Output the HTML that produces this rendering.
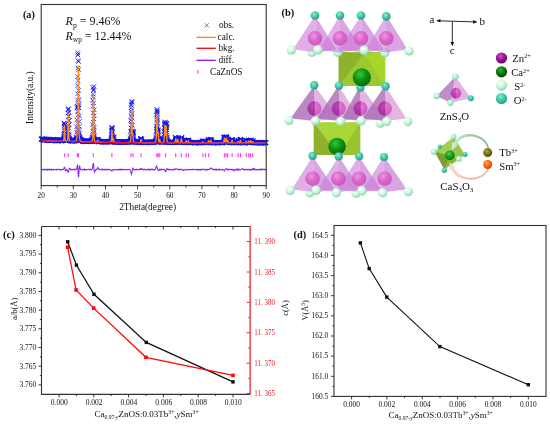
<!DOCTYPE html>
<html><head><meta charset="utf-8"><title>Figure</title>
<style>
html,body{margin:0;padding:0;background:#fff;}
body{width:550px;height:425px;overflow:hidden;}
svg{display:block;}
text{font-family:"Liberation Serif",serif;fill:#111;}
.t7{font-size:7px;}
.red{fill:#f0141e;}
.simsun{font-family:"Liberation Serif","Noto Serif CJK SC",serif;}
</style></head><body>
<svg width="550" height="425" viewBox="0 0 550 425">
<defs>
<radialGradient id="gZn" cx="40%" cy="33%" r="68%"><stop offset="0" stop-color="#f092e2"/><stop offset="0.5" stop-color="#dc5cc8"/><stop offset="1" stop-color="#c650b6"/></radialGradient>
<radialGradient id="gZnL" cx="40%" cy="33%" r="68%"><stop offset="0" stop-color="#d848d4"/><stop offset="0.5" stop-color="#a212a2"/><stop offset="1" stop-color="#660066"/></radialGradient>
<radialGradient id="gCa" cx="40%" cy="33%" r="70%"><stop offset="0" stop-color="#3cc638"/><stop offset="0.5" stop-color="#0e9212"/><stop offset="1" stop-color="#066208"/></radialGradient>
<radialGradient id="gCa2" cx="40%" cy="33%" r="70%"><stop offset="0" stop-color="#48d048"/><stop offset="0.5" stop-color="#14a020"/><stop offset="1" stop-color="#087010"/></radialGradient>
<radialGradient id="gCaL" cx="40%" cy="33%" r="70%"><stop offset="0" stop-color="#34b434"/><stop offset="0.5" stop-color="#087a0a"/><stop offset="1" stop-color="#004400"/></radialGradient>
<radialGradient id="gS" cx="40%" cy="33%" r="70%"><stop offset="0" stop-color="#ffffff"/><stop offset="0.5" stop-color="#cef8e0"/><stop offset="1" stop-color="#86cea8"/></radialGradient>
<radialGradient id="gS2" cx="40%" cy="33%" r="70%"><stop offset="0" stop-color="#eafff2"/><stop offset="0.5" stop-color="#b2f2d0"/><stop offset="1" stop-color="#7cd0a6"/></radialGradient>
<radialGradient id="gO" cx="40%" cy="33%" r="70%"><stop offset="0" stop-color="#8cecd6"/><stop offset="0.5" stop-color="#44c6a8"/><stop offset="1" stop-color="#249a82"/></radialGradient>
<radialGradient id="gTb" cx="40%" cy="33%" r="70%"><stop offset="0" stop-color="#a8a844"/><stop offset="0.5" stop-color="#74741a"/><stop offset="1" stop-color="#484800"/></radialGradient>
<radialGradient id="gSm" cx="40%" cy="33%" r="70%"><stop offset="0" stop-color="#ffaa58"/><stop offset="0.5" stop-color="#ff640a"/><stop offset="1" stop-color="#d04400"/></radialGradient>
<linearGradient id="gArcG" gradientUnits="userSpaceOnUse" x1="489" y1="0" x2="450" y2="0"><stop offset="0" stop-color="#86b088"/><stop offset="0.6" stop-color="#aed4ae"/><stop offset="1" stop-color="#dcf2dc"/></linearGradient>
<linearGradient id="gArcP" gradientUnits="userSpaceOnUse" x1="489" y1="0" x2="447" y2="0"><stop offset="0" stop-color="#efb49a"/><stop offset="0.6" stop-color="#f4c8b2"/><stop offset="1" stop-color="#f9dccc"/></linearGradient>
<filter id="soft" x="-5%" y="-5%" width="110%" height="110%"><feGaussianBlur stdDeviation="0.45"/></filter>
<path id="xm" d="M-2.2,-2.2L2.2,2.2M-2.2,2.2L2.2,-2.2" stroke="#3a3ae4" stroke-width="0.7" fill="none"/>
</defs>
<rect width="550" height="425" fill="#fff"/>

<g id="xrd">
<polyline fill="none" stroke="#1212ee" stroke-width="4.6" stroke-linejoin="round" points="41.2,139.6 41.5,139.6 41.8,139.6 42.2,139.6 42.5,139.6 42.8,139.6 43.1,139.7 43.5,139.7 43.8,139.7 44.1,139.7 44.4,139.7 44.7,139.8 45.1,139.8 45.4,139.8 45.7,139.8 46.0,139.8 46.3,139.8 46.7,139.9 47.0,139.9 47.3,139.9 47.6,139.9 48.0,139.9 48.3,139.9 48.6,140.0 48.9,140.0 49.2,140.0 49.6,140.0 49.9,140.0 50.2,140.0 50.5,140.1 50.8,140.1 51.2,140.1 51.5,140.1 51.8,140.1 52.1,140.1 52.5,140.1 52.8,140.2 53.1,140.2 53.4,140.2 53.7,140.2 54.1,140.2 54.4,140.2 54.7,140.2 55.0,140.3 55.3,140.3 55.7,140.3 56.0,140.3 56.3,140.3 56.6,140.3 57.0,140.3 57.3,140.4 57.6,140.4 57.9,140.4 58.2,140.4 58.6,140.4 58.9,140.4 59.2,140.4 59.5,140.4 59.8,140.4 60.2,140.4 60.5,140.5 60.8,140.5 61.1,140.5 61.5,140.5 61.8,140.5 62.1,140.4 62.4,140.4 62.7,140.4 63.1,140.3 63.4,140.1 63.7,139.6 64.0,138.0 64.3,138.0 64.7,138.0 65.0,138.0 65.3,139.6 65.6,140.1 66.0,140.2 66.3,140.3 66.6,140.2 66.9,140.1 67.2,139.8 67.6,138.9 67.9,138.1 68.2,138.1 68.5,138.1 68.8,138.2 69.2,138.9 69.5,140.0 69.8,140.3 70.1,140.4 70.5,140.5 70.8,140.6 71.1,140.7 71.4,140.7 71.7,140.7 72.1,140.7 72.4,140.7 72.7,140.7 73.0,140.7 73.3,140.7 73.7,140.7 74.0,140.7 74.3,140.7 74.6,140.6 75.0,140.5 75.3,140.4 75.6,140.3 75.9,140.1 76.2,139.7 76.6,139.0 76.9,138.4 77.2,138.4 77.5,138.4 77.8,138.5 78.2,138.5 78.5,138.5 78.8,138.5 79.1,138.5 79.5,138.5 79.8,139.0 80.1,139.7 80.4,140.1 80.7,140.4 81.1,140.6 81.4,140.7 81.7,140.8 82.0,140.9 82.3,141.0 82.7,141.0 83.0,141.0 83.3,141.1 83.6,141.1 84.0,141.1 84.3,141.2 84.6,141.2 84.9,141.2 85.2,141.2 85.6,141.2 85.9,141.2 86.2,141.2 86.5,141.3 86.8,141.3 87.2,141.3 87.5,141.3 87.8,141.3 88.1,141.3 88.5,141.3 88.8,141.3 89.1,141.3 89.4,141.3 89.7,141.3 90.1,141.2 90.4,141.2 90.7,141.2 91.0,141.1 91.3,141.0 91.7,140.8 92.0,140.5 92.3,139.9 92.6,138.9 93.0,138.9 93.3,138.9 93.6,138.9 93.9,138.9 94.2,138.9 94.6,140.0 94.9,140.6 95.2,140.9 95.5,141.1 95.8,141.2 96.2,141.3 96.5,141.3 96.8,141.4 97.1,141.3 97.5,140.5 97.8,139.4 98.1,140.5 98.4,141.4 98.7,141.5 99.1,141.6 99.4,141.6 99.7,141.6 100.0,141.6 100.3,141.6 100.7,141.6 101.0,141.7 101.3,141.7 101.6,141.7 102.0,141.7 102.3,141.7 102.6,141.7 102.9,141.7 103.2,141.7 103.6,141.7 103.9,141.7 104.2,141.7 104.5,141.7 104.8,141.8 105.2,141.8 105.5,141.8 105.8,141.8 106.1,141.8 106.5,141.8 106.8,141.8 107.1,141.8 107.4,141.8 107.7,141.8 108.1,141.8 108.4,141.8 108.7,141.8 109.0,141.8 109.3,141.8 109.7,141.7 110.0,141.7 110.3,141.6 110.6,141.5 111.0,141.2 111.3,139.6 111.6,139.2 111.9,139.2 112.2,139.2 112.6,139.5 112.9,140.3 113.2,139.3 113.5,139.3 113.8,140.8 114.2,141.6 114.5,141.8 114.8,141.8 115.1,141.9 115.5,141.9 115.8,141.9 116.1,141.9 116.4,141.9 116.7,141.9 117.1,142.0 117.4,142.0 117.7,142.0 118.0,142.0 118.3,142.0 118.7,142.0 119.0,142.0 119.3,142.0 119.6,142.0 120.0,142.0 120.3,142.0 120.6,142.0 120.9,142.0 121.2,142.0 121.6,142.0 121.9,142.0 122.2,142.0 122.5,142.0 122.8,142.0 123.2,142.0 123.5,142.0 123.8,142.0 124.1,142.0 124.5,142.0 124.8,142.1 125.1,142.1 125.4,142.1 125.7,142.1 126.1,142.0 126.4,142.0 126.7,142.0 127.0,142.0 127.3,142.0 127.7,142.0 128.0,142.0 128.3,142.0 128.6,141.9 129.0,141.9 129.3,141.8 129.6,141.7 129.9,141.5 130.2,141.2 130.6,140.6 130.9,139.5 131.2,139.5 131.5,139.5 131.8,139.5 132.2,139.5 132.5,139.5 132.8,139.5 133.1,139.5 133.5,140.4 133.8,141.4 134.1,141.7 134.4,141.8 134.7,141.9 135.1,142.0 135.4,142.0 135.7,142.1 136.0,142.1 136.3,142.1 136.7,142.1 137.0,142.1 137.3,142.2 137.6,142.2 138.0,142.2 138.3,142.2 138.6,142.2 138.9,142.2 139.2,142.2 139.6,142.2 139.9,142.1 140.2,141.9 140.5,141.0 140.8,139.6 141.2,139.6 141.5,141.0 141.8,141.9 142.1,142.1 142.5,142.2 142.8,142.2 143.1,142.2 143.4,142.3 143.7,142.3 144.1,142.3 144.4,142.3 144.7,142.3 145.0,142.3 145.3,142.3 145.7,142.3 146.0,142.3 146.3,142.3 146.6,142.3 147.0,142.3 147.3,142.3 147.6,142.3 147.9,142.3 148.2,142.3 148.6,142.3 148.9,142.3 149.2,142.3 149.5,142.3 149.8,142.3 150.2,142.3 150.5,142.3 150.8,142.3 151.1,142.3 151.5,142.3 151.8,142.3 152.1,142.3 152.4,142.3 152.7,142.3 153.1,142.2 153.4,142.2 153.7,142.2 154.0,142.1 154.3,142.1 154.7,142.0 155.0,141.9 155.3,141.7 155.6,141.3 156.0,140.2 156.3,139.7 156.6,139.7 156.9,139.8 157.2,139.8 157.6,139.8 157.9,139.8 158.2,139.8 158.5,139.8 158.8,140.9 159.2,141.1 159.5,140.0 159.8,139.8 160.1,140.2 160.5,141.6 160.8,142.0 161.1,142.1 161.4,142.1 161.7,142.2 162.1,142.2 162.4,142.1 162.7,142.1 163.0,142.0 163.3,141.9 163.7,141.6 164.0,140.9 164.3,139.8 164.6,139.8 165.0,139.8 165.3,139.8 165.6,139.8 165.9,139.8 166.2,139.8 166.6,139.8 166.9,139.8 167.2,141.1 167.5,141.7 167.8,142.0 168.2,142.1 168.5,142.2 168.8,142.3 169.1,142.3 169.5,142.3 169.8,142.4 170.1,142.4 170.4,142.4 170.7,142.4 171.1,142.4 171.4,142.4 171.7,142.4 172.0,142.4 172.3,142.4 172.7,142.4 173.0,142.4 173.3,142.4 173.6,142.4 174.0,142.4 174.3,142.4 174.6,142.3 174.9,141.9 175.2,140.6 175.6,139.9 175.9,139.9 176.2,140.5 176.5,141.8 176.8,142.0 177.2,141.6 177.5,140.1 177.8,139.9 178.1,140.1 178.5,141.6 178.8,142.2 179.1,142.4 179.4,142.4 179.7,142.4 180.1,142.3 180.4,142.2 180.7,141.5 181.0,139.9 181.3,139.9 181.7,139.9 182.0,141.5 182.3,142.2 182.6,142.4 183.0,142.4 183.3,142.5 183.6,142.5 183.9,142.5 184.2,142.5 184.6,142.5 184.9,142.5 185.2,142.4 185.5,142.0 185.8,141.1 186.2,140.2 186.5,141.1 186.8,142.0 187.1,142.4 187.5,142.4 187.8,142.0 188.1,141.1 188.4,140.2 188.7,141.1 189.1,142.1 189.4,142.4 189.7,142.5 190.0,142.5 190.3,142.6 190.7,142.6 191.0,142.6 191.3,142.6 191.6,142.6 192.0,142.6 192.3,142.6 192.6,142.6 192.9,142.6 193.2,142.6 193.6,142.6 193.9,142.6 194.2,142.6 194.5,142.6 194.8,142.6 195.2,142.6 195.5,142.6 195.8,142.6 196.1,142.6 196.5,142.6 196.8,142.6 197.1,142.6 197.4,142.6 197.7,142.6 198.1,142.6 198.4,142.6 198.7,142.6 199.0,142.6 199.3,142.6 199.7,142.6 200.0,142.6 200.3,142.6 200.6,142.6 201.0,142.6 201.3,142.6 201.6,142.6 201.9,142.5 202.2,142.3 202.6,141.6 202.9,141.0 203.2,141.6 203.5,142.3 203.8,142.5 204.2,142.6 204.5,142.6 204.8,142.6 205.1,142.6 205.5,142.6 205.8,142.6 206.1,142.6 206.4,142.6 206.7,142.6 207.1,142.6 207.4,142.6 207.7,142.5 208.0,142.1 208.3,140.9 208.7,140.0 209.0,140.9 209.3,142.0 209.6,142.4 210.0,142.4 210.3,141.9 210.6,140.6 210.9,140.0 211.2,140.6 211.6,142.0 211.9,142.5 212.2,142.6 212.5,142.6 212.8,142.6 213.2,142.6 213.5,142.7 213.8,142.7 214.1,142.7 214.5,142.7 214.8,142.7 215.1,142.7 215.4,142.7 215.7,142.7 216.1,142.7 216.4,142.7 216.7,142.7 217.0,142.7 217.3,142.7 217.7,142.7 218.0,142.7 218.3,142.7 218.6,142.7 218.9,142.7 219.3,142.7 219.6,142.7 219.9,142.7 220.2,142.7 220.6,142.7 220.9,142.7 221.2,142.7 221.5,142.6 221.8,142.6 222.2,142.6 222.5,142.6 222.8,142.5 223.1,142.5 223.4,142.2 223.8,141.2 224.1,140.0 224.4,140.0 224.7,140.0 225.1,141.0 225.4,141.7 225.7,141.0 226.0,140.0 226.3,140.1 226.7,140.1 227.0,140.9 227.3,141.5 227.6,140.6 227.9,140.1 228.3,140.8 228.6,141.9 228.9,142.4 229.2,142.5 229.6,142.6 229.9,142.6 230.2,142.6 230.5,142.6 230.8,142.6 231.2,142.5 231.5,142.0 231.8,140.7 232.1,140.1 232.4,140.7 232.8,142.0 233.1,142.5 233.4,142.6 233.7,142.6 234.1,142.7 234.4,142.7 234.7,142.7 235.0,142.7 235.3,142.7 235.7,142.7 236.0,142.7 236.3,142.7 236.6,142.7 236.9,142.6 237.3,142.6 237.6,142.3 237.9,141.5 238.2,140.8 238.6,141.5 238.9,142.2 239.2,142.5 239.5,142.5 239.8,142.0 240.2,140.7 240.5,140.1 240.8,140.7 241.1,142.0 241.4,142.5 241.8,142.6 242.1,142.7 242.4,142.7 242.7,142.7 243.1,142.7 243.4,142.7 243.7,142.7 244.0,142.7 244.3,142.7 244.7,142.7 245.0,142.7 245.3,142.6 245.6,142.3 245.9,141.4 246.3,140.6 246.6,141.4 246.9,142.2 247.2,142.5 247.6,142.6 247.9,142.5 248.2,142.2 248.5,141.2 248.8,140.3 249.2,141.2 249.5,142.1 249.8,142.4 250.1,142.1 250.4,141.0 250.8,140.1 251.1,141.0 251.4,142.1 251.7,142.5 252.1,142.3 252.4,141.7 252.7,141.1 253.0,141.7 253.3,142.4 253.7,142.6 254.0,142.7 254.3,142.7 254.6,142.7 254.9,142.7 255.3,142.7 255.6,142.8 255.9,142.8 256.2,142.8 256.6,142.8 256.9,142.8 257.2,142.8 257.5,142.8 257.8,142.8 258.2,142.8 258.5,142.8 258.8,142.8 259.1,142.8 259.4,142.8 259.8,142.8 260.1,142.8 260.4,142.8 260.7,142.8 261.1,142.8 261.4,142.8 261.7,142.8 262.0,142.8 262.3,142.8 262.7,142.8 263.0,142.8 263.3,142.8 263.6,142.8 263.9,142.8 264.3,142.8 264.6,142.8 264.9,142.8 265.2,142.8 265.6,142.8 265.9,142.8 266.2,142.8"/>
<path d="M39.0,137.0l4.4,4.4m-4.4,0l4.4,-4.4M39.1,136.7l4.4,4.4m-4.4,0l4.4,-4.4M39.3,137.7l4.4,4.4m-4.4,0l4.4,-4.4M39.4,136.6l4.4,4.4m-4.4,0l4.4,-4.4M39.6,137.5l4.4,4.4m-4.4,0l4.4,-4.4M39.7,137.1l4.4,4.4m-4.4,0l4.4,-4.4M39.9,136.6l4.4,4.4m-4.4,0l4.4,-4.4M40.0,137.4l4.4,4.4m-4.4,0l4.4,-4.4M40.2,136.6l4.4,4.4m-4.4,0l4.4,-4.4M40.3,137.3l4.4,4.4m-4.4,0l4.4,-4.4M40.4,136.6l4.4,4.4m-4.4,0l4.4,-4.4M40.6,136.7l4.4,4.4m-4.4,0l4.4,-4.4M40.7,137.3l4.4,4.4m-4.4,0l4.4,-4.4M40.9,138.1l4.4,4.4m-4.4,0l4.4,-4.4M41.0,136.8l4.4,4.4m-4.4,0l4.4,-4.4M41.2,137.0l4.4,4.4m-4.4,0l4.4,-4.4M41.3,137.7l4.4,4.4m-4.4,0l4.4,-4.4M41.5,138.3l4.4,4.4m-4.4,0l4.4,-4.4M41.6,137.6l4.4,4.4m-4.4,0l4.4,-4.4M41.7,137.3l4.4,4.4m-4.4,0l4.4,-4.4M41.9,138.4l4.4,4.4m-4.4,0l4.4,-4.4M42.0,136.7l4.4,4.4m-4.4,0l4.4,-4.4M42.2,138.2l4.4,4.4m-4.4,0l4.4,-4.4M42.3,137.2l4.4,4.4m-4.4,0l4.4,-4.4M42.5,136.9l4.4,4.4m-4.4,0l4.4,-4.4M42.6,136.9l4.4,4.4m-4.4,0l4.4,-4.4M42.8,137.2l4.4,4.4m-4.4,0l4.4,-4.4M42.9,138.1l4.4,4.4m-4.4,0l4.4,-4.4M43.1,137.0l4.4,4.4m-4.4,0l4.4,-4.4M43.2,137.7l4.4,4.4m-4.4,0l4.4,-4.4M43.3,137.8l4.4,4.4m-4.4,0l4.4,-4.4M43.5,137.4l4.4,4.4m-4.4,0l4.4,-4.4M43.6,137.7l4.4,4.4m-4.4,0l4.4,-4.4M43.8,136.8l4.4,4.4m-4.4,0l4.4,-4.4M43.9,136.8l4.4,4.4m-4.4,0l4.4,-4.4M44.1,137.1l4.4,4.4m-4.4,0l4.4,-4.4M44.2,138.0l4.4,4.4m-4.4,0l4.4,-4.4M44.4,137.5l4.4,4.4m-4.4,0l4.4,-4.4M44.5,137.3l4.4,4.4m-4.4,0l4.4,-4.4M44.6,137.8l4.4,4.4m-4.4,0l4.4,-4.4M44.8,137.6l4.4,4.4m-4.4,0l4.4,-4.4M44.9,137.3l4.4,4.4m-4.4,0l4.4,-4.4M45.1,138.2l4.4,4.4m-4.4,0l4.4,-4.4M45.2,138.0l4.4,4.4m-4.4,0l4.4,-4.4M45.4,137.3l4.4,4.4m-4.4,0l4.4,-4.4M45.5,137.8l4.4,4.4m-4.4,0l4.4,-4.4M45.7,137.8l4.4,4.4m-4.4,0l4.4,-4.4M45.8,138.4l4.4,4.4m-4.4,0l4.4,-4.4M45.9,138.1l4.4,4.4m-4.4,0l4.4,-4.4M46.1,137.4l4.4,4.4m-4.4,0l4.4,-4.4M46.2,138.6l4.4,4.4m-4.4,0l4.4,-4.4M46.4,137.1l4.4,4.4m-4.4,0l4.4,-4.4M46.5,137.6l4.4,4.4m-4.4,0l4.4,-4.4M46.7,138.2l4.4,4.4m-4.4,0l4.4,-4.4M46.8,137.2l4.4,4.4m-4.4,0l4.4,-4.4M47.0,137.8l4.4,4.4m-4.4,0l4.4,-4.4M47.1,137.0l4.4,4.4m-4.4,0l4.4,-4.4M47.2,138.1l4.4,4.4m-4.4,0l4.4,-4.4M47.4,138.3l4.4,4.4m-4.4,0l4.4,-4.4M47.5,137.9l4.4,4.4m-4.4,0l4.4,-4.4M47.7,138.5l4.4,4.4m-4.4,0l4.4,-4.4M47.8,137.5l4.4,4.4m-4.4,0l4.4,-4.4M48.0,138.2l4.4,4.4m-4.4,0l4.4,-4.4M48.1,138.0l4.4,4.4m-4.4,0l4.4,-4.4M48.3,138.0l4.4,4.4m-4.4,0l4.4,-4.4M48.4,137.8l4.4,4.4m-4.4,0l4.4,-4.4M48.5,138.4l4.4,4.4m-4.4,0l4.4,-4.4M48.7,138.6l4.4,4.4m-4.4,0l4.4,-4.4M48.8,137.8l4.4,4.4m-4.4,0l4.4,-4.4M49.0,138.2l4.4,4.4m-4.4,0l4.4,-4.4M49.1,137.2l4.4,4.4m-4.4,0l4.4,-4.4M49.3,138.2l4.4,4.4m-4.4,0l4.4,-4.4M49.4,138.2l4.4,4.4m-4.4,0l4.4,-4.4M49.6,138.7l4.4,4.4m-4.4,0l4.4,-4.4M49.7,138.5l4.4,4.4m-4.4,0l4.4,-4.4M49.8,137.6l4.4,4.4m-4.4,0l4.4,-4.4M50.0,137.7l4.4,4.4m-4.4,0l4.4,-4.4M50.1,138.2l4.4,4.4m-4.4,0l4.4,-4.4M50.3,137.2l4.4,4.4m-4.4,0l4.4,-4.4M50.4,137.9l4.4,4.4m-4.4,0l4.4,-4.4M50.6,137.4l4.4,4.4m-4.4,0l4.4,-4.4M50.7,137.3l4.4,4.4m-4.4,0l4.4,-4.4M50.9,137.3l4.4,4.4m-4.4,0l4.4,-4.4M51.0,138.4l4.4,4.4m-4.4,0l4.4,-4.4M51.2,137.4l4.4,4.4m-4.4,0l4.4,-4.4M51.3,137.6l4.4,4.4m-4.4,0l4.4,-4.4M51.4,137.8l4.4,4.4m-4.4,0l4.4,-4.4M51.6,138.6l4.4,4.4m-4.4,0l4.4,-4.4M51.7,137.3l4.4,4.4m-4.4,0l4.4,-4.4M51.9,137.9l4.4,4.4m-4.4,0l4.4,-4.4M52.0,138.1l4.4,4.4m-4.4,0l4.4,-4.4M52.2,138.7l4.4,4.4m-4.4,0l4.4,-4.4M52.3,138.6l4.4,4.4m-4.4,0l4.4,-4.4M52.5,138.6l4.4,4.4m-4.4,0l4.4,-4.4M52.6,137.7l4.4,4.4m-4.4,0l4.4,-4.4M52.7,137.9l4.4,4.4m-4.4,0l4.4,-4.4M52.9,137.8l4.4,4.4m-4.4,0l4.4,-4.4M53.0,138.7l4.4,4.4m-4.4,0l4.4,-4.4M53.2,138.8l4.4,4.4m-4.4,0l4.4,-4.4M53.3,137.5l4.4,4.4m-4.4,0l4.4,-4.4M53.5,137.6l4.4,4.4m-4.4,0l4.4,-4.4M53.6,137.7l4.4,4.4m-4.4,0l4.4,-4.4M53.8,137.7l4.4,4.4m-4.4,0l4.4,-4.4M53.9,138.1l4.4,4.4m-4.4,0l4.4,-4.4M54.0,138.3l4.4,4.4m-4.4,0l4.4,-4.4M54.2,137.7l4.4,4.4m-4.4,0l4.4,-4.4M54.3,137.3l4.4,4.4m-4.4,0l4.4,-4.4M54.5,138.0l4.4,4.4m-4.4,0l4.4,-4.4M54.6,137.9l4.4,4.4m-4.4,0l4.4,-4.4M54.8,138.2l4.4,4.4m-4.4,0l4.4,-4.4M54.9,138.9l4.4,4.4m-4.4,0l4.4,-4.4M55.1,138.4l4.4,4.4m-4.4,0l4.4,-4.4M55.2,138.2l4.4,4.4m-4.4,0l4.4,-4.4M55.3,138.3l4.4,4.4m-4.4,0l4.4,-4.4M55.5,138.4l4.4,4.4m-4.4,0l4.4,-4.4M55.6,137.5l4.4,4.4m-4.4,0l4.4,-4.4M55.8,138.8l4.4,4.4m-4.4,0l4.4,-4.4M55.9,138.6l4.4,4.4m-4.4,0l4.4,-4.4M56.1,138.8l4.4,4.4m-4.4,0l4.4,-4.4M56.2,138.7l4.4,4.4m-4.4,0l4.4,-4.4M56.4,138.0l4.4,4.4m-4.4,0l4.4,-4.4M56.5,138.0l4.4,4.4m-4.4,0l4.4,-4.4M56.6,137.6l4.4,4.4m-4.4,0l4.4,-4.4M56.8,138.4l4.4,4.4m-4.4,0l4.4,-4.4M56.9,137.5l4.4,4.4m-4.4,0l4.4,-4.4M57.1,137.6l4.4,4.4m-4.4,0l4.4,-4.4M57.2,137.8l4.4,4.4m-4.4,0l4.4,-4.4M57.4,137.7l4.4,4.4m-4.4,0l4.4,-4.4M57.5,138.0l4.4,4.4m-4.4,0l4.4,-4.4M57.7,137.6l4.4,4.4m-4.4,0l4.4,-4.4M57.8,137.5l4.4,4.4m-4.4,0l4.4,-4.4M57.9,137.7l4.4,4.4m-4.4,0l4.4,-4.4M58.1,137.6l4.4,4.4m-4.4,0l4.4,-4.4M58.2,138.0l4.4,4.4m-4.4,0l4.4,-4.4M58.4,137.5l4.4,4.4m-4.4,0l4.4,-4.4M58.5,138.8l4.4,4.4m-4.4,0l4.4,-4.4M58.7,138.4l4.4,4.4m-4.4,0l4.4,-4.4M58.8,137.7l4.4,4.4m-4.4,0l4.4,-4.4M59.0,137.9l4.4,4.4m-4.4,0l4.4,-4.4M59.1,138.0l4.4,4.4m-4.4,0l4.4,-4.4M59.3,138.1l4.4,4.4m-4.4,0l4.4,-4.4M59.4,137.7l4.4,4.4m-4.4,0l4.4,-4.4M59.5,138.8l4.4,4.4m-4.4,0l4.4,-4.4M59.7,139.0l4.4,4.4m-4.4,0l4.4,-4.4M59.8,138.2l4.4,4.4m-4.4,0l4.4,-4.4M60.0,138.2l4.4,4.4m-4.4,0l4.4,-4.4M60.1,137.6l4.4,4.4m-4.4,0l4.4,-4.4M60.3,137.6l4.4,4.4m-4.4,0l4.4,-4.4M60.4,138.0l4.4,4.4m-4.4,0l4.4,-4.4M60.6,137.8l4.4,4.4m-4.4,0l4.4,-4.4M60.7,138.6l4.4,4.4m-4.4,0l4.4,-4.4M60.8,137.6l4.4,4.4m-4.4,0l4.4,-4.4M61.0,137.3l4.4,4.4m-4.4,0l4.4,-4.4M61.1,138.6l4.4,4.4m-4.4,0l4.4,-4.4M61.3,137.8l4.4,4.4m-4.4,0l4.4,-4.4M61.4,137.0l4.4,4.4m-4.4,0l4.4,-4.4M61.6,137.1l4.4,4.4m-4.4,0l4.4,-4.4M61.6,135.9l4.4,4.4m-4.4,0l4.4,-4.4M61.7,136.0l4.4,4.4m-4.4,0l4.4,-4.4M62.3,135.8l4.4,4.4m-4.4,0l4.4,-4.4M61.5,134.1l4.4,4.4m-4.4,0l4.4,-4.4M61.4,132.1l4.4,4.4m-4.4,0l4.4,-4.4M62.0,130.9l4.4,4.4m-4.4,0l4.4,-4.4M61.8,128.7l4.4,4.4m-4.4,0l4.4,-4.4M62.5,125.6l4.4,4.4m-4.4,0l4.4,-4.4M62.6,124.5l4.4,4.4m-4.4,0l4.4,-4.4M62.7,122.4l4.4,4.4m-4.4,0l4.4,-4.4M61.9,121.3l4.4,4.4m-4.4,0l4.4,-4.4M62.1,120.9l4.4,4.4m-4.4,0l4.4,-4.4M61.7,121.3l4.4,4.4m-4.4,0l4.4,-4.4M62.1,123.5l4.4,4.4m-4.4,0l4.4,-4.4M63.2,126.3l4.4,4.4m-4.4,0l4.4,-4.4M63.2,128.2l4.4,4.4m-4.4,0l4.4,-4.4M63.3,131.2l4.4,4.4m-4.4,0l4.4,-4.4M62.3,132.1l4.4,4.4m-4.4,0l4.4,-4.4M62.4,133.5l4.4,4.4m-4.4,0l4.4,-4.4M63.0,134.6l4.4,4.4m-4.4,0l4.4,-4.4M62.9,136.5l4.4,4.4m-4.4,0l4.4,-4.4M63.0,137.1l4.4,4.4m-4.4,0l4.4,-4.4M63.0,137.0l4.4,4.4m-4.4,0l4.4,-4.4M63.1,137.5l4.4,4.4m-4.4,0l4.4,-4.4M63.2,137.9l4.4,4.4m-4.4,0l4.4,-4.4M63.3,137.2l4.4,4.4m-4.4,0l4.4,-4.4M63.5,138.1l4.4,4.4m-4.4,0l4.4,-4.4M63.6,138.5l4.4,4.4m-4.4,0l4.4,-4.4M63.8,138.4l4.4,4.4m-4.4,0l4.4,-4.4M63.9,138.4l4.4,4.4m-4.4,0l4.4,-4.4M64.0,138.0l4.4,4.4m-4.4,0l4.4,-4.4M64.2,137.6l4.4,4.4m-4.4,0l4.4,-4.4M64.3,138.4l4.4,4.4m-4.4,0l4.4,-4.4M64.5,137.7l4.4,4.4m-4.4,0l4.4,-4.4M64.6,138.4l4.4,4.4m-4.4,0l4.4,-4.4M64.8,138.5l4.4,4.4m-4.4,0l4.4,-4.4M64.9,137.6l4.4,4.4m-4.4,0l4.4,-4.4M65.1,137.4l4.4,4.4m-4.4,0l4.4,-4.4M65.2,137.9l4.4,4.4m-4.4,0l4.4,-4.4M65.3,137.4l4.4,4.4m-4.4,0l4.4,-4.4M65.3,136.3l4.4,4.4m-4.4,0l4.4,-4.4M65.4,135.8l4.4,4.4m-4.4,0l4.4,-4.4M65.5,135.2l4.4,4.4m-4.4,0l4.4,-4.4M65.9,135.3l4.4,4.4m-4.4,0l4.4,-4.4M66.0,132.9l4.4,4.4m-4.4,0l4.4,-4.4M65.9,132.2l4.4,4.4m-4.4,0l4.4,-4.4M65.8,128.9l4.4,4.4m-4.4,0l4.4,-4.4M65.1,125.5l4.4,4.4m-4.4,0l4.4,-4.4M66.0,123.1l4.4,4.4m-4.4,0l4.4,-4.4M66.5,118.4l4.4,4.4m-4.4,0l4.4,-4.4M66.5,114.2l4.4,4.4m-4.4,0l4.4,-4.4M65.6,111.0l4.4,4.4m-4.4,0l4.4,-4.4M65.8,107.5l4.4,4.4m-4.4,0l4.4,-4.4M66.3,106.5l4.4,4.4m-4.4,0l4.4,-4.4M66.1,107.5l4.4,4.4m-4.4,0l4.4,-4.4M66.9,110.1l4.4,4.4m-4.4,0l4.4,-4.4M66.3,114.1l4.4,4.4m-4.4,0l4.4,-4.4M67.0,118.5l4.4,4.4m-4.4,0l4.4,-4.4M67.1,122.3l4.4,4.4m-4.4,0l4.4,-4.4M66.6,126.1l4.4,4.4m-4.4,0l4.4,-4.4M65.9,129.1l4.4,4.4m-4.4,0l4.4,-4.4M66.2,131.5l4.4,4.4m-4.4,0l4.4,-4.4M67.2,132.7l4.4,4.4m-4.4,0l4.4,-4.4M66.8,134.3l4.4,4.4m-4.4,0l4.4,-4.4M66.9,136.0l4.4,4.4m-4.4,0l4.4,-4.4M66.9,136.5l4.4,4.4m-4.4,0l4.4,-4.4M67.0,136.6l4.4,4.4m-4.4,0l4.4,-4.4M67.1,137.2l4.4,4.4m-4.4,0l4.4,-4.4M67.1,137.4l4.4,4.4m-4.4,0l4.4,-4.4M67.2,137.9l4.4,4.4m-4.4,0l4.4,-4.4M67.3,137.2l4.4,4.4m-4.4,0l4.4,-4.4M67.5,138.0l4.4,4.4m-4.4,0l4.4,-4.4M67.6,137.7l4.4,4.4m-4.4,0l4.4,-4.4M67.8,137.8l4.4,4.4m-4.4,0l4.4,-4.4M67.9,138.6l4.4,4.4m-4.4,0l4.4,-4.4M68.1,138.3l4.4,4.4m-4.4,0l4.4,-4.4M68.2,138.4l4.4,4.4m-4.4,0l4.4,-4.4M68.3,138.7l4.4,4.4m-4.4,0l4.4,-4.4M68.5,138.9l4.4,4.4m-4.4,0l4.4,-4.4M68.6,138.3l4.4,4.4m-4.4,0l4.4,-4.4M68.8,138.6l4.4,4.4m-4.4,0l4.4,-4.4M68.9,138.5l4.4,4.4m-4.4,0l4.4,-4.4M69.1,138.5l4.4,4.4m-4.4,0l4.4,-4.4M69.2,138.7l4.4,4.4m-4.4,0l4.4,-4.4M69.4,138.4l4.4,4.4m-4.4,0l4.4,-4.4M69.5,138.5l4.4,4.4m-4.4,0l4.4,-4.4M69.6,138.5l4.4,4.4m-4.4,0l4.4,-4.4M69.8,139.1l4.4,4.4m-4.4,0l4.4,-4.4M69.9,138.8l4.4,4.4m-4.4,0l4.4,-4.4M70.1,139.0l4.4,4.4m-4.4,0l4.4,-4.4M70.2,139.1l4.4,4.4m-4.4,0l4.4,-4.4M70.4,138.2l4.4,4.4m-4.4,0l4.4,-4.4M70.5,138.6l4.4,4.4m-4.4,0l4.4,-4.4M70.7,139.1l4.4,4.4m-4.4,0l4.4,-4.4M70.8,139.0l4.4,4.4m-4.4,0l4.4,-4.4M71.0,138.0l4.4,4.4m-4.4,0l4.4,-4.4M71.1,138.0l4.4,4.4m-4.4,0l4.4,-4.4M71.2,138.4l4.4,4.4m-4.4,0l4.4,-4.4M71.4,137.9l4.4,4.4m-4.4,0l4.4,-4.4M71.5,138.2l4.4,4.4m-4.4,0l4.4,-4.4M71.7,137.9l4.4,4.4m-4.4,0l4.4,-4.4M71.8,138.7l4.4,4.4m-4.4,0l4.4,-4.4M72.0,138.8l4.4,4.4m-4.4,0l4.4,-4.4M72.1,139.0l4.4,4.4m-4.4,0l4.4,-4.4M72.3,138.0l4.4,4.4m-4.4,0l4.4,-4.4M72.4,138.7l4.4,4.4m-4.4,0l4.4,-4.4M72.5,138.6l4.4,4.4m-4.4,0l4.4,-4.4M72.7,137.9l4.4,4.4m-4.4,0l4.4,-4.4M72.8,138.8l4.4,4.4m-4.4,0l4.4,-4.4M73.0,138.8l4.4,4.4m-4.4,0l4.4,-4.4M73.1,137.8l4.4,4.4m-4.4,0l4.4,-4.4M73.3,138.7l4.4,4.4m-4.4,0l4.4,-4.4M73.4,137.9l4.4,4.4m-4.4,0l4.4,-4.4M73.6,137.9l4.4,4.4m-4.4,0l4.4,-4.4M73.7,138.5l4.4,4.4m-4.4,0l4.4,-4.4M73.8,138.1l4.4,4.4m-4.4,0l4.4,-4.4M73.9,137.2l4.4,4.4m-4.4,0l4.4,-4.4M74.0,137.4l4.4,4.4m-4.4,0l4.4,-4.4M74.0,137.4l4.4,4.4m-4.4,0l4.4,-4.4M74.1,137.1l4.4,4.4m-4.4,0l4.4,-4.4M74.2,136.8l4.4,4.4m-4.4,0l4.4,-4.4M74.2,136.8l4.4,4.4m-4.4,0l4.4,-4.4M74.3,137.1l4.4,4.4m-4.4,0l4.4,-4.4M74.4,136.0l4.4,4.4m-4.4,0l4.4,-4.4M74.4,136.4l4.4,4.4m-4.4,0l4.4,-4.4M74.5,135.9l4.4,4.4m-4.4,0l4.4,-4.4M74.3,134.9l4.4,4.4m-4.4,0l4.4,-4.4M74.6,134.9l4.4,4.4m-4.4,0l4.4,-4.4M75.4,133.2l4.4,4.4m-4.4,0l4.4,-4.4M75.4,132.7l4.4,4.4m-4.4,0l4.4,-4.4M74.5,130.0l4.4,4.4m-4.4,0l4.4,-4.4M75.3,127.5l4.4,4.4m-4.4,0l4.4,-4.4M74.4,124.7l4.4,4.4m-4.4,0l4.4,-4.4M75.6,121.3l4.4,4.4m-4.4,0l4.4,-4.4M74.7,117.8l4.4,4.4m-4.4,0l4.4,-4.4M75.7,112.7l4.4,4.4m-4.4,0l4.4,-4.4M75.5,109.3l4.4,4.4m-4.4,0l4.4,-4.4M74.6,105.5l4.4,4.4m-4.4,0l4.4,-4.4M75.2,104.4l4.4,4.4m-4.4,0l4.4,-4.4M76.0,103.3l4.4,4.4m-4.4,0l4.4,-4.4M75.9,104.6l4.4,4.4m-4.4,0l4.4,-4.4M76.0,104.8l4.4,4.4m-4.4,0l4.4,-4.4M76.1,105.1l4.4,4.4m-4.4,0l4.4,-4.4M75.4,104.7l4.4,4.4m-4.4,0l4.4,-4.4M76.3,102.3l4.4,4.4m-4.4,0l4.4,-4.4M75.3,97.6l4.4,4.4m-4.4,0l4.4,-4.4M75.5,91.7l4.4,4.4m-4.4,0l4.4,-4.4M75.4,83.4l4.4,4.4m-4.4,0l4.4,-4.4M75.5,74.5l4.4,4.4m-4.4,0l4.4,-4.4M75.8,65.8l4.4,4.4m-4.4,0l4.4,-4.4M75.8,58.4l4.4,4.4m-4.4,0l4.4,-4.4M75.7,52.5l4.4,4.4m-4.4,0l4.4,-4.4M75.5,50.4l4.4,4.4m-4.4,0l4.4,-4.4M75.6,52.7l4.4,4.4m-4.4,0l4.4,-4.4M76.4,59.4l4.4,4.4m-4.4,0l4.4,-4.4M76.4,67.4l4.4,4.4m-4.4,0l4.4,-4.4M75.9,78.3l4.4,4.4m-4.4,0l4.4,-4.4M76.4,88.3l4.4,4.4m-4.4,0l4.4,-4.4M77.1,97.5l4.4,4.4m-4.4,0l4.4,-4.4M76.7,105.9l4.4,4.4m-4.4,0l4.4,-4.4M77.4,113.6l4.4,4.4m-4.4,0l4.4,-4.4M77.3,119.1l4.4,4.4m-4.4,0l4.4,-4.4M77.1,124.2l4.4,4.4m-4.4,0l4.4,-4.4M76.7,127.4l4.4,4.4m-4.4,0l4.4,-4.4M76.5,129.5l4.4,4.4m-4.4,0l4.4,-4.4M77.4,131.4l4.4,4.4m-4.4,0l4.4,-4.4M76.6,133.0l4.4,4.4m-4.4,0l4.4,-4.4M77.7,133.8l4.4,4.4m-4.4,0l4.4,-4.4M77.5,135.4l4.4,4.4m-4.4,0l4.4,-4.4M77.0,135.2l4.4,4.4m-4.4,0l4.4,-4.4M77.4,135.6l4.4,4.4m-4.4,0l4.4,-4.4M77.4,136.1l4.4,4.4m-4.4,0l4.4,-4.4M77.5,136.0l4.4,4.4m-4.4,0l4.4,-4.4M77.6,136.6l4.4,4.4m-4.4,0l4.4,-4.4M77.6,136.6l4.4,4.4m-4.4,0l4.4,-4.4M77.7,137.6l4.4,4.4m-4.4,0l4.4,-4.4M77.8,137.8l4.4,4.4m-4.4,0l4.4,-4.4M77.8,137.4l4.4,4.4m-4.4,0l4.4,-4.4M77.9,137.1l4.4,4.4m-4.4,0l4.4,-4.4M78.0,138.1l4.4,4.4m-4.4,0l4.4,-4.4M78.0,137.4l4.4,4.4m-4.4,0l4.4,-4.4M78.1,137.6l4.4,4.4m-4.4,0l4.4,-4.4M78.2,137.2l4.4,4.4m-4.4,0l4.4,-4.4M78.2,137.7l4.4,4.4m-4.4,0l4.4,-4.4M78.4,138.0l4.4,4.4m-4.4,0l4.4,-4.4M78.5,138.2l4.4,4.4m-4.4,0l4.4,-4.4M78.6,137.9l4.4,4.4m-4.4,0l4.4,-4.4M78.8,138.3l4.4,4.4m-4.4,0l4.4,-4.4M78.9,137.8l4.4,4.4m-4.4,0l4.4,-4.4M79.1,138.2l4.4,4.4m-4.4,0l4.4,-4.4M79.2,138.0l4.4,4.4m-4.4,0l4.4,-4.4M79.4,138.4l4.4,4.4m-4.4,0l4.4,-4.4M79.5,138.0l4.4,4.4m-4.4,0l4.4,-4.4M79.7,138.1l4.4,4.4m-4.4,0l4.4,-4.4M79.8,138.4l4.4,4.4m-4.4,0l4.4,-4.4M80.0,138.4l4.4,4.4m-4.4,0l4.4,-4.4M80.1,138.8l4.4,4.4m-4.4,0l4.4,-4.4M80.2,138.8l4.4,4.4m-4.4,0l4.4,-4.4M80.4,139.1l4.4,4.4m-4.4,0l4.4,-4.4M80.5,139.0l4.4,4.4m-4.4,0l4.4,-4.4M80.7,139.1l4.4,4.4m-4.4,0l4.4,-4.4M80.8,139.3l4.4,4.4m-4.4,0l4.4,-4.4M81.0,138.7l4.4,4.4m-4.4,0l4.4,-4.4M81.1,138.7l4.4,4.4m-4.4,0l4.4,-4.4M81.3,139.5l4.4,4.4m-4.4,0l4.4,-4.4M81.4,138.5l4.4,4.4m-4.4,0l4.4,-4.4M81.5,139.2l4.4,4.4m-4.4,0l4.4,-4.4M81.7,139.1l4.4,4.4m-4.4,0l4.4,-4.4M81.8,138.4l4.4,4.4m-4.4,0l4.4,-4.4M82.0,139.3l4.4,4.4m-4.4,0l4.4,-4.4M82.1,139.4l4.4,4.4m-4.4,0l4.4,-4.4M82.3,139.1l4.4,4.4m-4.4,0l4.4,-4.4M82.4,139.2l4.4,4.4m-4.4,0l4.4,-4.4M82.6,139.3l4.4,4.4m-4.4,0l4.4,-4.4M82.7,138.6l4.4,4.4m-4.4,0l4.4,-4.4M82.8,139.0l4.4,4.4m-4.4,0l4.4,-4.4M83.0,139.0l4.4,4.4m-4.4,0l4.4,-4.4M83.1,139.4l4.4,4.4m-4.4,0l4.4,-4.4M83.3,139.4l4.4,4.4m-4.4,0l4.4,-4.4M83.4,139.4l4.4,4.4m-4.4,0l4.4,-4.4M83.6,139.1l4.4,4.4m-4.4,0l4.4,-4.4M83.7,139.5l4.4,4.4m-4.4,0l4.4,-4.4M83.9,139.3l4.4,4.4m-4.4,0l4.4,-4.4M84.0,139.3l4.4,4.4m-4.4,0l4.4,-4.4M84.1,138.7l4.4,4.4m-4.4,0l4.4,-4.4M84.3,138.5l4.4,4.4m-4.4,0l4.4,-4.4M84.4,138.6l4.4,4.4m-4.4,0l4.4,-4.4M84.6,138.9l4.4,4.4m-4.4,0l4.4,-4.4M84.7,138.6l4.4,4.4m-4.4,0l4.4,-4.4M84.9,139.5l4.4,4.4m-4.4,0l4.4,-4.4M85.0,139.1l4.4,4.4m-4.4,0l4.4,-4.4M85.2,139.2l4.4,4.4m-4.4,0l4.4,-4.4M85.3,139.2l4.4,4.4m-4.4,0l4.4,-4.4M85.4,139.3l4.4,4.4m-4.4,0l4.4,-4.4M85.6,139.1l4.4,4.4m-4.4,0l4.4,-4.4M85.7,138.5l4.4,4.4m-4.4,0l4.4,-4.4M85.9,139.4l4.4,4.4m-4.4,0l4.4,-4.4M86.0,139.4l4.4,4.4m-4.4,0l4.4,-4.4M86.2,139.1l4.4,4.4m-4.4,0l4.4,-4.4M86.3,139.1l4.4,4.4m-4.4,0l4.4,-4.4M86.5,139.3l4.4,4.4m-4.4,0l4.4,-4.4M86.6,138.6l4.4,4.4m-4.4,0l4.4,-4.4M86.7,139.4l4.4,4.4m-4.4,0l4.4,-4.4M86.9,138.8l4.4,4.4m-4.4,0l4.4,-4.4M87.0,138.6l4.4,4.4m-4.4,0l4.4,-4.4M87.2,138.8l4.4,4.4m-4.4,0l4.4,-4.4M87.3,139.3l4.4,4.4m-4.4,0l4.4,-4.4M87.5,138.7l4.4,4.4m-4.4,0l4.4,-4.4M87.6,139.3l4.4,4.4m-4.4,0l4.4,-4.4M87.8,139.6l4.4,4.4m-4.4,0l4.4,-4.4M87.9,139.0l4.4,4.4m-4.4,0l4.4,-4.4M88.1,138.9l4.4,4.4m-4.4,0l4.4,-4.4M88.2,139.0l4.4,4.4m-4.4,0l4.4,-4.4M88.3,139.2l4.4,4.4m-4.4,0l4.4,-4.4M88.5,139.3l4.4,4.4m-4.4,0l4.4,-4.4M88.6,139.1l4.4,4.4m-4.4,0l4.4,-4.4M88.8,139.1l4.4,4.4m-4.4,0l4.4,-4.4M88.9,138.4l4.4,4.4m-4.4,0l4.4,-4.4M89.1,138.4l4.4,4.4m-4.4,0l4.4,-4.4M89.2,138.5l4.4,4.4m-4.4,0l4.4,-4.4M89.4,138.9l4.4,4.4m-4.4,0l4.4,-4.4M89.5,138.4l4.4,4.4m-4.4,0l4.4,-4.4M89.6,138.5l4.4,4.4m-4.4,0l4.4,-4.4M89.8,137.7l4.4,4.4m-4.4,0l4.4,-4.4M89.9,137.6l4.4,4.4m-4.4,0l4.4,-4.4M90.0,137.7l4.4,4.4m-4.4,0l4.4,-4.4M90.1,138.0l4.4,4.4m-4.4,0l4.4,-4.4M90.1,137.8l4.4,4.4m-4.4,0l4.4,-4.4M90.2,137.5l4.4,4.4m-4.4,0l4.4,-4.4M90.3,136.8l4.4,4.4m-4.4,0l4.4,-4.4M90.3,136.6l4.4,4.4m-4.4,0l4.4,-4.4M90.4,135.9l4.4,4.4m-4.4,0l4.4,-4.4M89.9,135.1l4.4,4.4m-4.4,0l4.4,-4.4M90.1,134.3l4.4,4.4m-4.4,0l4.4,-4.4M91.2,132.6l4.4,4.4m-4.4,0l4.4,-4.4M90.6,129.1l4.4,4.4m-4.4,0l4.4,-4.4M91.4,126.7l4.4,4.4m-4.4,0l4.4,-4.4M90.4,122.1l4.4,4.4m-4.4,0l4.4,-4.4M91.5,116.7l4.4,4.4m-4.4,0l4.4,-4.4M91.0,110.7l4.4,4.4m-4.4,0l4.4,-4.4M91.0,104.1l4.4,4.4m-4.4,0l4.4,-4.4M90.5,98.3l4.4,4.4m-4.4,0l4.4,-4.4M91.1,92.0l4.4,4.4m-4.4,0l4.4,-4.4M91.4,87.3l4.4,4.4m-4.4,0l4.4,-4.4M91.8,84.3l4.4,4.4m-4.4,0l4.4,-4.4M90.6,85.4l4.4,4.4m-4.4,0l4.4,-4.4M91.3,88.5l4.4,4.4m-4.4,0l4.4,-4.4M91.1,94.5l4.4,4.4m-4.4,0l4.4,-4.4M91.3,100.7l4.4,4.4m-4.4,0l4.4,-4.4M92.0,107.6l4.4,4.4m-4.4,0l4.4,-4.4M92.0,113.6l4.4,4.4m-4.4,0l4.4,-4.4M91.1,120.1l4.4,4.4m-4.4,0l4.4,-4.4M92.0,124.9l4.4,4.4m-4.4,0l4.4,-4.4M91.5,128.6l4.4,4.4m-4.4,0l4.4,-4.4M91.7,130.8l4.4,4.4m-4.4,0l4.4,-4.4M92.0,133.6l4.4,4.4m-4.4,0l4.4,-4.4M91.9,134.4l4.4,4.4m-4.4,0l4.4,-4.4M91.4,135.4l4.4,4.4m-4.4,0l4.4,-4.4M92.1,135.9l4.4,4.4m-4.4,0l4.4,-4.4M92.2,137.2l4.4,4.4m-4.4,0l4.4,-4.4M92.2,137.0l4.4,4.4m-4.4,0l4.4,-4.4M92.3,138.0l4.4,4.4m-4.4,0l4.4,-4.4M92.4,137.5l4.4,4.4m-4.4,0l4.4,-4.4M92.4,137.6l4.4,4.4m-4.4,0l4.4,-4.4M92.5,138.1l4.4,4.4m-4.4,0l4.4,-4.4M92.6,137.8l4.4,4.4m-4.4,0l4.4,-4.4M92.6,138.1l4.4,4.4m-4.4,0l4.4,-4.4M92.8,139.0l4.4,4.4m-4.4,0l4.4,-4.4M92.9,139.0l4.4,4.4m-4.4,0l4.4,-4.4M93.1,139.1l4.4,4.4m-4.4,0l4.4,-4.4M93.2,139.0l4.4,4.4m-4.4,0l4.4,-4.4M93.4,139.3l4.4,4.4m-4.4,0l4.4,-4.4M93.5,139.4l4.4,4.4m-4.4,0l4.4,-4.4M93.6,139.0l4.4,4.4m-4.4,0l4.4,-4.4M93.8,139.3l4.4,4.4m-4.4,0l4.4,-4.4M93.9,138.6l4.4,4.4m-4.4,0l4.4,-4.4M94.1,139.4l4.4,4.4m-4.4,0l4.4,-4.4M94.2,139.1l4.4,4.4m-4.4,0l4.4,-4.4M94.4,139.4l4.4,4.4m-4.4,0l4.4,-4.4M94.5,139.3l4.4,4.4m-4.4,0l4.4,-4.4M94.7,138.9l4.4,4.4m-4.4,0l4.4,-4.4M94.8,138.6l4.4,4.4m-4.4,0l4.4,-4.4M94.9,139.5l4.4,4.4m-4.4,0l4.4,-4.4M95.1,138.4l4.4,4.4m-4.4,0l4.4,-4.4M95.2,138.3l4.4,4.4m-4.4,0l4.4,-4.4M95.3,137.9l4.4,4.4m-4.4,0l4.4,-4.4M95.4,137.5l4.4,4.4m-4.4,0l4.4,-4.4M95.4,137.7l4.4,4.4m-4.4,0l4.4,-4.4M95.5,137.7l4.4,4.4m-4.4,0l4.4,-4.4M95.6,136.8l4.4,4.4m-4.4,0l4.4,-4.4M95.6,137.3l4.4,4.4m-4.4,0l4.4,-4.4M95.7,137.1l4.4,4.4m-4.4,0l4.4,-4.4M95.7,137.6l4.4,4.4m-4.4,0l4.4,-4.4M95.8,137.8l4.4,4.4m-4.4,0l4.4,-4.4M95.9,137.9l4.4,4.4m-4.4,0l4.4,-4.4M95.9,138.1l4.4,4.4m-4.4,0l4.4,-4.4M96.1,138.6l4.4,4.4m-4.4,0l4.4,-4.4M96.2,139.6l4.4,4.4m-4.4,0l4.4,-4.4M96.4,139.3l4.4,4.4m-4.4,0l4.4,-4.4M96.5,139.0l4.4,4.4m-4.4,0l4.4,-4.4M96.7,139.8l4.4,4.4m-4.4,0l4.4,-4.4M96.8,139.9l4.4,4.4m-4.4,0l4.4,-4.4M97.0,139.3l4.4,4.4m-4.4,0l4.4,-4.4M97.1,139.0l4.4,4.4m-4.4,0l4.4,-4.4M97.2,139.1l4.4,4.4m-4.4,0l4.4,-4.4M97.4,139.0l4.4,4.4m-4.4,0l4.4,-4.4M97.5,139.2l4.4,4.4m-4.4,0l4.4,-4.4M97.7,139.0l4.4,4.4m-4.4,0l4.4,-4.4M97.8,139.1l4.4,4.4m-4.4,0l4.4,-4.4M98.0,139.2l4.4,4.4m-4.4,0l4.4,-4.4M98.1,139.5l4.4,4.4m-4.4,0l4.4,-4.4M98.3,139.8l4.4,4.4m-4.4,0l4.4,-4.4M98.4,139.7l4.4,4.4m-4.4,0l4.4,-4.4M98.5,139.4l4.4,4.4m-4.4,0l4.4,-4.4M98.7,139.4l4.4,4.4m-4.4,0l4.4,-4.4M98.8,139.5l4.4,4.4m-4.4,0l4.4,-4.4M99.0,139.3l4.4,4.4m-4.4,0l4.4,-4.4M99.1,139.3l4.4,4.4m-4.4,0l4.4,-4.4M99.3,139.0l4.4,4.4m-4.4,0l4.4,-4.4M99.4,139.2l4.4,4.4m-4.4,0l4.4,-4.4M99.6,140.0l4.4,4.4m-4.4,0l4.4,-4.4M99.7,139.1l4.4,4.4m-4.4,0l4.4,-4.4M99.8,139.5l4.4,4.4m-4.4,0l4.4,-4.4M100.0,139.6l4.4,4.4m-4.4,0l4.4,-4.4M100.1,139.9l4.4,4.4m-4.4,0l4.4,-4.4M100.3,139.2l4.4,4.4m-4.4,0l4.4,-4.4M100.4,139.3l4.4,4.4m-4.4,0l4.4,-4.4M100.6,139.2l4.4,4.4m-4.4,0l4.4,-4.4M100.7,139.4l4.4,4.4m-4.4,0l4.4,-4.4M100.9,139.5l4.4,4.4m-4.4,0l4.4,-4.4M101.0,140.0l4.4,4.4m-4.4,0l4.4,-4.4M101.1,139.9l4.4,4.4m-4.4,0l4.4,-4.4M101.3,139.9l4.4,4.4m-4.4,0l4.4,-4.4M101.4,139.0l4.4,4.4m-4.4,0l4.4,-4.4M101.6,139.0l4.4,4.4m-4.4,0l4.4,-4.4M101.7,139.7l4.4,4.4m-4.4,0l4.4,-4.4M101.9,139.9l4.4,4.4m-4.4,0l4.4,-4.4M102.0,139.5l4.4,4.4m-4.4,0l4.4,-4.4M102.2,139.6l4.4,4.4m-4.4,0l4.4,-4.4M102.3,139.0l4.4,4.4m-4.4,0l4.4,-4.4M102.5,139.4l4.4,4.4m-4.4,0l4.4,-4.4M102.6,140.0l4.4,4.4m-4.4,0l4.4,-4.4M102.7,139.9l4.4,4.4m-4.4,0l4.4,-4.4M102.9,139.9l4.4,4.4m-4.4,0l4.4,-4.4M103.0,140.0l4.4,4.4m-4.4,0l4.4,-4.4M103.2,139.3l4.4,4.4m-4.4,0l4.4,-4.4M103.3,139.2l4.4,4.4m-4.4,0l4.4,-4.4M103.5,139.2l4.4,4.4m-4.4,0l4.4,-4.4M103.6,139.6l4.4,4.4m-4.4,0l4.4,-4.4M103.8,139.8l4.4,4.4m-4.4,0l4.4,-4.4M103.9,140.0l4.4,4.4m-4.4,0l4.4,-4.4M104.0,139.8l4.4,4.4m-4.4,0l4.4,-4.4M104.2,139.7l4.4,4.4m-4.4,0l4.4,-4.4M104.3,139.9l4.4,4.4m-4.4,0l4.4,-4.4M104.5,139.5l4.4,4.4m-4.4,0l4.4,-4.4M104.6,139.6l4.4,4.4m-4.4,0l4.4,-4.4M104.8,139.1l4.4,4.4m-4.4,0l4.4,-4.4M104.9,139.9l4.4,4.4m-4.4,0l4.4,-4.4M105.1,139.3l4.4,4.4m-4.4,0l4.4,-4.4M105.2,140.0l4.4,4.4m-4.4,0l4.4,-4.4M105.3,139.7l4.4,4.4m-4.4,0l4.4,-4.4M105.5,139.4l4.4,4.4m-4.4,0l4.4,-4.4M105.6,139.2l4.4,4.4m-4.4,0l4.4,-4.4M105.8,139.3l4.4,4.4m-4.4,0l4.4,-4.4M105.9,139.7l4.4,4.4m-4.4,0l4.4,-4.4M106.1,139.8l4.4,4.4m-4.4,0l4.4,-4.4M106.2,139.2l4.4,4.4m-4.4,0l4.4,-4.4M106.4,139.2l4.4,4.4m-4.4,0l4.4,-4.4M106.5,139.6l4.4,4.4m-4.4,0l4.4,-4.4M106.6,139.7l4.4,4.4m-4.4,0l4.4,-4.4M106.8,139.5l4.4,4.4m-4.4,0l4.4,-4.4M106.9,139.3l4.4,4.4m-4.4,0l4.4,-4.4M107.1,139.7l4.4,4.4m-4.4,0l4.4,-4.4M107.2,139.1l4.4,4.4m-4.4,0l4.4,-4.4M107.4,139.3l4.4,4.4m-4.4,0l4.4,-4.4M107.5,139.5l4.4,4.4m-4.4,0l4.4,-4.4M107.7,140.0l4.4,4.4m-4.4,0l4.4,-4.4M107.8,139.6l4.4,4.4m-4.4,0l4.4,-4.4M107.9,139.8l4.4,4.4m-4.4,0l4.4,-4.4M108.1,139.4l4.4,4.4m-4.4,0l4.4,-4.4M108.2,139.1l4.4,4.4m-4.4,0l4.4,-4.4M108.4,139.1l4.4,4.4m-4.4,0l4.4,-4.4M108.5,139.7l4.4,4.4m-4.4,0l4.4,-4.4M108.7,139.3l4.4,4.4m-4.4,0l4.4,-4.4M108.8,138.6l4.4,4.4m-4.4,0l4.4,-4.4M109.0,137.7l4.4,4.4m-4.4,0l4.4,-4.4M109.0,137.7l4.4,4.4m-4.4,0l4.4,-4.4M109.1,137.3l4.4,4.4m-4.4,0l4.4,-4.4M109.2,136.3l4.4,4.4m-4.4,0l4.4,-4.4M109.5,135.1l4.4,4.4m-4.4,0l4.4,-4.4M108.9,134.5l4.4,4.4m-4.4,0l4.4,-4.4M109.1,132.2l4.4,4.4m-4.4,0l4.4,-4.4M109.7,131.0l4.4,4.4m-4.4,0l4.4,-4.4M109.9,129.1l4.4,4.4m-4.4,0l4.4,-4.4M109.5,128.1l4.4,4.4m-4.4,0l4.4,-4.4M110.3,126.3l4.4,4.4m-4.4,0l4.4,-4.4M110.1,125.5l4.4,4.4m-4.4,0l4.4,-4.4M109.3,125.3l4.4,4.4m-4.4,0l4.4,-4.4M109.5,126.3l4.4,4.4m-4.4,0l4.4,-4.4M109.9,127.6l4.4,4.4m-4.4,0l4.4,-4.4M109.5,128.3l4.4,4.4m-4.4,0l4.4,-4.4M110.2,130.1l4.4,4.4m-4.4,0l4.4,-4.4M109.6,132.3l4.4,4.4m-4.4,0l4.4,-4.4M109.7,133.2l4.4,4.4m-4.4,0l4.4,-4.4M109.7,135.1l4.4,4.4m-4.4,0l4.4,-4.4M109.6,135.3l4.4,4.4m-4.4,0l4.4,-4.4M110.3,136.5l4.4,4.4m-4.4,0l4.4,-4.4M110.4,137.7l4.4,4.4m-4.4,0l4.4,-4.4M110.4,138.1l4.4,4.4m-4.4,0l4.4,-4.4M110.5,138.2l4.4,4.4m-4.4,0l4.4,-4.4M110.6,138.6l4.4,4.4m-4.4,0l4.4,-4.4M110.6,138.5l4.4,4.4m-4.4,0l4.4,-4.4M110.7,137.8l4.4,4.4m-4.4,0l4.4,-4.4M110.8,137.4l4.4,4.4m-4.4,0l4.4,-4.4M110.8,137.7l4.4,4.4m-4.4,0l4.4,-4.4M110.9,137.0l4.4,4.4m-4.4,0l4.4,-4.4M111.2,135.7l4.4,4.4m-4.4,0l4.4,-4.4M110.8,135.5l4.4,4.4m-4.4,0l4.4,-4.4M110.6,135.0l4.4,4.4m-4.4,0l4.4,-4.4M110.8,134.4l4.4,4.4m-4.4,0l4.4,-4.4M111.8,134.9l4.4,4.4m-4.4,0l4.4,-4.4M111.9,135.1l4.4,4.4m-4.4,0l4.4,-4.4M111.1,135.7l4.4,4.4m-4.4,0l4.4,-4.4M111.4,137.0l4.4,4.4m-4.4,0l4.4,-4.4M111.5,137.6l4.4,4.4m-4.4,0l4.4,-4.4M111.5,137.8l4.4,4.4m-4.4,0l4.4,-4.4M111.6,137.9l4.4,4.4m-4.4,0l4.4,-4.4M111.7,138.6l4.4,4.4m-4.4,0l4.4,-4.4M111.8,139.0l4.4,4.4m-4.4,0l4.4,-4.4M111.9,139.8l4.4,4.4m-4.4,0l4.4,-4.4M112.1,139.2l4.4,4.4m-4.4,0l4.4,-4.4M112.2,139.4l4.4,4.4m-4.4,0l4.4,-4.4M112.4,140.0l4.4,4.4m-4.4,0l4.4,-4.4M112.5,139.1l4.4,4.4m-4.4,0l4.4,-4.4M112.7,139.5l4.4,4.4m-4.4,0l4.4,-4.4M112.8,139.9l4.4,4.4m-4.4,0l4.4,-4.4M113.0,139.9l4.4,4.4m-4.4,0l4.4,-4.4M113.1,139.2l4.4,4.4m-4.4,0l4.4,-4.4M113.3,139.2l4.4,4.4m-4.4,0l4.4,-4.4M113.4,139.3l4.4,4.4m-4.4,0l4.4,-4.4M113.5,140.1l4.4,4.4m-4.4,0l4.4,-4.4M113.7,139.5l4.4,4.4m-4.4,0l4.4,-4.4M113.8,140.0l4.4,4.4m-4.4,0l4.4,-4.4M114.0,140.1l4.4,4.4m-4.4,0l4.4,-4.4M114.1,139.6l4.4,4.4m-4.4,0l4.4,-4.4M114.3,139.5l4.4,4.4m-4.4,0l4.4,-4.4M114.4,140.2l4.4,4.4m-4.4,0l4.4,-4.4M114.6,139.9l4.4,4.4m-4.4,0l4.4,-4.4M114.7,139.5l4.4,4.4m-4.4,0l4.4,-4.4M114.8,140.0l4.4,4.4m-4.4,0l4.4,-4.4M115.0,139.6l4.4,4.4m-4.4,0l4.4,-4.4M115.1,139.6l4.4,4.4m-4.4,0l4.4,-4.4M115.3,139.3l4.4,4.4m-4.4,0l4.4,-4.4M115.4,140.0l4.4,4.4m-4.4,0l4.4,-4.4M115.6,140.2l4.4,4.4m-4.4,0l4.4,-4.4M115.7,139.9l4.4,4.4m-4.4,0l4.4,-4.4M115.9,140.2l4.4,4.4m-4.4,0l4.4,-4.4M116.0,139.3l4.4,4.4m-4.4,0l4.4,-4.4M116.1,139.5l4.4,4.4m-4.4,0l4.4,-4.4M116.3,139.8l4.4,4.4m-4.4,0l4.4,-4.4M116.4,140.2l4.4,4.4m-4.4,0l4.4,-4.4M116.6,140.2l4.4,4.4m-4.4,0l4.4,-4.4M116.7,139.7l4.4,4.4m-4.4,0l4.4,-4.4M116.9,139.6l4.4,4.4m-4.4,0l4.4,-4.4M117.0,139.7l4.4,4.4m-4.4,0l4.4,-4.4M117.2,139.8l4.4,4.4m-4.4,0l4.4,-4.4M117.3,140.2l4.4,4.4m-4.4,0l4.4,-4.4M117.4,139.5l4.4,4.4m-4.4,0l4.4,-4.4M117.6,140.1l4.4,4.4m-4.4,0l4.4,-4.4M117.7,140.0l4.4,4.4m-4.4,0l4.4,-4.4M117.9,140.1l4.4,4.4m-4.4,0l4.4,-4.4M118.0,140.1l4.4,4.4m-4.4,0l4.4,-4.4M118.2,139.9l4.4,4.4m-4.4,0l4.4,-4.4M118.3,139.7l4.4,4.4m-4.4,0l4.4,-4.4M118.5,139.6l4.4,4.4m-4.4,0l4.4,-4.4M118.6,139.7l4.4,4.4m-4.4,0l4.4,-4.4M118.7,140.1l4.4,4.4m-4.4,0l4.4,-4.4M118.9,139.4l4.4,4.4m-4.4,0l4.4,-4.4M119.0,139.5l4.4,4.4m-4.4,0l4.4,-4.4M119.2,140.1l4.4,4.4m-4.4,0l4.4,-4.4M119.3,139.6l4.4,4.4m-4.4,0l4.4,-4.4M119.5,139.4l4.4,4.4m-4.4,0l4.4,-4.4M119.6,139.4l4.4,4.4m-4.4,0l4.4,-4.4M119.8,139.9l4.4,4.4m-4.4,0l4.4,-4.4M119.9,139.7l4.4,4.4m-4.4,0l4.4,-4.4M120.0,140.3l4.4,4.4m-4.4,0l4.4,-4.4M120.2,140.2l4.4,4.4m-4.4,0l4.4,-4.4M120.3,140.3l4.4,4.4m-4.4,0l4.4,-4.4M120.5,139.6l4.4,4.4m-4.4,0l4.4,-4.4M120.6,139.5l4.4,4.4m-4.4,0l4.4,-4.4M120.8,139.5l4.4,4.4m-4.4,0l4.4,-4.4M120.9,139.8l4.4,4.4m-4.4,0l4.4,-4.4M121.1,140.0l4.4,4.4m-4.4,0l4.4,-4.4M121.2,139.8l4.4,4.4m-4.4,0l4.4,-4.4M121.4,139.6l4.4,4.4m-4.4,0l4.4,-4.4M121.5,139.8l4.4,4.4m-4.4,0l4.4,-4.4M121.6,140.0l4.4,4.4m-4.4,0l4.4,-4.4M121.8,140.0l4.4,4.4m-4.4,0l4.4,-4.4M121.9,140.1l4.4,4.4m-4.4,0l4.4,-4.4M122.1,140.2l4.4,4.4m-4.4,0l4.4,-4.4M122.2,140.0l4.4,4.4m-4.4,0l4.4,-4.4M122.4,139.5l4.4,4.4m-4.4,0l4.4,-4.4M122.5,140.2l4.4,4.4m-4.4,0l4.4,-4.4M122.7,139.7l4.4,4.4m-4.4,0l4.4,-4.4M122.8,139.9l4.4,4.4m-4.4,0l4.4,-4.4M122.9,139.7l4.4,4.4m-4.4,0l4.4,-4.4M123.1,140.1l4.4,4.4m-4.4,0l4.4,-4.4M123.2,139.6l4.4,4.4m-4.4,0l4.4,-4.4M123.4,139.6l4.4,4.4m-4.4,0l4.4,-4.4M123.5,139.6l4.4,4.4m-4.4,0l4.4,-4.4M123.7,139.5l4.4,4.4m-4.4,0l4.4,-4.4M123.8,140.2l4.4,4.4m-4.4,0l4.4,-4.4M124.0,139.9l4.4,4.4m-4.4,0l4.4,-4.4M124.1,139.7l4.4,4.4m-4.4,0l4.4,-4.4M124.2,139.7l4.4,4.4m-4.4,0l4.4,-4.4M124.4,140.3l4.4,4.4m-4.4,0l4.4,-4.4M124.5,139.8l4.4,4.4m-4.4,0l4.4,-4.4M124.7,139.6l4.4,4.4m-4.4,0l4.4,-4.4M124.8,140.1l4.4,4.4m-4.4,0l4.4,-4.4M125.0,140.0l4.4,4.4m-4.4,0l4.4,-4.4M125.1,140.3l4.4,4.4m-4.4,0l4.4,-4.4M125.3,139.4l4.4,4.4m-4.4,0l4.4,-4.4M125.4,139.8l4.4,4.4m-4.4,0l4.4,-4.4M125.5,140.1l4.4,4.4m-4.4,0l4.4,-4.4M125.7,140.1l4.4,4.4m-4.4,0l4.4,-4.4M125.8,140.1l4.4,4.4m-4.4,0l4.4,-4.4M126.0,139.3l4.4,4.4m-4.4,0l4.4,-4.4M126.1,139.6l4.4,4.4m-4.4,0l4.4,-4.4M126.3,139.4l4.4,4.4m-4.4,0l4.4,-4.4M126.4,139.4l4.4,4.4m-4.4,0l4.4,-4.4M126.6,140.1l4.4,4.4m-4.4,0l4.4,-4.4M126.7,139.7l4.4,4.4m-4.4,0l4.4,-4.4M126.8,140.0l4.4,4.4m-4.4,0l4.4,-4.4M127.0,139.5l4.4,4.4m-4.4,0l4.4,-4.4M127.1,139.9l4.4,4.4m-4.4,0l4.4,-4.4M127.3,139.5l4.4,4.4m-4.4,0l4.4,-4.4M127.4,139.2l4.4,4.4m-4.4,0l4.4,-4.4M127.6,139.6l4.4,4.4m-4.4,0l4.4,-4.4M127.7,139.7l4.4,4.4m-4.4,0l4.4,-4.4M127.9,138.8l4.4,4.4m-4.4,0l4.4,-4.4M128.0,139.1l4.4,4.4m-4.4,0l4.4,-4.4M128.1,138.9l4.4,4.4m-4.4,0l4.4,-4.4M128.2,138.4l4.4,4.4m-4.4,0l4.4,-4.4M128.3,138.4l4.4,4.4m-4.4,0l4.4,-4.4M128.3,138.0l4.4,4.4m-4.4,0l4.4,-4.4M128.4,137.9l4.4,4.4m-4.4,0l4.4,-4.4M128.5,137.6l4.4,4.4m-4.4,0l4.4,-4.4M128.5,137.5l4.4,4.4m-4.4,0l4.4,-4.4M128.6,136.9l4.4,4.4m-4.4,0l4.4,-4.4M128.0,135.7l4.4,4.4m-4.4,0l4.4,-4.4M129.0,134.7l4.4,4.4m-4.4,0l4.4,-4.4M128.5,133.1l4.4,4.4m-4.4,0l4.4,-4.4M129.3,131.2l4.4,4.4m-4.4,0l4.4,-4.4M128.3,129.0l4.4,4.4m-4.4,0l4.4,-4.4M128.8,125.6l4.4,4.4m-4.4,0l4.4,-4.4M129.2,122.4l4.4,4.4m-4.4,0l4.4,-4.4M128.6,118.0l4.4,4.4m-4.4,0l4.4,-4.4M129.1,114.1l4.4,4.4m-4.4,0l4.4,-4.4M129.0,109.3l4.4,4.4m-4.4,0l4.4,-4.4M129.0,105.6l4.4,4.4m-4.4,0l4.4,-4.4M129.2,101.8l4.4,4.4m-4.4,0l4.4,-4.4M129.9,99.5l4.4,4.4m-4.4,0l4.4,-4.4M129.3,99.5l4.4,4.4m-4.4,0l4.4,-4.4M129.9,100.1l4.4,4.4m-4.4,0l4.4,-4.4M128.9,103.0l4.4,4.4m-4.4,0l4.4,-4.4M129.6,107.4l4.4,4.4m-4.4,0l4.4,-4.4M129.6,111.6l4.4,4.4m-4.4,0l4.4,-4.4M129.8,116.0l4.4,4.4m-4.4,0l4.4,-4.4M129.2,119.4l4.4,4.4m-4.4,0l4.4,-4.4M130.1,123.2l4.4,4.4m-4.4,0l4.4,-4.4M129.4,126.4l4.4,4.4m-4.4,0l4.4,-4.4M129.9,128.4l4.4,4.4m-4.4,0l4.4,-4.4M129.6,129.8l4.4,4.4m-4.4,0l4.4,-4.4M130.2,130.4l4.4,4.4m-4.4,0l4.4,-4.4M129.7,131.3l4.4,4.4m-4.4,0l4.4,-4.4M130.8,130.8l4.4,4.4m-4.4,0l4.4,-4.4M130.0,130.8l4.4,4.4m-4.4,0l4.4,-4.4M131.1,129.5l4.4,4.4m-4.4,0l4.4,-4.4M130.5,129.8l4.4,4.4m-4.4,0l4.4,-4.4M131.2,128.9l4.4,4.4m-4.4,0l4.4,-4.4M131.2,129.6l4.4,4.4m-4.4,0l4.4,-4.4M131.2,130.5l4.4,4.4m-4.4,0l4.4,-4.4M131.2,131.1l4.4,4.4m-4.4,0l4.4,-4.4M130.7,132.4l4.4,4.4m-4.4,0l4.4,-4.4M131.4,134.1l4.4,4.4m-4.4,0l4.4,-4.4M130.6,134.7l4.4,4.4m-4.4,0l4.4,-4.4M131.1,135.9l4.4,4.4m-4.4,0l4.4,-4.4M131.1,136.7l4.4,4.4m-4.4,0l4.4,-4.4M131.2,137.1l4.4,4.4m-4.4,0l4.4,-4.4M131.2,137.7l4.4,4.4m-4.4,0l4.4,-4.4M131.3,138.5l4.4,4.4m-4.4,0l4.4,-4.4M131.4,139.0l4.4,4.4m-4.4,0l4.4,-4.4M131.4,138.4l4.4,4.4m-4.4,0l4.4,-4.4M131.5,139.1l4.4,4.4m-4.4,0l4.4,-4.4M131.6,139.5l4.4,4.4m-4.4,0l4.4,-4.4M131.8,139.0l4.4,4.4m-4.4,0l4.4,-4.4M131.9,139.8l4.4,4.4m-4.4,0l4.4,-4.4M132.1,139.2l4.4,4.4m-4.4,0l4.4,-4.4M132.2,139.7l4.4,4.4m-4.4,0l4.4,-4.4M132.4,139.7l4.4,4.4m-4.4,0l4.4,-4.4M132.5,139.8l4.4,4.4m-4.4,0l4.4,-4.4M132.6,139.6l4.4,4.4m-4.4,0l4.4,-4.4M132.8,139.7l4.4,4.4m-4.4,0l4.4,-4.4M132.9,139.9l4.4,4.4m-4.4,0l4.4,-4.4M133.1,139.7l4.4,4.4m-4.4,0l4.4,-4.4M133.2,140.0l4.4,4.4m-4.4,0l4.4,-4.4M133.4,139.8l4.4,4.4m-4.4,0l4.4,-4.4M133.5,139.8l4.4,4.4m-4.4,0l4.4,-4.4M133.7,139.5l4.4,4.4m-4.4,0l4.4,-4.4M133.8,140.0l4.4,4.4m-4.4,0l4.4,-4.4M134.0,139.9l4.4,4.4m-4.4,0l4.4,-4.4M134.1,139.7l4.4,4.4m-4.4,0l4.4,-4.4M134.2,140.1l4.4,4.4m-4.4,0l4.4,-4.4M134.4,140.2l4.4,4.4m-4.4,0l4.4,-4.4M134.5,139.9l4.4,4.4m-4.4,0l4.4,-4.4M134.7,139.7l4.4,4.4m-4.4,0l4.4,-4.4M134.8,139.9l4.4,4.4m-4.4,0l4.4,-4.4M135.0,139.6l4.4,4.4m-4.4,0l4.4,-4.4M135.1,139.6l4.4,4.4m-4.4,0l4.4,-4.4M135.3,139.9l4.4,4.4m-4.4,0l4.4,-4.4M135.4,139.6l4.4,4.4m-4.4,0l4.4,-4.4M135.5,139.9l4.4,4.4m-4.4,0l4.4,-4.4M135.7,140.0l4.4,4.4m-4.4,0l4.4,-4.4M135.8,139.6l4.4,4.4m-4.4,0l4.4,-4.4M136.0,140.1l4.4,4.4m-4.4,0l4.4,-4.4M136.1,139.6l4.4,4.4m-4.4,0l4.4,-4.4M136.3,140.2l4.4,4.4m-4.4,0l4.4,-4.4M136.4,140.2l4.4,4.4m-4.4,0l4.4,-4.4M136.6,140.0l4.4,4.4m-4.4,0l4.4,-4.4M136.7,139.6l4.4,4.4m-4.4,0l4.4,-4.4M136.8,140.0l4.4,4.4m-4.4,0l4.4,-4.4M137.0,139.9l4.4,4.4m-4.4,0l4.4,-4.4M137.1,140.3l4.4,4.4m-4.4,0l4.4,-4.4M137.3,139.6l4.4,4.4m-4.4,0l4.4,-4.4M137.4,140.2l4.4,4.4m-4.4,0l4.4,-4.4M137.6,140.3l4.4,4.4m-4.4,0l4.4,-4.4M137.7,140.1l4.4,4.4m-4.4,0l4.4,-4.4M137.9,140.1l4.4,4.4m-4.4,0l4.4,-4.4M138.0,139.4l4.4,4.4m-4.4,0l4.4,-4.4M138.1,139.8l4.4,4.4m-4.4,0l4.4,-4.4M138.3,138.9l4.4,4.4m-4.4,0l4.4,-4.4M138.4,139.0l4.4,4.4m-4.4,0l4.4,-4.4M138.4,138.6l4.4,4.4m-4.4,0l4.4,-4.4M138.5,137.5l4.4,4.4m-4.4,0l4.4,-4.4M138.5,137.6l4.4,4.4m-4.4,0l4.4,-4.4M138.6,137.2l4.4,4.4m-4.4,0l4.4,-4.4M138.5,136.1l4.4,4.4m-4.4,0l4.4,-4.4M138.3,136.4l4.4,4.4m-4.4,0l4.4,-4.4M138.5,136.4l4.4,4.4m-4.4,0l4.4,-4.4M138.4,136.5l4.4,4.4m-4.4,0l4.4,-4.4M139.5,136.5l4.4,4.4m-4.4,0l4.4,-4.4M139.0,136.6l4.4,4.4m-4.4,0l4.4,-4.4M139.1,137.1l4.4,4.4m-4.4,0l4.4,-4.4M139.1,137.8l4.4,4.4m-4.4,0l4.4,-4.4M139.2,138.1l4.4,4.4m-4.4,0l4.4,-4.4M139.3,138.2l4.4,4.4m-4.4,0l4.4,-4.4M139.3,138.7l4.4,4.4m-4.4,0l4.4,-4.4M139.4,138.9l4.4,4.4m-4.4,0l4.4,-4.4M139.5,140.0l4.4,4.4m-4.4,0l4.4,-4.4M139.7,140.0l4.4,4.4m-4.4,0l4.4,-4.4M139.8,140.2l4.4,4.4m-4.4,0l4.4,-4.4M140.0,139.7l4.4,4.4m-4.4,0l4.4,-4.4M140.1,140.2l4.4,4.4m-4.4,0l4.4,-4.4M140.3,139.7l4.4,4.4m-4.4,0l4.4,-4.4M140.4,140.0l4.4,4.4m-4.4,0l4.4,-4.4M140.5,140.1l4.4,4.4m-4.4,0l4.4,-4.4M140.7,139.9l4.4,4.4m-4.4,0l4.4,-4.4M140.8,140.3l4.4,4.4m-4.4,0l4.4,-4.4M141.0,140.1l4.4,4.4m-4.4,0l4.4,-4.4M141.1,140.1l4.4,4.4m-4.4,0l4.4,-4.4M141.3,140.4l4.4,4.4m-4.4,0l4.4,-4.4M141.4,139.7l4.4,4.4m-4.4,0l4.4,-4.4M141.6,140.5l4.4,4.4m-4.4,0l4.4,-4.4M141.7,140.2l4.4,4.4m-4.4,0l4.4,-4.4M141.8,140.0l4.4,4.4m-4.4,0l4.4,-4.4M142.0,140.3l4.4,4.4m-4.4,0l4.4,-4.4M142.1,139.9l4.4,4.4m-4.4,0l4.4,-4.4M142.3,140.5l4.4,4.4m-4.4,0l4.4,-4.4M142.4,140.1l4.4,4.4m-4.4,0l4.4,-4.4M142.6,140.0l4.4,4.4m-4.4,0l4.4,-4.4M142.7,140.3l4.4,4.4m-4.4,0l4.4,-4.4M142.9,140.0l4.4,4.4m-4.4,0l4.4,-4.4M143.0,139.8l4.4,4.4m-4.4,0l4.4,-4.4M143.1,140.3l4.4,4.4m-4.4,0l4.4,-4.4M143.3,139.7l4.4,4.4m-4.4,0l4.4,-4.4M143.4,140.4l4.4,4.4m-4.4,0l4.4,-4.4M143.6,139.9l4.4,4.4m-4.4,0l4.4,-4.4M143.7,140.2l4.4,4.4m-4.4,0l4.4,-4.4M143.9,140.5l4.4,4.4m-4.4,0l4.4,-4.4M144.0,140.2l4.4,4.4m-4.4,0l4.4,-4.4M144.2,140.2l4.4,4.4m-4.4,0l4.4,-4.4M144.3,140.0l4.4,4.4m-4.4,0l4.4,-4.4M144.4,139.7l4.4,4.4m-4.4,0l4.4,-4.4M144.6,139.7l4.4,4.4m-4.4,0l4.4,-4.4M144.7,139.8l4.4,4.4m-4.4,0l4.4,-4.4M144.9,140.2l4.4,4.4m-4.4,0l4.4,-4.4M145.0,140.1l4.4,4.4m-4.4,0l4.4,-4.4M145.2,140.1l4.4,4.4m-4.4,0l4.4,-4.4M145.3,140.4l4.4,4.4m-4.4,0l4.4,-4.4M145.5,139.8l4.4,4.4m-4.4,0l4.4,-4.4M145.6,139.9l4.4,4.4m-4.4,0l4.4,-4.4M145.7,140.2l4.4,4.4m-4.4,0l4.4,-4.4M145.9,139.7l4.4,4.4m-4.4,0l4.4,-4.4M146.0,139.7l4.4,4.4m-4.4,0l4.4,-4.4M146.2,140.0l4.4,4.4m-4.4,0l4.4,-4.4M146.3,139.8l4.4,4.4m-4.4,0l4.4,-4.4M146.5,140.0l4.4,4.4m-4.4,0l4.4,-4.4M146.6,139.9l4.4,4.4m-4.4,0l4.4,-4.4M146.8,140.2l4.4,4.4m-4.4,0l4.4,-4.4M146.9,140.2l4.4,4.4m-4.4,0l4.4,-4.4M147.0,139.9l4.4,4.4m-4.4,0l4.4,-4.4M147.2,140.2l4.4,4.4m-4.4,0l4.4,-4.4M147.3,140.1l4.4,4.4m-4.4,0l4.4,-4.4M147.5,139.8l4.4,4.4m-4.4,0l4.4,-4.4M147.6,140.5l4.4,4.4m-4.4,0l4.4,-4.4M147.8,139.9l4.4,4.4m-4.4,0l4.4,-4.4M147.9,139.8l4.4,4.4m-4.4,0l4.4,-4.4M148.1,139.8l4.4,4.4m-4.4,0l4.4,-4.4M148.2,140.2l4.4,4.4m-4.4,0l4.4,-4.4M148.4,140.4l4.4,4.4m-4.4,0l4.4,-4.4M148.5,140.3l4.4,4.4m-4.4,0l4.4,-4.4M148.6,140.0l4.4,4.4m-4.4,0l4.4,-4.4M148.8,139.9l4.4,4.4m-4.4,0l4.4,-4.4M148.9,139.7l4.4,4.4m-4.4,0l4.4,-4.4M149.1,140.2l4.4,4.4m-4.4,0l4.4,-4.4M149.2,140.2l4.4,4.4m-4.4,0l4.4,-4.4M149.4,140.0l4.4,4.4m-4.4,0l4.4,-4.4M149.5,140.2l4.4,4.4m-4.4,0l4.4,-4.4M149.7,140.0l4.4,4.4m-4.4,0l4.4,-4.4M149.8,140.4l4.4,4.4m-4.4,0l4.4,-4.4M149.9,140.3l4.4,4.4m-4.4,0l4.4,-4.4M150.1,139.9l4.4,4.4m-4.4,0l4.4,-4.4M150.2,140.4l4.4,4.4m-4.4,0l4.4,-4.4M150.4,139.7l4.4,4.4m-4.4,0l4.4,-4.4M150.5,140.1l4.4,4.4m-4.4,0l4.4,-4.4M150.7,140.0l4.4,4.4m-4.4,0l4.4,-4.4M150.8,139.8l4.4,4.4m-4.4,0l4.4,-4.4M151.0,139.7l4.4,4.4m-4.4,0l4.4,-4.4M151.1,140.2l4.4,4.4m-4.4,0l4.4,-4.4M151.2,139.6l4.4,4.4m-4.4,0l4.4,-4.4M151.4,140.0l4.4,4.4m-4.4,0l4.4,-4.4M151.5,140.3l4.4,4.4m-4.4,0l4.4,-4.4M151.7,139.7l4.4,4.4m-4.4,0l4.4,-4.4M151.8,139.7l4.4,4.4m-4.4,0l4.4,-4.4M152.0,140.0l4.4,4.4m-4.4,0l4.4,-4.4M152.1,139.9l4.4,4.4m-4.4,0l4.4,-4.4M152.3,140.0l4.4,4.4m-4.4,0l4.4,-4.4M152.4,140.1l4.4,4.4m-4.4,0l4.4,-4.4M152.5,139.5l4.4,4.4m-4.4,0l4.4,-4.4M152.7,139.5l4.4,4.4m-4.4,0l4.4,-4.4M152.8,139.5l4.4,4.4m-4.4,0l4.4,-4.4M153.0,139.2l4.4,4.4m-4.4,0l4.4,-4.4M153.1,139.7l4.4,4.4m-4.4,0l4.4,-4.4M153.3,139.5l4.4,4.4m-4.4,0l4.4,-4.4M153.4,139.2l4.4,4.4m-4.4,0l4.4,-4.4M153.5,138.5l4.4,4.4m-4.4,0l4.4,-4.4M153.5,139.1l4.4,4.4m-4.4,0l4.4,-4.4M153.6,138.8l4.4,4.4m-4.4,0l4.4,-4.4M153.7,138.3l4.4,4.4m-4.4,0l4.4,-4.4M153.7,138.2l4.4,4.4m-4.4,0l4.4,-4.4M153.8,137.5l4.4,4.4m-4.4,0l4.4,-4.4M153.9,136.6l4.4,4.4m-4.4,0l4.4,-4.4M153.6,135.7l4.4,4.4m-4.4,0l4.4,-4.4M153.8,134.5l4.4,4.4m-4.4,0l4.4,-4.4M154.3,133.5l4.4,4.4m-4.4,0l4.4,-4.4M154.4,131.8l4.4,4.4m-4.4,0l4.4,-4.4M154.3,129.0l4.4,4.4m-4.4,0l4.4,-4.4M154.7,126.5l4.4,4.4m-4.4,0l4.4,-4.4M154.0,123.6l4.4,4.4m-4.4,0l4.4,-4.4M155.0,120.4l4.4,4.4m-4.4,0l4.4,-4.4M155.0,116.7l4.4,4.4m-4.4,0l4.4,-4.4M154.2,113.2l4.4,4.4m-4.4,0l4.4,-4.4M154.9,110.5l4.4,4.4m-4.4,0l4.4,-4.4M155.0,109.0l4.4,4.4m-4.4,0l4.4,-4.4M155.2,107.5l4.4,4.4m-4.4,0l4.4,-4.4M154.4,107.8l4.4,4.4m-4.4,0l4.4,-4.4M155.0,109.7l4.4,4.4m-4.4,0l4.4,-4.4M155.1,112.0l4.4,4.4m-4.4,0l4.4,-4.4M154.9,115.2l4.4,4.4m-4.4,0l4.4,-4.4M155.3,118.2l4.4,4.4m-4.4,0l4.4,-4.4M155.0,121.3l4.4,4.4m-4.4,0l4.4,-4.4M155.2,124.0l4.4,4.4m-4.4,0l4.4,-4.4M154.8,126.0l4.4,4.4m-4.4,0l4.4,-4.4M154.7,128.0l4.4,4.4m-4.4,0l4.4,-4.4M154.8,129.5l4.4,4.4m-4.4,0l4.4,-4.4M154.9,129.4l4.4,4.4m-4.4,0l4.4,-4.4M155.3,130.3l4.4,4.4m-4.4,0l4.4,-4.4M154.9,129.4l4.4,4.4m-4.4,0l4.4,-4.4M155.9,128.8l4.4,4.4m-4.4,0l4.4,-4.4M155.9,128.5l4.4,4.4m-4.4,0l4.4,-4.4M155.1,128.0l4.4,4.4m-4.4,0l4.4,-4.4M155.6,127.5l4.4,4.4m-4.4,0l4.4,-4.4M156.3,127.7l4.4,4.4m-4.4,0l4.4,-4.4M155.3,128.4l4.4,4.4m-4.4,0l4.4,-4.4M156.6,129.4l4.4,4.4m-4.4,0l4.4,-4.4M155.5,130.7l4.4,4.4m-4.4,0l4.4,-4.4M155.6,131.5l4.4,4.4m-4.4,0l4.4,-4.4M156.7,132.7l4.4,4.4m-4.4,0l4.4,-4.4M156.4,134.6l4.4,4.4m-4.4,0l4.4,-4.4M156.5,135.7l4.4,4.4m-4.4,0l4.4,-4.4M155.8,136.2l4.4,4.4m-4.4,0l4.4,-4.4M156.4,136.8l4.4,4.4m-4.4,0l4.4,-4.4M156.5,138.0l4.4,4.4m-4.4,0l4.4,-4.4M156.6,138.0l4.4,4.4m-4.4,0l4.4,-4.4M156.6,138.4l4.4,4.4m-4.4,0l4.4,-4.4M156.7,138.7l4.4,4.4m-4.4,0l4.4,-4.4M156.8,138.5l4.4,4.4m-4.4,0l4.4,-4.4M156.8,138.7l4.4,4.4m-4.4,0l4.4,-4.4M156.9,138.8l4.4,4.4m-4.4,0l4.4,-4.4M156.9,139.1l4.4,4.4m-4.4,0l4.4,-4.4M157.0,138.7l4.4,4.4m-4.4,0l4.4,-4.4M157.1,138.5l4.4,4.4m-4.4,0l4.4,-4.4M157.1,138.8l4.4,4.4m-4.4,0l4.4,-4.4M157.2,138.1l4.4,4.4m-4.4,0l4.4,-4.4M157.3,138.1l4.4,4.4m-4.4,0l4.4,-4.4M157.3,137.5l4.4,4.4m-4.4,0l4.4,-4.4M157.4,136.7l4.4,4.4m-4.4,0l4.4,-4.4M157.4,136.7l4.4,4.4m-4.4,0l4.4,-4.4M157.3,136.7l4.4,4.4m-4.4,0l4.4,-4.4M157.6,136.6l4.4,4.4m-4.4,0l4.4,-4.4M158.2,136.2l4.4,4.4m-4.4,0l4.4,-4.4M158.2,136.4l4.4,4.4m-4.4,0l4.4,-4.4M157.8,136.8l4.4,4.4m-4.4,0l4.4,-4.4M157.8,137.0l4.4,4.4m-4.4,0l4.4,-4.4M157.9,137.6l4.4,4.4m-4.4,0l4.4,-4.4M158.0,138.4l4.4,4.4m-4.4,0l4.4,-4.4M158.0,138.9l4.4,4.4m-4.4,0l4.4,-4.4M158.1,138.5l4.4,4.4m-4.4,0l4.4,-4.4M158.2,139.1l4.4,4.4m-4.4,0l4.4,-4.4M158.2,139.3l4.4,4.4m-4.4,0l4.4,-4.4M158.4,139.8l4.4,4.4m-4.4,0l4.4,-4.4M158.5,139.5l4.4,4.4m-4.4,0l4.4,-4.4M158.7,139.8l4.4,4.4m-4.4,0l4.4,-4.4M158.8,139.8l4.4,4.4m-4.4,0l4.4,-4.4M159.0,140.2l4.4,4.4m-4.4,0l4.4,-4.4M159.1,139.7l4.4,4.4m-4.4,0l4.4,-4.4M159.2,140.3l4.4,4.4m-4.4,0l4.4,-4.4M159.4,139.8l4.4,4.4m-4.4,0l4.4,-4.4M159.5,139.7l4.4,4.4m-4.4,0l4.4,-4.4M159.7,140.1l4.4,4.4m-4.4,0l4.4,-4.4M159.8,139.9l4.4,4.4m-4.4,0l4.4,-4.4M160.0,139.6l4.4,4.4m-4.4,0l4.4,-4.4M160.1,140.0l4.4,4.4m-4.4,0l4.4,-4.4M160.3,139.6l4.4,4.4m-4.4,0l4.4,-4.4M160.4,140.1l4.4,4.4m-4.4,0l4.4,-4.4M160.5,140.0l4.4,4.4m-4.4,0l4.4,-4.4M160.7,140.1l4.4,4.4m-4.4,0l4.4,-4.4M160.8,139.9l4.4,4.4m-4.4,0l4.4,-4.4M161.0,139.6l4.4,4.4m-4.4,0l4.4,-4.4M161.1,139.6l4.4,4.4m-4.4,0l4.4,-4.4M161.3,139.5l4.4,4.4m-4.4,0l4.4,-4.4M161.4,139.8l4.4,4.4m-4.4,0l4.4,-4.4M161.6,138.9l4.4,4.4m-4.4,0l4.4,-4.4M161.7,139.3l4.4,4.4m-4.4,0l4.4,-4.4M161.8,138.3l4.4,4.4m-4.4,0l4.4,-4.4M161.8,138.2l4.4,4.4m-4.4,0l4.4,-4.4M161.9,137.8l4.4,4.4m-4.4,0l4.4,-4.4M162.0,137.8l4.4,4.4m-4.4,0l4.4,-4.4M161.9,136.8l4.4,4.4m-4.4,0l4.4,-4.4M161.7,136.2l4.4,4.4m-4.4,0l4.4,-4.4M162.2,134.7l4.4,4.4m-4.4,0l4.4,-4.4M162.6,133.5l4.4,4.4m-4.4,0l4.4,-4.4M162.1,131.8l4.4,4.4m-4.4,0l4.4,-4.4M161.9,129.7l4.4,4.4m-4.4,0l4.4,-4.4M162.6,128.1l4.4,4.4m-4.4,0l4.4,-4.4M162.0,125.9l4.4,4.4m-4.4,0l4.4,-4.4M162.9,123.6l4.4,4.4m-4.4,0l4.4,-4.4M162.1,121.9l4.4,4.4m-4.4,0l4.4,-4.4M163.2,120.5l4.4,4.4m-4.4,0l4.4,-4.4M162.3,119.7l4.4,4.4m-4.4,0l4.4,-4.4M163.1,119.9l4.4,4.4m-4.4,0l4.4,-4.4M162.4,121.2l4.4,4.4m-4.4,0l4.4,-4.4M162.6,122.1l4.4,4.4m-4.4,0l4.4,-4.4M163.0,123.9l4.4,4.4m-4.4,0l4.4,-4.4M162.8,125.7l4.4,4.4m-4.4,0l4.4,-4.4M163.8,127.5l4.4,4.4m-4.4,0l4.4,-4.4M162.6,129.4l4.4,4.4m-4.4,0l4.4,-4.4M162.7,130.9l4.4,4.4m-4.4,0l4.4,-4.4M164.0,131.2l4.4,4.4m-4.4,0l4.4,-4.4M163.7,132.0l4.4,4.4m-4.4,0l4.4,-4.4M163.0,131.6l4.4,4.4m-4.4,0l4.4,-4.4M163.0,131.3l4.4,4.4m-4.4,0l4.4,-4.4M163.4,130.0l4.4,4.4m-4.4,0l4.4,-4.4M163.5,128.6l4.4,4.4m-4.4,0l4.4,-4.4M164.0,127.7l4.4,4.4m-4.4,0l4.4,-4.4M163.9,125.8l4.4,4.4m-4.4,0l4.4,-4.4M163.3,124.0l4.4,4.4m-4.4,0l4.4,-4.4M163.8,122.6l4.4,4.4m-4.4,0l4.4,-4.4M164.5,121.6l4.4,4.4m-4.4,0l4.4,-4.4M164.1,120.9l4.4,4.4m-4.4,0l4.4,-4.4M164.0,121.4l4.4,4.4m-4.4,0l4.4,-4.4M164.5,122.0l4.4,4.4m-4.4,0l4.4,-4.4M164.6,124.0l4.4,4.4m-4.4,0l4.4,-4.4M164.8,125.7l4.4,4.4m-4.4,0l4.4,-4.4M164.5,127.6l4.4,4.4m-4.4,0l4.4,-4.4M164.1,129.4l4.4,4.4m-4.4,0l4.4,-4.4M163.9,131.4l4.4,4.4m-4.4,0l4.4,-4.4M164.9,132.9l4.4,4.4m-4.4,0l4.4,-4.4M164.8,134.6l4.4,4.4m-4.4,0l4.4,-4.4M164.6,135.4l4.4,4.4m-4.4,0l4.4,-4.4M164.9,136.5l4.4,4.4m-4.4,0l4.4,-4.4M164.8,137.3l4.4,4.4m-4.4,0l4.4,-4.4M164.9,138.1l4.4,4.4m-4.4,0l4.4,-4.4M164.9,138.7l4.4,4.4m-4.4,0l4.4,-4.4M165.0,138.5l4.4,4.4m-4.4,0l4.4,-4.4M165.0,139.1l4.4,4.4m-4.4,0l4.4,-4.4M165.1,139.4l4.4,4.4m-4.4,0l4.4,-4.4M165.2,139.2l4.4,4.4m-4.4,0l4.4,-4.4M165.3,139.5l4.4,4.4m-4.4,0l4.4,-4.4M165.5,140.0l4.4,4.4m-4.4,0l4.4,-4.4M165.6,139.4l4.4,4.4m-4.4,0l4.4,-4.4M165.8,139.8l4.4,4.4m-4.4,0l4.4,-4.4M165.9,139.6l4.4,4.4m-4.4,0l4.4,-4.4M166.0,140.1l4.4,4.4m-4.4,0l4.4,-4.4M166.2,140.3l4.4,4.4m-4.4,0l4.4,-4.4M166.3,140.0l4.4,4.4m-4.4,0l4.4,-4.4M166.5,139.7l4.4,4.4m-4.4,0l4.4,-4.4M166.6,140.1l4.4,4.4m-4.4,0l4.4,-4.4M166.8,140.1l4.4,4.4m-4.4,0l4.4,-4.4M166.9,140.3l4.4,4.4m-4.4,0l4.4,-4.4M167.1,140.1l4.4,4.4m-4.4,0l4.4,-4.4M167.2,140.2l4.4,4.4m-4.4,0l4.4,-4.4M167.3,140.4l4.4,4.4m-4.4,0l4.4,-4.4M167.5,140.2l4.4,4.4m-4.4,0l4.4,-4.4M167.6,140.1l4.4,4.4m-4.4,0l4.4,-4.4M167.8,140.5l4.4,4.4m-4.4,0l4.4,-4.4M167.9,139.9l4.4,4.4m-4.4,0l4.4,-4.4M168.1,140.3l4.4,4.4m-4.4,0l4.4,-4.4M168.2,140.1l4.4,4.4m-4.4,0l4.4,-4.4M168.4,140.4l4.4,4.4m-4.4,0l4.4,-4.4M168.5,139.9l4.4,4.4m-4.4,0l4.4,-4.4M168.6,140.6l4.4,4.4m-4.4,0l4.4,-4.4M168.8,140.1l4.4,4.4m-4.4,0l4.4,-4.4M168.9,139.9l4.4,4.4m-4.4,0l4.4,-4.4M169.1,140.1l4.4,4.4m-4.4,0l4.4,-4.4M169.2,140.2l4.4,4.4m-4.4,0l4.4,-4.4M169.4,139.9l4.4,4.4m-4.4,0l4.4,-4.4M169.5,140.2l4.4,4.4m-4.4,0l4.4,-4.4M169.7,140.2l4.4,4.4m-4.4,0l4.4,-4.4M169.8,140.4l4.4,4.4m-4.4,0l4.4,-4.4M170.0,140.1l4.4,4.4m-4.4,0l4.4,-4.4M170.1,140.1l4.4,4.4m-4.4,0l4.4,-4.4M170.2,140.0l4.4,4.4m-4.4,0l4.4,-4.4M170.4,140.4l4.4,4.4m-4.4,0l4.4,-4.4M170.5,140.6l4.4,4.4m-4.4,0l4.4,-4.4M170.7,140.3l4.4,4.4m-4.4,0l4.4,-4.4M170.8,140.0l4.4,4.4m-4.4,0l4.4,-4.4M171.0,140.5l4.4,4.4m-4.4,0l4.4,-4.4M171.1,140.1l4.4,4.4m-4.4,0l4.4,-4.4M171.3,140.0l4.4,4.4m-4.4,0l4.4,-4.4M171.4,139.9l4.4,4.4m-4.4,0l4.4,-4.4M171.5,140.4l4.4,4.4m-4.4,0l4.4,-4.4M171.7,140.4l4.4,4.4m-4.4,0l4.4,-4.4M171.8,140.3l4.4,4.4m-4.4,0l4.4,-4.4M172.0,140.1l4.4,4.4m-4.4,0l4.4,-4.4M172.1,140.2l4.4,4.4m-4.4,0l4.4,-4.4M172.3,139.9l4.4,4.4m-4.4,0l4.4,-4.4M172.4,140.4l4.4,4.4m-4.4,0l4.4,-4.4M172.6,139.8l4.4,4.4m-4.4,0l4.4,-4.4M172.7,139.8l4.4,4.4m-4.4,0l4.4,-4.4M172.8,139.5l4.4,4.4m-4.4,0l4.4,-4.4M173.0,138.8l4.4,4.4m-4.4,0l4.4,-4.4M173.1,138.1l4.4,4.4m-4.4,0l4.4,-4.4M173.1,137.5l4.4,4.4m-4.4,0l4.4,-4.4M173.2,137.2l4.4,4.4m-4.4,0l4.4,-4.4M173.7,136.3l4.4,4.4m-4.4,0l4.4,-4.4M173.8,136.0l4.4,4.4m-4.4,0l4.4,-4.4M173.2,135.5l4.4,4.4m-4.4,0l4.4,-4.4M173.3,135.1l4.4,4.4m-4.4,0l4.4,-4.4M172.8,134.9l4.4,4.4m-4.4,0l4.4,-4.4M173.3,135.4l4.4,4.4m-4.4,0l4.4,-4.4M173.4,135.3l4.4,4.4m-4.4,0l4.4,-4.4M173.6,135.9l4.4,4.4m-4.4,0l4.4,-4.4M174.0,136.5l4.4,4.4m-4.4,0l4.4,-4.4M174.4,136.8l4.4,4.4m-4.4,0l4.4,-4.4M173.9,137.7l4.4,4.4m-4.4,0l4.4,-4.4M174.0,137.5l4.4,4.4m-4.4,0l4.4,-4.4M174.0,138.6l4.4,4.4m-4.4,0l4.4,-4.4M174.1,139.0l4.4,4.4m-4.4,0l4.4,-4.4M174.1,139.2l4.4,4.4m-4.4,0l4.4,-4.4M174.2,139.0l4.4,4.4m-4.4,0l4.4,-4.4M174.4,139.9l4.4,4.4m-4.4,0l4.4,-4.4M174.5,139.9l4.4,4.4m-4.4,0l4.4,-4.4M174.6,139.4l4.4,4.4m-4.4,0l4.4,-4.4M174.8,139.3l4.4,4.4m-4.4,0l4.4,-4.4M174.9,139.8l4.4,4.4m-4.4,0l4.4,-4.4M175.1,139.0l4.4,4.4m-4.4,0l4.4,-4.4M175.1,138.4l4.4,4.4m-4.4,0l4.4,-4.4M175.2,137.9l4.4,4.4m-4.4,0l4.4,-4.4M175.3,137.5l4.4,4.4m-4.4,0l4.4,-4.4M175.3,137.2l4.4,4.4m-4.4,0l4.4,-4.4M175.4,137.2l4.4,4.4m-4.4,0l4.4,-4.4M175.0,136.5l4.4,4.4m-4.4,0l4.4,-4.4M175.9,136.7l4.4,4.4m-4.4,0l4.4,-4.4M176.1,136.0l4.4,4.4m-4.4,0l4.4,-4.4M176.0,136.4l4.4,4.4m-4.4,0l4.4,-4.4M176.3,136.7l4.4,4.4m-4.4,0l4.4,-4.4M176.3,137.1l4.4,4.4m-4.4,0l4.4,-4.4M175.8,137.0l4.4,4.4m-4.4,0l4.4,-4.4M175.9,137.8l4.4,4.4m-4.4,0l4.4,-4.4M176.0,138.1l4.4,4.4m-4.4,0l4.4,-4.4M176.0,138.6l4.4,4.4m-4.4,0l4.4,-4.4M176.1,138.7l4.4,4.4m-4.4,0l4.4,-4.4M176.2,139.4l4.4,4.4m-4.4,0l4.4,-4.4M176.2,139.4l4.4,4.4m-4.4,0l4.4,-4.4M176.4,139.6l4.4,4.4m-4.4,0l4.4,-4.4M176.5,139.8l4.4,4.4m-4.4,0l4.4,-4.4M176.7,139.8l4.4,4.4m-4.4,0l4.4,-4.4M176.8,140.1l4.4,4.4m-4.4,0l4.4,-4.4M177.0,139.8l4.4,4.4m-4.4,0l4.4,-4.4M177.1,140.1l4.4,4.4m-4.4,0l4.4,-4.4M177.2,139.9l4.4,4.4m-4.4,0l4.4,-4.4M177.4,140.2l4.4,4.4m-4.4,0l4.4,-4.4M177.5,140.2l4.4,4.4m-4.4,0l4.4,-4.4M177.7,140.2l4.4,4.4m-4.4,0l4.4,-4.4M177.8,140.4l4.4,4.4m-4.4,0l4.4,-4.4M178.0,139.7l4.4,4.4m-4.4,0l4.4,-4.4M178.1,140.3l4.4,4.4m-4.4,0l4.4,-4.4M178.3,139.8l4.4,4.4m-4.4,0l4.4,-4.4M178.4,139.6l4.4,4.4m-4.4,0l4.4,-4.4M178.5,139.1l4.4,4.4m-4.4,0l4.4,-4.4M178.6,138.9l4.4,4.4m-4.4,0l4.4,-4.4M178.7,138.1l4.4,4.4m-4.4,0l4.4,-4.4M178.7,137.7l4.4,4.4m-4.4,0l4.4,-4.4M178.8,137.6l4.4,4.4m-4.4,0l4.4,-4.4M179.1,136.4l4.4,4.4m-4.4,0l4.4,-4.4M178.3,136.3l4.4,4.4m-4.4,0l4.4,-4.4M179.3,135.8l4.4,4.4m-4.4,0l4.4,-4.4M178.8,135.7l4.4,4.4m-4.4,0l4.4,-4.4M179.1,135.6l4.4,4.4m-4.4,0l4.4,-4.4M179.7,135.3l4.4,4.4m-4.4,0l4.4,-4.4M179.6,135.2l4.4,4.4m-4.4,0l4.4,-4.4M179.1,136.1l4.4,4.4m-4.4,0l4.4,-4.4M179.2,136.7l4.4,4.4m-4.4,0l4.4,-4.4M179.5,137.0l4.4,4.4m-4.4,0l4.4,-4.4M179.5,137.7l4.4,4.4m-4.4,0l4.4,-4.4M179.6,137.8l4.4,4.4m-4.4,0l4.4,-4.4M179.6,138.4l4.4,4.4m-4.4,0l4.4,-4.4M179.7,138.8l4.4,4.4m-4.4,0l4.4,-4.4M179.8,139.2l4.4,4.4m-4.4,0l4.4,-4.4M179.8,139.7l4.4,4.4m-4.4,0l4.4,-4.4M180.0,139.7l4.4,4.4m-4.4,0l4.4,-4.4M180.1,140.3l4.4,4.4m-4.4,0l4.4,-4.4M180.3,140.0l4.4,4.4m-4.4,0l4.4,-4.4M180.4,140.2l4.4,4.4m-4.4,0l4.4,-4.4M180.6,140.0l4.4,4.4m-4.4,0l4.4,-4.4M180.7,140.2l4.4,4.4m-4.4,0l4.4,-4.4M180.8,140.6l4.4,4.4m-4.4,0l4.4,-4.4M181.0,140.4l4.4,4.4m-4.4,0l4.4,-4.4M181.1,140.5l4.4,4.4m-4.4,0l4.4,-4.4M181.3,140.2l4.4,4.4m-4.4,0l4.4,-4.4M181.4,140.2l4.4,4.4m-4.4,0l4.4,-4.4M181.6,140.1l4.4,4.4m-4.4,0l4.4,-4.4M181.7,140.4l4.4,4.4m-4.4,0l4.4,-4.4M181.9,140.4l4.4,4.4m-4.4,0l4.4,-4.4M182.0,140.5l4.4,4.4m-4.4,0l4.4,-4.4M182.1,139.9l4.4,4.4m-4.4,0l4.4,-4.4M182.3,140.5l4.4,4.4m-4.4,0l4.4,-4.4M182.4,140.6l4.4,4.4m-4.4,0l4.4,-4.4M182.6,140.3l4.4,4.4m-4.4,0l4.4,-4.4M182.7,139.9l4.4,4.4m-4.4,0l4.4,-4.4M182.9,140.1l4.4,4.4m-4.4,0l4.4,-4.4M183.0,139.8l4.4,4.4m-4.4,0l4.4,-4.4M183.2,139.8l4.4,4.4m-4.4,0l4.4,-4.4M183.3,140.2l4.4,4.4m-4.4,0l4.4,-4.4M183.5,139.6l4.4,4.4m-4.4,0l4.4,-4.4M183.6,139.1l4.4,4.4m-4.4,0l4.4,-4.4M183.7,138.9l4.4,4.4m-4.4,0l4.4,-4.4M183.7,138.8l4.4,4.4m-4.4,0l4.4,-4.4M183.8,138.3l4.4,4.4m-4.4,0l4.4,-4.4M183.9,138.1l4.4,4.4m-4.4,0l4.4,-4.4M183.9,138.0l4.4,4.4m-4.4,0l4.4,-4.4M184.0,138.0l4.4,4.4m-4.4,0l4.4,-4.4M184.0,138.0l4.4,4.4m-4.4,0l4.4,-4.4M184.1,138.2l4.4,4.4m-4.4,0l4.4,-4.4M184.2,138.1l4.4,4.4m-4.4,0l4.4,-4.4M184.2,138.7l4.4,4.4m-4.4,0l4.4,-4.4M184.3,138.8l4.4,4.4m-4.4,0l4.4,-4.4M184.4,139.3l4.4,4.4m-4.4,0l4.4,-4.4M184.4,139.0l4.4,4.4m-4.4,0l4.4,-4.4M184.6,139.5l4.4,4.4m-4.4,0l4.4,-4.4M184.7,139.6l4.4,4.4m-4.4,0l4.4,-4.4M184.9,140.3l4.4,4.4m-4.4,0l4.4,-4.4M185.0,140.5l4.4,4.4m-4.4,0l4.4,-4.4M185.2,140.3l4.4,4.4m-4.4,0l4.4,-4.4M185.3,140.0l4.4,4.4m-4.4,0l4.4,-4.4M185.4,140.2l4.4,4.4m-4.4,0l4.4,-4.4M185.6,140.0l4.4,4.4m-4.4,0l4.4,-4.4M185.7,139.4l4.4,4.4m-4.4,0l4.4,-4.4M185.9,138.7l4.4,4.4m-4.4,0l4.4,-4.4M185.9,138.4l4.4,4.4m-4.4,0l4.4,-4.4M186.0,138.3l4.4,4.4m-4.4,0l4.4,-4.4M186.1,138.0l4.4,4.4m-4.4,0l4.4,-4.4M186.1,137.9l4.4,4.4m-4.4,0l4.4,-4.4M186.2,138.0l4.4,4.4m-4.4,0l4.4,-4.4M186.3,138.2l4.4,4.4m-4.4,0l4.4,-4.4M186.3,137.7l4.4,4.4m-4.4,0l4.4,-4.4M186.4,138.3l4.4,4.4m-4.4,0l4.4,-4.4M186.5,138.1l4.4,4.4m-4.4,0l4.4,-4.4M186.5,138.4l4.4,4.4m-4.4,0l4.4,-4.4M186.6,139.2l4.4,4.4m-4.4,0l4.4,-4.4M186.6,139.3l4.4,4.4m-4.4,0l4.4,-4.4M186.7,139.8l4.4,4.4m-4.4,0l4.4,-4.4M186.9,139.8l4.4,4.4m-4.4,0l4.4,-4.4M187.0,139.7l4.4,4.4m-4.4,0l4.4,-4.4M187.1,140.1l4.4,4.4m-4.4,0l4.4,-4.4M187.3,140.3l4.4,4.4m-4.4,0l4.4,-4.4M187.4,140.6l4.4,4.4m-4.4,0l4.4,-4.4M187.6,140.7l4.4,4.4m-4.4,0l4.4,-4.4M187.7,140.3l4.4,4.4m-4.4,0l4.4,-4.4M187.9,140.3l4.4,4.4m-4.4,0l4.4,-4.4M188.0,140.1l4.4,4.4m-4.4,0l4.4,-4.4M188.2,140.5l4.4,4.4m-4.4,0l4.4,-4.4M188.3,140.2l4.4,4.4m-4.4,0l4.4,-4.4M188.4,140.1l4.4,4.4m-4.4,0l4.4,-4.4M188.6,140.0l4.4,4.4m-4.4,0l4.4,-4.4M188.7,140.0l4.4,4.4m-4.4,0l4.4,-4.4M188.9,140.5l4.4,4.4m-4.4,0l4.4,-4.4M189.0,140.1l4.4,4.4m-4.4,0l4.4,-4.4M189.2,140.7l4.4,4.4m-4.4,0l4.4,-4.4M189.3,140.1l4.4,4.4m-4.4,0l4.4,-4.4M189.5,140.7l4.4,4.4m-4.4,0l4.4,-4.4M189.6,140.1l4.4,4.4m-4.4,0l4.4,-4.4M189.8,140.0l4.4,4.4m-4.4,0l4.4,-4.4M189.9,140.6l4.4,4.4m-4.4,0l4.4,-4.4M190.0,140.2l4.4,4.4m-4.4,0l4.4,-4.4M190.2,140.6l4.4,4.4m-4.4,0l4.4,-4.4M190.3,140.2l4.4,4.4m-4.4,0l4.4,-4.4M190.5,140.1l4.4,4.4m-4.4,0l4.4,-4.4M190.6,140.6l4.4,4.4m-4.4,0l4.4,-4.4M190.8,140.6l4.4,4.4m-4.4,0l4.4,-4.4M190.9,140.7l4.4,4.4m-4.4,0l4.4,-4.4M191.1,140.6l4.4,4.4m-4.4,0l4.4,-4.4M191.2,140.1l4.4,4.4m-4.4,0l4.4,-4.4M191.3,140.5l4.4,4.4m-4.4,0l4.4,-4.4M191.5,140.6l4.4,4.4m-4.4,0l4.4,-4.4M191.6,140.4l4.4,4.4m-4.4,0l4.4,-4.4M191.8,140.7l4.4,4.4m-4.4,0l4.4,-4.4M191.9,140.2l4.4,4.4m-4.4,0l4.4,-4.4M192.1,140.8l4.4,4.4m-4.4,0l4.4,-4.4M192.2,140.6l4.4,4.4m-4.4,0l4.4,-4.4M192.4,140.1l4.4,4.4m-4.4,0l4.4,-4.4M192.5,140.1l4.4,4.4m-4.4,0l4.4,-4.4M192.6,140.5l4.4,4.4m-4.4,0l4.4,-4.4M192.8,140.7l4.4,4.4m-4.4,0l4.4,-4.4M192.9,140.1l4.4,4.4m-4.4,0l4.4,-4.4M193.1,140.3l4.4,4.4m-4.4,0l4.4,-4.4M193.2,140.6l4.4,4.4m-4.4,0l4.4,-4.4M193.4,140.2l4.4,4.4m-4.4,0l4.4,-4.4M193.5,140.7l4.4,4.4m-4.4,0l4.4,-4.4M193.7,140.4l4.4,4.4m-4.4,0l4.4,-4.4M193.8,140.1l4.4,4.4m-4.4,0l4.4,-4.4M193.9,140.3l4.4,4.4m-4.4,0l4.4,-4.4M194.1,140.5l4.4,4.4m-4.4,0l4.4,-4.4M194.2,140.4l4.4,4.4m-4.4,0l4.4,-4.4M194.4,140.6l4.4,4.4m-4.4,0l4.4,-4.4M194.5,140.2l4.4,4.4m-4.4,0l4.4,-4.4M194.7,140.7l4.4,4.4m-4.4,0l4.4,-4.4M194.8,140.3l4.4,4.4m-4.4,0l4.4,-4.4M195.0,140.5l4.4,4.4m-4.4,0l4.4,-4.4M195.1,140.5l4.4,4.4m-4.4,0l4.4,-4.4M195.2,140.4l4.4,4.4m-4.4,0l4.4,-4.4M195.4,140.3l4.4,4.4m-4.4,0l4.4,-4.4M195.5,140.6l4.4,4.4m-4.4,0l4.4,-4.4M195.7,140.8l4.4,4.4m-4.4,0l4.4,-4.4M195.8,140.6l4.4,4.4m-4.4,0l4.4,-4.4M196.0,140.5l4.4,4.4m-4.4,0l4.4,-4.4M196.1,140.3l4.4,4.4m-4.4,0l4.4,-4.4M196.3,140.1l4.4,4.4m-4.4,0l4.4,-4.4M196.4,140.8l4.4,4.4m-4.4,0l4.4,-4.4M196.5,140.6l4.4,4.4m-4.4,0l4.4,-4.4M196.7,140.7l4.4,4.4m-4.4,0l4.4,-4.4M196.8,140.3l4.4,4.4m-4.4,0l4.4,-4.4M197.0,140.5l4.4,4.4m-4.4,0l4.4,-4.4M197.1,140.8l4.4,4.4m-4.4,0l4.4,-4.4M197.3,140.7l4.4,4.4m-4.4,0l4.4,-4.4M197.4,140.5l4.4,4.4m-4.4,0l4.4,-4.4M197.6,140.3l4.4,4.4m-4.4,0l4.4,-4.4M197.7,140.4l4.4,4.4m-4.4,0l4.4,-4.4M197.9,140.7l4.4,4.4m-4.4,0l4.4,-4.4M198.0,140.3l4.4,4.4m-4.4,0l4.4,-4.4M198.1,140.6l4.4,4.4m-4.4,0l4.4,-4.4M198.3,140.5l4.4,4.4m-4.4,0l4.4,-4.4M198.4,140.7l4.4,4.4m-4.4,0l4.4,-4.4M198.6,140.7l4.4,4.4m-4.4,0l4.4,-4.4M198.7,140.3l4.4,4.4m-4.4,0l4.4,-4.4M198.9,140.1l4.4,4.4m-4.4,0l4.4,-4.4M199.0,140.2l4.4,4.4m-4.4,0l4.4,-4.4M199.2,140.4l4.4,4.4m-4.4,0l4.4,-4.4M199.3,140.5l4.4,4.4m-4.4,0l4.4,-4.4M199.4,140.6l4.4,4.4m-4.4,0l4.4,-4.4M199.6,140.7l4.4,4.4m-4.4,0l4.4,-4.4M199.7,140.0l4.4,4.4m-4.4,0l4.4,-4.4M199.9,140.5l4.4,4.4m-4.4,0l4.4,-4.4M200.0,140.3l4.4,4.4m-4.4,0l4.4,-4.4M200.2,140.1l4.4,4.4m-4.4,0l4.4,-4.4M200.3,139.6l4.4,4.4m-4.4,0l4.4,-4.4M200.5,138.9l4.4,4.4m-4.4,0l4.4,-4.4M200.5,139.2l4.4,4.4m-4.4,0l4.4,-4.4M200.6,139.1l4.4,4.4m-4.4,0l4.4,-4.4M200.6,138.9l4.4,4.4m-4.4,0l4.4,-4.4M200.7,139.1l4.4,4.4m-4.4,0l4.4,-4.4M200.8,138.7l4.4,4.4m-4.4,0l4.4,-4.4M200.8,138.6l4.4,4.4m-4.4,0l4.4,-4.4M200.9,139.2l4.4,4.4m-4.4,0l4.4,-4.4M201.0,139.5l4.4,4.4m-4.4,0l4.4,-4.4M201.0,139.2l4.4,4.4m-4.4,0l4.4,-4.4M201.2,140.0l4.4,4.4m-4.4,0l4.4,-4.4M201.3,140.4l4.4,4.4m-4.4,0l4.4,-4.4M201.5,140.0l4.4,4.4m-4.4,0l4.4,-4.4M201.6,140.4l4.4,4.4m-4.4,0l4.4,-4.4M201.8,140.5l4.4,4.4m-4.4,0l4.4,-4.4M201.9,140.4l4.4,4.4m-4.4,0l4.4,-4.4M202.0,140.2l4.4,4.4m-4.4,0l4.4,-4.4M202.2,140.2l4.4,4.4m-4.4,0l4.4,-4.4M202.3,140.6l4.4,4.4m-4.4,0l4.4,-4.4M202.5,140.6l4.4,4.4m-4.4,0l4.4,-4.4M202.6,140.4l4.4,4.4m-4.4,0l4.4,-4.4M202.8,140.1l4.4,4.4m-4.4,0l4.4,-4.4M202.9,140.7l4.4,4.4m-4.4,0l4.4,-4.4M203.1,140.6l4.4,4.4m-4.4,0l4.4,-4.4M203.2,140.2l4.4,4.4m-4.4,0l4.4,-4.4M203.3,140.5l4.4,4.4m-4.4,0l4.4,-4.4M203.5,140.7l4.4,4.4m-4.4,0l4.4,-4.4M203.6,140.7l4.4,4.4m-4.4,0l4.4,-4.4M203.8,140.4l4.4,4.4m-4.4,0l4.4,-4.4M203.9,140.4l4.4,4.4m-4.4,0l4.4,-4.4M204.1,140.5l4.4,4.4m-4.4,0l4.4,-4.4M204.2,140.2l4.4,4.4m-4.4,0l4.4,-4.4M204.4,140.2l4.4,4.4m-4.4,0l4.4,-4.4M204.5,140.2l4.4,4.4m-4.4,0l4.4,-4.4M204.6,140.6l4.4,4.4m-4.4,0l4.4,-4.4M204.8,140.3l4.4,4.4m-4.4,0l4.4,-4.4M204.9,140.4l4.4,4.4m-4.4,0l4.4,-4.4M205.1,140.3l4.4,4.4m-4.4,0l4.4,-4.4M205.2,140.4l4.4,4.4m-4.4,0l4.4,-4.4M205.4,140.1l4.4,4.4m-4.4,0l4.4,-4.4M205.5,139.9l4.4,4.4m-4.4,0l4.4,-4.4M205.7,140.5l4.4,4.4m-4.4,0l4.4,-4.4M205.8,139.8l4.4,4.4m-4.4,0l4.4,-4.4M206.0,139.2l4.4,4.4m-4.4,0l4.4,-4.4M206.1,139.0l4.4,4.4m-4.4,0l4.4,-4.4M206.2,138.8l4.4,4.4m-4.4,0l4.4,-4.4M206.2,138.0l4.4,4.4m-4.4,0l4.4,-4.4M206.3,138.1l4.4,4.4m-4.4,0l4.4,-4.4M206.4,137.7l4.4,4.4m-4.4,0l4.4,-4.4M206.4,137.7l4.4,4.4m-4.4,0l4.4,-4.4M206.5,137.3l4.4,4.4m-4.4,0l4.4,-4.4M206.5,137.4l4.4,4.4m-4.4,0l4.4,-4.4M206.6,138.2l4.4,4.4m-4.4,0l4.4,-4.4M206.7,138.4l4.4,4.4m-4.4,0l4.4,-4.4M206.7,138.4l4.4,4.4m-4.4,0l4.4,-4.4M206.8,138.8l4.4,4.4m-4.4,0l4.4,-4.4M206.9,138.8l4.4,4.4m-4.4,0l4.4,-4.4M206.9,139.4l4.4,4.4m-4.4,0l4.4,-4.4M207.0,139.4l4.4,4.4m-4.4,0l4.4,-4.4M207.1,140.2l4.4,4.4m-4.4,0l4.4,-4.4M207.3,140.3l4.4,4.4m-4.4,0l4.4,-4.4M207.4,140.4l4.4,4.4m-4.4,0l4.4,-4.4M207.6,140.5l4.4,4.4m-4.4,0l4.4,-4.4M207.7,140.0l4.4,4.4m-4.4,0l4.4,-4.4M207.9,139.7l4.4,4.4m-4.4,0l4.4,-4.4M208.0,139.6l4.4,4.4m-4.4,0l4.4,-4.4M208.2,139.2l4.4,4.4m-4.4,0l4.4,-4.4M208.3,138.5l4.4,4.4m-4.4,0l4.4,-4.4M208.4,138.1l4.4,4.4m-4.4,0l4.4,-4.4M208.4,138.1l4.4,4.4m-4.4,0l4.4,-4.4M208.5,138.0l4.4,4.4m-4.4,0l4.4,-4.4M208.6,137.4l4.4,4.4m-4.4,0l4.4,-4.4M208.6,137.5l4.4,4.4m-4.4,0l4.4,-4.4M208.1,137.4l4.4,4.4m-4.4,0l4.4,-4.4M208.6,137.2l4.4,4.4m-4.4,0l4.4,-4.4M208.8,136.9l4.4,4.4m-4.4,0l4.4,-4.4M208.9,137.8l4.4,4.4m-4.4,0l4.4,-4.4M208.9,137.6l4.4,4.4m-4.4,0l4.4,-4.4M209.0,138.2l4.4,4.4m-4.4,0l4.4,-4.4M209.1,138.6l4.4,4.4m-4.4,0l4.4,-4.4M209.1,139.2l4.4,4.4m-4.4,0l4.4,-4.4M209.2,139.2l4.4,4.4m-4.4,0l4.4,-4.4M209.3,139.3l4.4,4.4m-4.4,0l4.4,-4.4M209.4,139.8l4.4,4.4m-4.4,0l4.4,-4.4M209.6,139.9l4.4,4.4m-4.4,0l4.4,-4.4M209.7,140.6l4.4,4.4m-4.4,0l4.4,-4.4M209.8,140.7l4.4,4.4m-4.4,0l4.4,-4.4M210.0,140.2l4.4,4.4m-4.4,0l4.4,-4.4M210.1,140.0l4.4,4.4m-4.4,0l4.4,-4.4M210.3,140.2l4.4,4.4m-4.4,0l4.4,-4.4M210.4,140.3l4.4,4.4m-4.4,0l4.4,-4.4M210.6,140.7l4.4,4.4m-4.4,0l4.4,-4.4M210.7,140.7l4.4,4.4m-4.4,0l4.4,-4.4M210.9,140.7l4.4,4.4m-4.4,0l4.4,-4.4M211.0,140.1l4.4,4.4m-4.4,0l4.4,-4.4M211.1,140.7l4.4,4.4m-4.4,0l4.4,-4.4M211.3,140.6l4.4,4.4m-4.4,0l4.4,-4.4M211.4,140.6l4.4,4.4m-4.4,0l4.4,-4.4M211.6,140.8l4.4,4.4m-4.4,0l4.4,-4.4M211.7,140.1l4.4,4.4m-4.4,0l4.4,-4.4M211.9,140.2l4.4,4.4m-4.4,0l4.4,-4.4M212.0,140.7l4.4,4.4m-4.4,0l4.4,-4.4M212.2,140.8l4.4,4.4m-4.4,0l4.4,-4.4M212.3,140.6l4.4,4.4m-4.4,0l4.4,-4.4M212.4,140.3l4.4,4.4m-4.4,0l4.4,-4.4M212.6,140.5l4.4,4.4m-4.4,0l4.4,-4.4M212.7,140.7l4.4,4.4m-4.4,0l4.4,-4.4M212.9,140.2l4.4,4.4m-4.4,0l4.4,-4.4M213.0,140.3l4.4,4.4m-4.4,0l4.4,-4.4M213.2,140.3l4.4,4.4m-4.4,0l4.4,-4.4M213.3,140.2l4.4,4.4m-4.4,0l4.4,-4.4M213.5,140.5l4.4,4.4m-4.4,0l4.4,-4.4M213.6,140.2l4.4,4.4m-4.4,0l4.4,-4.4M213.7,140.3l4.4,4.4m-4.4,0l4.4,-4.4M213.9,140.2l4.4,4.4m-4.4,0l4.4,-4.4M214.0,140.6l4.4,4.4m-4.4,0l4.4,-4.4M214.2,140.1l4.4,4.4m-4.4,0l4.4,-4.4M214.3,140.6l4.4,4.4m-4.4,0l4.4,-4.4M214.5,140.3l4.4,4.4m-4.4,0l4.4,-4.4M214.6,140.1l4.4,4.4m-4.4,0l4.4,-4.4M214.8,140.8l4.4,4.4m-4.4,0l4.4,-4.4M214.9,140.3l4.4,4.4m-4.4,0l4.4,-4.4M215.0,140.8l4.4,4.4m-4.4,0l4.4,-4.4M215.2,140.8l4.4,4.4m-4.4,0l4.4,-4.4M215.3,140.8l4.4,4.4m-4.4,0l4.4,-4.4M215.5,140.2l4.4,4.4m-4.4,0l4.4,-4.4M215.6,140.4l4.4,4.4m-4.4,0l4.4,-4.4M215.8,140.2l4.4,4.4m-4.4,0l4.4,-4.4M215.9,140.8l4.4,4.4m-4.4,0l4.4,-4.4M216.1,140.7l4.4,4.4m-4.4,0l4.4,-4.4M216.2,140.6l4.4,4.4m-4.4,0l4.4,-4.4M216.3,140.4l4.4,4.4m-4.4,0l4.4,-4.4M216.5,140.4l4.4,4.4m-4.4,0l4.4,-4.4M216.6,140.7l4.4,4.4m-4.4,0l4.4,-4.4M216.8,140.5l4.4,4.4m-4.4,0l4.4,-4.4M216.9,140.6l4.4,4.4m-4.4,0l4.4,-4.4M217.1,140.2l4.4,4.4m-4.4,0l4.4,-4.4M217.2,140.3l4.4,4.4m-4.4,0l4.4,-4.4M217.4,140.2l4.4,4.4m-4.4,0l4.4,-4.4M217.5,140.6l4.4,4.4m-4.4,0l4.4,-4.4M217.7,140.5l4.4,4.4m-4.4,0l4.4,-4.4M217.8,140.2l4.4,4.4m-4.4,0l4.4,-4.4M217.9,140.7l4.4,4.4m-4.4,0l4.4,-4.4M218.1,140.3l4.4,4.4m-4.4,0l4.4,-4.4M218.2,140.4l4.4,4.4m-4.4,0l4.4,-4.4M218.4,140.2l4.4,4.4m-4.4,0l4.4,-4.4M218.5,140.3l4.4,4.4m-4.4,0l4.4,-4.4M218.7,140.7l4.4,4.4m-4.4,0l4.4,-4.4M218.8,140.3l4.4,4.4m-4.4,0l4.4,-4.4M219.0,140.2l4.4,4.4m-4.4,0l4.4,-4.4M219.1,140.4l4.4,4.4m-4.4,0l4.4,-4.4M219.2,140.3l4.4,4.4m-4.4,0l4.4,-4.4M219.4,140.7l4.4,4.4m-4.4,0l4.4,-4.4M219.5,140.2l4.4,4.4m-4.4,0l4.4,-4.4M219.7,140.8l4.4,4.4m-4.4,0l4.4,-4.4M219.8,140.1l4.4,4.4m-4.4,0l4.4,-4.4M220.0,140.7l4.4,4.4m-4.4,0l4.4,-4.4M220.1,140.5l4.4,4.4m-4.4,0l4.4,-4.4M220.3,140.2l4.4,4.4m-4.4,0l4.4,-4.4M220.4,140.3l4.4,4.4m-4.4,0l4.4,-4.4M220.5,140.2l4.4,4.4m-4.4,0l4.4,-4.4M220.7,140.1l4.4,4.4m-4.4,0l4.4,-4.4M220.8,140.1l4.4,4.4m-4.4,0l4.4,-4.4M221.0,140.1l4.4,4.4m-4.4,0l4.4,-4.4M221.1,140.5l4.4,4.4m-4.4,0l4.4,-4.4M221.3,140.3l4.4,4.4m-4.4,0l4.4,-4.4M221.4,139.9l4.4,4.4m-4.4,0l4.4,-4.4M221.6,138.7l4.4,4.4m-4.4,0l4.4,-4.4M221.6,138.5l4.4,4.4m-4.4,0l4.4,-4.4M221.7,138.5l4.4,4.4m-4.4,0l4.4,-4.4M221.7,137.4l4.4,4.4m-4.4,0l4.4,-4.4M221.8,137.4l4.4,4.4m-4.4,0l4.4,-4.4M222.5,136.6l4.4,4.4m-4.4,0l4.4,-4.4M222.4,135.8l4.4,4.4m-4.4,0l4.4,-4.4M221.5,135.5l4.4,4.4m-4.4,0l4.4,-4.4M222.5,134.9l4.4,4.4m-4.4,0l4.4,-4.4M221.7,134.9l4.4,4.4m-4.4,0l4.4,-4.4M222.8,134.7l4.4,4.4m-4.4,0l4.4,-4.4M222.4,134.6l4.4,4.4m-4.4,0l4.4,-4.4M221.9,134.8l4.4,4.4m-4.4,0l4.4,-4.4M222.7,135.6l4.4,4.4m-4.4,0l4.4,-4.4M221.9,135.6l4.4,4.4m-4.4,0l4.4,-4.4M222.7,136.1l4.4,4.4m-4.4,0l4.4,-4.4M222.3,136.9l4.4,4.4m-4.4,0l4.4,-4.4M222.6,137.2l4.4,4.4m-4.4,0l4.4,-4.4M222.7,137.9l4.4,4.4m-4.4,0l4.4,-4.4M222.8,138.4l4.4,4.4m-4.4,0l4.4,-4.4M222.8,138.9l4.4,4.4m-4.4,0l4.4,-4.4M222.9,139.0l4.4,4.4m-4.4,0l4.4,-4.4M223.0,138.9l4.4,4.4m-4.4,0l4.4,-4.4M223.0,139.0l4.4,4.4m-4.4,0l4.4,-4.4M223.1,139.6l4.4,4.4m-4.4,0l4.4,-4.4M223.2,139.4l4.4,4.4m-4.4,0l4.4,-4.4M223.4,139.3l4.4,4.4m-4.4,0l4.4,-4.4M223.5,138.6l4.4,4.4m-4.4,0l4.4,-4.4M223.5,138.8l4.4,4.4m-4.4,0l4.4,-4.4M223.6,138.1l4.4,4.4m-4.4,0l4.4,-4.4M223.6,138.1l4.4,4.4m-4.4,0l4.4,-4.4M223.7,137.6l4.4,4.4m-4.4,0l4.4,-4.4M223.1,136.9l4.4,4.4m-4.4,0l4.4,-4.4M223.8,136.6l4.4,4.4m-4.4,0l4.4,-4.4M223.6,136.1l4.4,4.4m-4.4,0l4.4,-4.4M224.4,135.1l4.4,4.4m-4.4,0l4.4,-4.4M223.6,134.9l4.4,4.4m-4.4,0l4.4,-4.4M224.2,134.7l4.4,4.4m-4.4,0l4.4,-4.4M224.2,134.3l4.4,4.4m-4.4,0l4.4,-4.4M224.2,134.8l4.4,4.4m-4.4,0l4.4,-4.4M224.6,134.9l4.4,4.4m-4.4,0l4.4,-4.4M224.9,135.8l4.4,4.4m-4.4,0l4.4,-4.4M224.7,135.9l4.4,4.4m-4.4,0l4.4,-4.4M224.8,136.5l4.4,4.4m-4.4,0l4.4,-4.4M225.1,136.8l4.4,4.4m-4.4,0l4.4,-4.4M224.6,137.9l4.4,4.4m-4.4,0l4.4,-4.4M224.7,138.0l4.4,4.4m-4.4,0l4.4,-4.4M224.7,138.4l4.4,4.4m-4.4,0l4.4,-4.4M224.8,138.7l4.4,4.4m-4.4,0l4.4,-4.4M224.9,139.0l4.4,4.4m-4.4,0l4.4,-4.4M224.9,138.8l4.4,4.4m-4.4,0l4.4,-4.4M225.0,139.5l4.4,4.4m-4.4,0l4.4,-4.4M225.1,139.0l4.4,4.4m-4.4,0l4.4,-4.4M225.1,138.9l4.4,4.4m-4.4,0l4.4,-4.4M225.2,138.8l4.4,4.4m-4.4,0l4.4,-4.4M225.3,138.7l4.4,4.4m-4.4,0l4.4,-4.4M225.3,138.9l4.4,4.4m-4.4,0l4.4,-4.4M225.4,138.2l4.4,4.4m-4.4,0l4.4,-4.4M225.4,138.0l4.4,4.4m-4.4,0l4.4,-4.4M225.5,138.2l4.4,4.4m-4.4,0l4.4,-4.4M225.6,137.6l4.4,4.4m-4.4,0l4.4,-4.4M225.6,137.3l4.4,4.4m-4.4,0l4.4,-4.4M225.7,137.6l4.4,4.4m-4.4,0l4.4,-4.4M225.8,137.6l4.4,4.4m-4.4,0l4.4,-4.4M225.8,137.6l4.4,4.4m-4.4,0l4.4,-4.4M225.9,137.9l4.4,4.4m-4.4,0l4.4,-4.4M226.0,137.7l4.4,4.4m-4.4,0l4.4,-4.4M226.0,138.5l4.4,4.4m-4.4,0l4.4,-4.4M226.1,138.7l4.4,4.4m-4.4,0l4.4,-4.4M226.2,138.5l4.4,4.4m-4.4,0l4.4,-4.4M226.2,138.8l4.4,4.4m-4.4,0l4.4,-4.4M226.3,139.3l4.4,4.4m-4.4,0l4.4,-4.4M226.3,139.5l4.4,4.4m-4.4,0l4.4,-4.4M226.5,139.7l4.4,4.4m-4.4,0l4.4,-4.4M226.6,139.8l4.4,4.4m-4.4,0l4.4,-4.4M226.8,140.2l4.4,4.4m-4.4,0l4.4,-4.4M226.9,140.0l4.4,4.4m-4.4,0l4.4,-4.4M227.1,140.4l4.4,4.4m-4.4,0l4.4,-4.4M227.2,140.6l4.4,4.4m-4.4,0l4.4,-4.4M227.4,140.1l4.4,4.4m-4.4,0l4.4,-4.4M227.5,140.4l4.4,4.4m-4.4,0l4.4,-4.4M227.6,140.6l4.4,4.4m-4.4,0l4.4,-4.4M227.8,140.2l4.4,4.4m-4.4,0l4.4,-4.4M227.9,140.6l4.4,4.4m-4.4,0l4.4,-4.4M228.1,140.7l4.4,4.4m-4.4,0l4.4,-4.4M228.2,140.3l4.4,4.4m-4.4,0l4.4,-4.4M228.4,140.3l4.4,4.4m-4.4,0l4.4,-4.4M228.5,140.6l4.4,4.4m-4.4,0l4.4,-4.4M228.7,140.4l4.4,4.4m-4.4,0l4.4,-4.4M228.8,140.3l4.4,4.4m-4.4,0l4.4,-4.4M228.9,140.6l4.4,4.4m-4.4,0l4.4,-4.4M229.1,140.3l4.4,4.4m-4.4,0l4.4,-4.4M229.2,139.8l4.4,4.4m-4.4,0l4.4,-4.4M229.4,139.2l4.4,4.4m-4.4,0l4.4,-4.4M229.5,138.7l4.4,4.4m-4.4,0l4.4,-4.4M229.6,138.4l4.4,4.4m-4.4,0l4.4,-4.4M229.7,138.4l4.4,4.4m-4.4,0l4.4,-4.4M229.7,138.0l4.4,4.4m-4.4,0l4.4,-4.4M229.8,137.7l4.4,4.4m-4.4,0l4.4,-4.4M229.8,137.4l4.4,4.4m-4.4,0l4.4,-4.4M229.3,137.4l4.4,4.4m-4.4,0l4.4,-4.4M230.0,137.2l4.4,4.4m-4.4,0l4.4,-4.4M230.0,137.6l4.4,4.4m-4.4,0l4.4,-4.4M230.1,137.9l4.4,4.4m-4.4,0l4.4,-4.4M230.2,137.7l4.4,4.4m-4.4,0l4.4,-4.4M230.2,138.2l4.4,4.4m-4.4,0l4.4,-4.4M230.3,138.7l4.4,4.4m-4.4,0l4.4,-4.4M230.4,138.8l4.4,4.4m-4.4,0l4.4,-4.4M230.4,139.3l4.4,4.4m-4.4,0l4.4,-4.4M230.5,139.2l4.4,4.4m-4.4,0l4.4,-4.4M230.6,139.9l4.4,4.4m-4.4,0l4.4,-4.4M230.8,140.2l4.4,4.4m-4.4,0l4.4,-4.4M230.9,140.0l4.4,4.4m-4.4,0l4.4,-4.4M231.1,140.1l4.4,4.4m-4.4,0l4.4,-4.4M231.2,140.7l4.4,4.4m-4.4,0l4.4,-4.4M231.4,140.6l4.4,4.4m-4.4,0l4.4,-4.4M231.5,140.8l4.4,4.4m-4.4,0l4.4,-4.4M231.6,140.5l4.4,4.4m-4.4,0l4.4,-4.4M231.8,140.7l4.4,4.4m-4.4,0l4.4,-4.4M231.9,140.7l4.4,4.4m-4.4,0l4.4,-4.4M232.1,140.7l4.4,4.4m-4.4,0l4.4,-4.4M232.2,140.1l4.4,4.4m-4.4,0l4.4,-4.4M232.4,140.6l4.4,4.4m-4.4,0l4.4,-4.4M232.5,140.3l4.4,4.4m-4.4,0l4.4,-4.4M232.7,140.6l4.4,4.4m-4.4,0l4.4,-4.4M232.8,140.3l4.4,4.4m-4.4,0l4.4,-4.4M233.0,140.5l4.4,4.4m-4.4,0l4.4,-4.4M233.1,140.8l4.4,4.4m-4.4,0l4.4,-4.4M233.2,140.6l4.4,4.4m-4.4,0l4.4,-4.4M233.4,140.3l4.4,4.4m-4.4,0l4.4,-4.4M233.5,140.5l4.4,4.4m-4.4,0l4.4,-4.4M233.7,140.4l4.4,4.4m-4.4,0l4.4,-4.4M233.8,140.8l4.4,4.4m-4.4,0l4.4,-4.4M234.0,140.3l4.4,4.4m-4.4,0l4.4,-4.4M234.1,140.3l4.4,4.4m-4.4,0l4.4,-4.4M234.3,140.6l4.4,4.4m-4.4,0l4.4,-4.4M234.4,140.2l4.4,4.4m-4.4,0l4.4,-4.4M234.5,140.5l4.4,4.4m-4.4,0l4.4,-4.4M234.7,140.8l4.4,4.4m-4.4,0l4.4,-4.4M234.8,140.4l4.4,4.4m-4.4,0l4.4,-4.4M235.0,140.2l4.4,4.4m-4.4,0l4.4,-4.4M235.1,140.3l4.4,4.4m-4.4,0l4.4,-4.4M235.3,140.3l4.4,4.4m-4.4,0l4.4,-4.4M235.4,139.8l4.4,4.4m-4.4,0l4.4,-4.4M235.6,139.4l4.4,4.4m-4.4,0l4.4,-4.4M235.7,139.0l4.4,4.4m-4.4,0l4.4,-4.4M235.8,138.9l4.4,4.4m-4.4,0l4.4,-4.4M235.8,138.8l4.4,4.4m-4.4,0l4.4,-4.4M235.9,138.5l4.4,4.4m-4.4,0l4.4,-4.4M236.0,138.3l4.4,4.4m-4.4,0l4.4,-4.4M236.0,138.2l4.4,4.4m-4.4,0l4.4,-4.4M236.1,138.5l4.4,4.4m-4.4,0l4.4,-4.4M236.1,138.8l4.4,4.4m-4.4,0l4.4,-4.4M236.2,138.8l4.4,4.4m-4.4,0l4.4,-4.4M236.3,139.0l4.4,4.4m-4.4,0l4.4,-4.4M236.3,139.2l4.4,4.4m-4.4,0l4.4,-4.4M236.4,139.1l4.4,4.4m-4.4,0l4.4,-4.4M236.5,139.7l4.4,4.4m-4.4,0l4.4,-4.4M236.6,139.9l4.4,4.4m-4.4,0l4.4,-4.4M236.8,140.2l4.4,4.4m-4.4,0l4.4,-4.4M236.9,140.3l4.4,4.4m-4.4,0l4.4,-4.4M237.0,140.3l4.4,4.4m-4.4,0l4.4,-4.4M237.2,140.2l4.4,4.4m-4.4,0l4.4,-4.4M237.3,140.0l4.4,4.4m-4.4,0l4.4,-4.4M237.5,139.9l4.4,4.4m-4.4,0l4.4,-4.4M237.6,139.8l4.4,4.4m-4.4,0l4.4,-4.4M237.8,139.2l4.4,4.4m-4.4,0l4.4,-4.4M237.8,139.1l4.4,4.4m-4.4,0l4.4,-4.4M237.9,138.3l4.4,4.4m-4.4,0l4.4,-4.4M238.0,138.2l4.4,4.4m-4.4,0l4.4,-4.4M238.0,138.3l4.4,4.4m-4.4,0l4.4,-4.4M238.1,137.5l4.4,4.4m-4.4,0l4.4,-4.4M238.2,137.4l4.4,4.4m-4.4,0l4.4,-4.4M238.2,137.2l4.4,4.4m-4.4,0l4.4,-4.4M239.0,137.0l4.4,4.4m-4.4,0l4.4,-4.4M238.4,137.0l4.4,4.4m-4.4,0l4.4,-4.4M238.4,137.6l4.4,4.4m-4.4,0l4.4,-4.4M238.5,137.4l4.4,4.4m-4.4,0l4.4,-4.4M238.5,137.7l4.4,4.4m-4.4,0l4.4,-4.4M238.6,138.6l4.4,4.4m-4.4,0l4.4,-4.4M238.7,138.7l4.4,4.4m-4.4,0l4.4,-4.4M238.7,138.7l4.4,4.4m-4.4,0l4.4,-4.4M238.8,139.2l4.4,4.4m-4.4,0l4.4,-4.4M238.9,139.5l4.4,4.4m-4.4,0l4.4,-4.4M239.0,140.1l4.4,4.4m-4.4,0l4.4,-4.4M239.2,139.9l4.4,4.4m-4.4,0l4.4,-4.4M239.3,140.1l4.4,4.4m-4.4,0l4.4,-4.4M239.4,140.7l4.4,4.4m-4.4,0l4.4,-4.4M239.6,140.6l4.4,4.4m-4.4,0l4.4,-4.4M239.7,140.2l4.4,4.4m-4.4,0l4.4,-4.4M239.9,140.3l4.4,4.4m-4.4,0l4.4,-4.4M240.0,140.4l4.4,4.4m-4.4,0l4.4,-4.4M240.2,140.6l4.4,4.4m-4.4,0l4.4,-4.4M240.3,140.6l4.4,4.4m-4.4,0l4.4,-4.4M240.5,140.7l4.4,4.4m-4.4,0l4.4,-4.4M240.6,140.7l4.4,4.4m-4.4,0l4.4,-4.4M240.7,140.5l4.4,4.4m-4.4,0l4.4,-4.4M240.9,140.7l4.4,4.4m-4.4,0l4.4,-4.4M241.0,140.7l4.4,4.4m-4.4,0l4.4,-4.4M241.2,140.7l4.4,4.4m-4.4,0l4.4,-4.4M241.3,140.5l4.4,4.4m-4.4,0l4.4,-4.4M241.5,140.7l4.4,4.4m-4.4,0l4.4,-4.4M241.6,140.7l4.4,4.4m-4.4,0l4.4,-4.4M241.8,140.8l4.4,4.4m-4.4,0l4.4,-4.4M241.9,140.2l4.4,4.4m-4.4,0l4.4,-4.4M242.0,140.8l4.4,4.4m-4.4,0l4.4,-4.4M242.2,140.1l4.4,4.4m-4.4,0l4.4,-4.4M242.3,140.7l4.4,4.4m-4.4,0l4.4,-4.4M242.5,140.5l4.4,4.4m-4.4,0l4.4,-4.4M242.6,140.5l4.4,4.4m-4.4,0l4.4,-4.4M242.8,140.8l4.4,4.4m-4.4,0l4.4,-4.4M242.9,140.5l4.4,4.4m-4.4,0l4.4,-4.4M243.1,140.3l4.4,4.4m-4.4,0l4.4,-4.4M243.2,140.5l4.4,4.4m-4.4,0l4.4,-4.4M243.3,140.4l4.4,4.4m-4.4,0l4.4,-4.4M243.5,140.0l4.4,4.4m-4.4,0l4.4,-4.4M243.6,139.4l4.4,4.4m-4.4,0l4.4,-4.4M243.8,138.9l4.4,4.4m-4.4,0l4.4,-4.4M243.8,138.7l4.4,4.4m-4.4,0l4.4,-4.4M243.9,138.7l4.4,4.4m-4.4,0l4.4,-4.4M244.0,138.2l4.4,4.4m-4.4,0l4.4,-4.4M244.0,138.2l4.4,4.4m-4.4,0l4.4,-4.4M244.1,138.3l4.4,4.4m-4.4,0l4.4,-4.4M244.2,138.3l4.4,4.4m-4.4,0l4.4,-4.4M244.2,138.4l4.4,4.4m-4.4,0l4.4,-4.4M244.3,138.9l4.4,4.4m-4.4,0l4.4,-4.4M244.4,139.2l4.4,4.4m-4.4,0l4.4,-4.4M244.4,139.2l4.4,4.4m-4.4,0l4.4,-4.4M244.5,139.4l4.4,4.4m-4.4,0l4.4,-4.4M244.6,139.4l4.4,4.4m-4.4,0l4.4,-4.4M244.7,139.8l4.4,4.4m-4.4,0l4.4,-4.4M244.8,139.9l4.4,4.4m-4.4,0l4.4,-4.4M245.0,140.4l4.4,4.4m-4.4,0l4.4,-4.4M245.1,140.4l4.4,4.4m-4.4,0l4.4,-4.4M245.3,140.1l4.4,4.4m-4.4,0l4.4,-4.4M245.4,140.7l4.4,4.4m-4.4,0l4.4,-4.4M245.6,140.2l4.4,4.4m-4.4,0l4.4,-4.4M245.7,140.5l4.4,4.4m-4.4,0l4.4,-4.4M245.9,140.4l4.4,4.4m-4.4,0l4.4,-4.4M246.0,140.3l4.4,4.4m-4.4,0l4.4,-4.4M246.1,139.4l4.4,4.4m-4.4,0l4.4,-4.4M246.3,139.0l4.4,4.4m-4.4,0l4.4,-4.4M246.4,139.1l4.4,4.4m-4.4,0l4.4,-4.4M246.4,138.2l4.4,4.4m-4.4,0l4.4,-4.4M246.5,138.0l4.4,4.4m-4.4,0l4.4,-4.4M246.5,138.2l4.4,4.4m-4.4,0l4.4,-4.4M246.6,138.0l4.4,4.4m-4.4,0l4.4,-4.4M246.7,138.3l4.4,4.4m-4.4,0l4.4,-4.4M246.7,138.3l4.4,4.4m-4.4,0l4.4,-4.4M246.8,138.3l4.4,4.4m-4.4,0l4.4,-4.4M246.9,138.9l4.4,4.4m-4.4,0l4.4,-4.4M246.9,138.8l4.4,4.4m-4.4,0l4.4,-4.4M247.0,139.0l4.4,4.4m-4.4,0l4.4,-4.4M247.1,139.4l4.4,4.4m-4.4,0l4.4,-4.4M247.1,139.4l4.4,4.4m-4.4,0l4.4,-4.4M247.3,139.8l4.4,4.4m-4.4,0l4.4,-4.4M247.4,140.2l4.4,4.4m-4.4,0l4.4,-4.4M247.6,140.1l4.4,4.4m-4.4,0l4.4,-4.4M247.7,140.5l4.4,4.4m-4.4,0l4.4,-4.4M247.8,140.1l4.4,4.4m-4.4,0l4.4,-4.4M248.0,139.7l4.4,4.4m-4.4,0l4.4,-4.4M248.1,138.9l4.4,4.4m-4.4,0l4.4,-4.4M248.2,138.8l4.4,4.4m-4.4,0l4.4,-4.4M248.3,138.5l4.4,4.4m-4.4,0l4.4,-4.4M248.3,138.4l4.4,4.4m-4.4,0l4.4,-4.4M248.4,138.1l4.4,4.4m-4.4,0l4.4,-4.4M248.5,138.1l4.4,4.4m-4.4,0l4.4,-4.4M248.5,138.0l4.4,4.4m-4.4,0l4.4,-4.4M248.6,137.7l4.4,4.4m-4.4,0l4.4,-4.4M248.7,137.7l4.4,4.4m-4.4,0l4.4,-4.4M248.7,138.0l4.4,4.4m-4.4,0l4.4,-4.4M248.8,138.6l4.4,4.4m-4.4,0l4.4,-4.4M248.8,138.4l4.4,4.4m-4.4,0l4.4,-4.4M248.9,138.8l4.4,4.4m-4.4,0l4.4,-4.4M249.0,139.3l4.4,4.4m-4.4,0l4.4,-4.4M249.0,139.1l4.4,4.4m-4.4,0l4.4,-4.4M249.1,139.4l4.4,4.4m-4.4,0l4.4,-4.4M249.2,140.3l4.4,4.4m-4.4,0l4.4,-4.4M249.4,140.4l4.4,4.4m-4.4,0l4.4,-4.4M249.5,140.2l4.4,4.4m-4.4,0l4.4,-4.4M249.7,139.9l4.4,4.4m-4.4,0l4.4,-4.4M249.8,140.4l4.4,4.4m-4.4,0l4.4,-4.4M250.0,140.0l4.4,4.4m-4.4,0l4.4,-4.4M250.1,139.8l4.4,4.4m-4.4,0l4.4,-4.4M250.3,139.6l4.4,4.4m-4.4,0l4.4,-4.4M250.3,139.3l4.4,4.4m-4.4,0l4.4,-4.4M250.4,138.9l4.4,4.4m-4.4,0l4.4,-4.4M250.5,138.6l4.4,4.4m-4.4,0l4.4,-4.4M250.5,138.7l4.4,4.4m-4.4,0l4.4,-4.4M250.6,138.9l4.4,4.4m-4.4,0l4.4,-4.4M250.6,139.0l4.4,4.4m-4.4,0l4.4,-4.4M250.7,138.9l4.4,4.4m-4.4,0l4.4,-4.4M250.8,139.1l4.4,4.4m-4.4,0l4.4,-4.4M250.8,139.6l4.4,4.4m-4.4,0l4.4,-4.4M251.0,139.9l4.4,4.4m-4.4,0l4.4,-4.4M251.1,140.0l4.4,4.4m-4.4,0l4.4,-4.4M251.3,140.7l4.4,4.4m-4.4,0l4.4,-4.4M251.4,140.5l4.4,4.4m-4.4,0l4.4,-4.4M251.6,140.1l4.4,4.4m-4.4,0l4.4,-4.4M251.7,140.4l4.4,4.4m-4.4,0l4.4,-4.4M251.9,140.7l4.4,4.4m-4.4,0l4.4,-4.4M252.0,140.4l4.4,4.4m-4.4,0l4.4,-4.4M252.1,140.7l4.4,4.4m-4.4,0l4.4,-4.4M252.3,140.2l4.4,4.4m-4.4,0l4.4,-4.4M252.4,140.4l4.4,4.4m-4.4,0l4.4,-4.4M252.6,140.8l4.4,4.4m-4.4,0l4.4,-4.4M252.7,140.6l4.4,4.4m-4.4,0l4.4,-4.4M252.9,140.7l4.4,4.4m-4.4,0l4.4,-4.4M253.0,140.3l4.4,4.4m-4.4,0l4.4,-4.4M253.2,140.5l4.4,4.4m-4.4,0l4.4,-4.4M253.3,140.6l4.4,4.4m-4.4,0l4.4,-4.4M253.4,140.4l4.4,4.4m-4.4,0l4.4,-4.4M253.6,140.7l4.4,4.4m-4.4,0l4.4,-4.4M253.7,140.6l4.4,4.4m-4.4,0l4.4,-4.4M253.9,140.9l4.4,4.4m-4.4,0l4.4,-4.4M254.0,140.6l4.4,4.4m-4.4,0l4.4,-4.4M254.2,140.5l4.4,4.4m-4.4,0l4.4,-4.4M254.3,140.3l4.4,4.4m-4.4,0l4.4,-4.4M254.5,140.3l4.4,4.4m-4.4,0l4.4,-4.4M254.6,140.7l4.4,4.4m-4.4,0l4.4,-4.4M254.7,140.3l4.4,4.4m-4.4,0l4.4,-4.4M254.9,140.3l4.4,4.4m-4.4,0l4.4,-4.4M255.0,140.3l4.4,4.4m-4.4,0l4.4,-4.4M255.2,140.6l4.4,4.4m-4.4,0l4.4,-4.4M255.3,140.8l4.4,4.4m-4.4,0l4.4,-4.4M255.5,140.6l4.4,4.4m-4.4,0l4.4,-4.4M255.6,140.8l4.4,4.4m-4.4,0l4.4,-4.4M255.8,140.3l4.4,4.4m-4.4,0l4.4,-4.4M255.9,140.2l4.4,4.4m-4.4,0l4.4,-4.4M256.0,140.8l4.4,4.4m-4.4,0l4.4,-4.4M256.2,140.4l4.4,4.4m-4.4,0l4.4,-4.4M256.3,140.7l4.4,4.4m-4.4,0l4.4,-4.4M256.5,140.5l4.4,4.4m-4.4,0l4.4,-4.4M256.6,140.3l4.4,4.4m-4.4,0l4.4,-4.4M256.8,140.4l4.4,4.4m-4.4,0l4.4,-4.4M256.9,140.3l4.4,4.4m-4.4,0l4.4,-4.4M257.1,140.9l4.4,4.4m-4.4,0l4.4,-4.4M257.2,140.6l4.4,4.4m-4.4,0l4.4,-4.4M257.3,140.5l4.4,4.4m-4.4,0l4.4,-4.4M257.5,140.5l4.4,4.4m-4.4,0l4.4,-4.4M257.6,140.5l4.4,4.4m-4.4,0l4.4,-4.4M257.8,140.3l4.4,4.4m-4.4,0l4.4,-4.4M257.9,140.9l4.4,4.4m-4.4,0l4.4,-4.4M258.1,140.6l4.4,4.4m-4.4,0l4.4,-4.4M258.2,140.9l4.4,4.4m-4.4,0l4.4,-4.4M258.4,140.5l4.4,4.4m-4.4,0l4.4,-4.4M258.5,140.7l4.4,4.4m-4.4,0l4.4,-4.4M258.6,140.4l4.4,4.4m-4.4,0l4.4,-4.4M258.8,140.3l4.4,4.4m-4.4,0l4.4,-4.4M258.9,140.9l4.4,4.4m-4.4,0l4.4,-4.4M259.1,140.8l4.4,4.4m-4.4,0l4.4,-4.4M259.2,140.4l4.4,4.4m-4.4,0l4.4,-4.4M259.4,140.9l4.4,4.4m-4.4,0l4.4,-4.4M259.5,140.8l4.4,4.4m-4.4,0l4.4,-4.4M259.7,140.4l4.4,4.4m-4.4,0l4.4,-4.4M259.8,140.7l4.4,4.4m-4.4,0l4.4,-4.4M260.0,140.9l4.4,4.4m-4.4,0l4.4,-4.4M260.1,140.6l4.4,4.4m-4.4,0l4.4,-4.4M260.2,140.9l4.4,4.4m-4.4,0l4.4,-4.4M260.4,140.4l4.4,4.4m-4.4,0l4.4,-4.4M260.5,140.5l4.4,4.4m-4.4,0l4.4,-4.4M260.7,140.7l4.4,4.4m-4.4,0l4.4,-4.4M260.8,140.4l4.4,4.4m-4.4,0l4.4,-4.4M261.0,140.4l4.4,4.4m-4.4,0l4.4,-4.4M261.1,140.9l4.4,4.4m-4.4,0l4.4,-4.4M261.3,140.6l4.4,4.4m-4.4,0l4.4,-4.4M261.4,140.8l4.4,4.4m-4.4,0l4.4,-4.4M261.5,140.4l4.4,4.4m-4.4,0l4.4,-4.4M261.7,140.4l4.4,4.4m-4.4,0l4.4,-4.4M261.8,140.5l4.4,4.4m-4.4,0l4.4,-4.4M262.0,140.4l4.4,4.4m-4.4,0l4.4,-4.4M262.1,140.9l4.4,4.4m-4.4,0l4.4,-4.4M262.3,140.4l4.4,4.4m-4.4,0l4.4,-4.4M262.4,140.6l4.4,4.4m-4.4,0l4.4,-4.4M262.6,140.3l4.4,4.4m-4.4,0l4.4,-4.4M262.7,140.6l4.4,4.4m-4.4,0l4.4,-4.4M262.8,140.5l4.4,4.4m-4.4,0l4.4,-4.4M263.0,140.5l4.4,4.4m-4.4,0l4.4,-4.4M263.1,140.3l4.4,4.4m-4.4,0l4.4,-4.4M263.3,140.3l4.4,4.4m-4.4,0l4.4,-4.4M263.4,140.8l4.4,4.4m-4.4,0l4.4,-4.4M263.6,140.5l4.4,4.4m-4.4,0l4.4,-4.4M263.7,140.4l4.4,4.4m-4.4,0l4.4,-4.4M263.9,140.4l4.4,4.4m-4.4,0l4.4,-4.4" stroke="#1212ee" stroke-width="0.8" fill="none"/>
<polyline fill="none" stroke="#ff8a1e" stroke-width="1.3" stroke-linejoin="round" points="41.2,140.5 41.4,140.5 41.5,140.5 41.7,140.5 41.8,140.5 42.0,140.5 42.2,140.5 42.3,140.6 42.5,140.6 42.6,140.6 42.8,140.6 43.0,140.6 43.1,140.6 43.3,140.6 43.5,140.6 43.6,140.6 43.8,140.6 43.9,140.6 44.1,140.6 44.3,140.6 44.4,140.7 44.6,140.7 44.7,140.7 44.9,140.7 45.1,140.7 45.2,140.7 45.4,140.7 45.5,140.7 45.7,140.7 45.9,140.7 46.0,140.7 46.2,140.7 46.3,140.7 46.5,140.7 46.7,140.8 46.8,140.8 47.0,140.8 47.1,140.8 47.3,140.8 47.5,140.8 47.6,140.8 47.8,140.8 48.0,140.8 48.1,140.8 48.3,140.8 48.4,140.8 48.6,140.8 48.8,140.8 48.9,140.8 49.1,140.9 49.2,140.9 49.4,140.9 49.6,140.9 49.7,140.9 49.9,140.9 50.0,140.9 50.2,140.9 50.4,140.9 50.5,140.9 50.7,140.9 50.8,140.9 51.0,140.9 51.2,140.9 51.3,140.9 51.5,141.0 51.6,141.0 51.8,141.0 52.0,141.0 52.1,141.0 52.3,141.0 52.5,141.0 52.6,141.0 52.8,141.0 52.9,141.0 53.1,141.0 53.3,141.0 53.4,141.0 53.6,141.0 53.7,141.0 53.9,141.0 54.1,141.1 54.2,141.1 54.4,141.1 54.5,141.1 54.7,141.1 54.9,141.1 55.0,141.1 55.2,141.1 55.3,141.1 55.5,141.1 55.7,141.1 55.8,141.1 56.0,141.1 56.1,141.1 56.3,141.1 56.5,141.1 56.6,141.1 56.8,141.2 57.0,141.2 57.1,141.2 57.3,141.2 57.4,141.2 57.6,141.2 57.8,141.2 57.9,141.2 58.1,141.2 58.2,141.2 58.4,141.2 58.6,141.2 58.7,141.2 58.9,141.2 59.0,141.2 59.2,141.2 59.4,141.2 59.5,141.2 59.7,141.2 59.8,141.2 60.0,141.2 60.2,141.2 60.3,141.2 60.5,141.2 60.6,141.2 60.8,141.2 61.0,141.2 61.1,141.2 61.3,141.2 61.5,141.2 61.6,141.2 61.8,141.2 61.9,141.2 62.1,141.2 62.3,141.2 62.4,141.2 62.6,141.2 62.7,141.2 62.9,141.1 63.1,141.1 63.2,141.0 63.4,140.9 63.5,140.8 63.7,140.4 63.9,139.5 64.0,137.4 64.2,133.4 64.3,128.4 64.5,125.8 64.7,128.4 64.8,133.4 65.0,137.3 65.1,139.5 65.3,140.4 65.5,140.7 65.6,140.9 65.8,141.0 66.0,141.0 66.1,141.0 66.3,141.0 66.4,141.0 66.6,141.0 66.8,141.0 66.9,140.9 67.1,140.8 67.2,140.6 67.4,140.4 67.6,139.7 67.7,138.1 67.9,134.3 68.0,127.2 68.2,118.3 68.4,113.5 68.5,118.3 68.7,127.2 68.8,134.3 69.0,138.2 69.2,139.8 69.3,140.4 69.5,140.7 69.6,140.9 69.8,141.0 70.0,141.1 70.1,141.2 70.3,141.2 70.5,141.3 70.6,141.3 70.8,141.3 70.9,141.4 71.1,141.4 71.3,141.4 71.4,141.4 71.6,141.4 71.7,141.4 71.9,141.4 72.1,141.5 72.2,141.5 72.4,141.5 72.5,141.5 72.7,141.5 72.9,141.5 73.0,141.5 73.2,141.5 73.3,141.5 73.5,141.4 73.7,141.4 73.8,141.4 74.0,141.4 74.1,141.4 74.3,141.4 74.5,141.4 74.6,141.3 74.8,141.3 75.0,141.3 75.1,141.2 75.3,141.2 75.4,141.1 75.6,141.0 75.8,140.9 75.9,140.8 76.1,140.7 76.2,140.5 76.4,140.2 76.6,139.8 76.7,139.0 76.9,137.2 77.0,133.3 77.2,126.3 77.4,117.2 77.5,111.1 77.7,111.7 77.8,111.6 78.0,102.9 78.2,85.3 78.3,67.4 78.5,65.8 78.6,83.2 78.8,105.2 79.0,122.0 79.1,131.7 79.3,136.3 79.5,138.3 79.6,139.3 79.8,139.8 79.9,140.2 80.1,140.5 80.3,140.7 80.4,140.9 80.6,141.0 80.7,141.1 80.9,141.2 81.1,141.3 81.2,141.4 81.4,141.4 81.5,141.5 81.7,141.5 81.9,141.5 82.0,141.6 82.2,141.6 82.3,141.6 82.5,141.7 82.7,141.7 82.8,141.7 83.0,141.7 83.1,141.7 83.3,141.8 83.5,141.8 83.6,141.8 83.8,141.8 84.0,141.8 84.1,141.8 84.3,141.8 84.4,141.8 84.6,141.8 84.8,141.8 84.9,141.9 85.1,141.9 85.2,141.9 85.4,141.9 85.6,141.9 85.7,141.9 85.9,141.9 86.0,141.9 86.2,141.9 86.4,141.9 86.5,141.9 86.7,141.9 86.8,141.9 87.0,141.9 87.2,141.9 87.3,141.9 87.5,141.9 87.6,141.9 87.8,141.9 88.0,141.9 88.1,141.9 88.3,141.9 88.5,141.9 88.6,141.9 88.8,141.9 88.9,141.9 89.1,141.9 89.3,141.9 89.4,141.9 89.6,141.9 89.7,141.9 89.9,141.9 90.1,141.9 90.2,141.9 90.4,141.9 90.5,141.8 90.7,141.8 90.9,141.8 91.0,141.8 91.2,141.7 91.3,141.7 91.5,141.6 91.7,141.5 91.8,141.4 92.0,141.2 92.1,141.0 92.3,140.6 92.5,140.0 92.6,138.6 92.8,135.2 92.9,128.0 93.1,115.7 93.3,101.2 93.4,93.7 93.6,101.2 93.8,115.7 93.9,128.0 94.1,135.3 94.2,138.7 94.4,140.1 94.6,140.7 94.7,141.0 94.9,141.3 95.0,141.4 95.2,141.6 95.4,141.7 95.5,141.7 95.7,141.8 95.8,141.9 96.0,141.9 96.2,141.9 96.3,142.0 96.5,142.0 96.6,142.0 96.8,142.0 97.0,142.0 97.1,141.9 97.3,141.7 97.4,141.2 97.6,140.5 97.8,140.1 97.9,140.5 98.1,141.2 98.3,141.7 98.4,142.0 98.6,142.1 98.7,142.1 98.9,142.2 99.1,142.2 99.2,142.2 99.4,142.2 99.5,142.2 99.7,142.2 99.9,142.2 100.0,142.2 100.2,142.2 100.3,142.2 100.5,142.2 100.7,142.2 100.8,142.3 101.0,142.3 101.1,142.3 101.3,142.3 101.5,142.3 101.6,142.3 101.8,142.3 101.9,142.3 102.1,142.3 102.3,142.3 102.4,142.3 102.6,142.3 102.8,142.3 102.9,142.3 103.1,142.3 103.2,142.3 103.4,142.3 103.6,142.3 103.7,142.3 103.9,142.3 104.0,142.3 104.2,142.3 104.4,142.3 104.5,142.3 104.7,142.3 104.8,142.3 105.0,142.3 105.2,142.3 105.3,142.3 105.5,142.4 105.6,142.4 105.8,142.4 106.0,142.4 106.1,142.4 106.3,142.4 106.4,142.4 106.6,142.4 106.8,142.4 106.9,142.4 107.1,142.4 107.3,142.4 107.4,142.4 107.6,142.4 107.7,142.4 107.9,142.4 108.1,142.4 108.2,142.4 108.4,142.4 108.5,142.4 108.7,142.4 108.9,142.4 109.0,142.4 109.2,142.4 109.3,142.3 109.5,142.3 109.7,142.3 109.8,142.3 110.0,142.3 110.1,142.3 110.3,142.2 110.5,142.2 110.6,142.1 110.8,142.0 110.9,141.8 111.1,141.4 111.3,140.3 111.4,138.3 111.6,135.2 111.8,131.7 111.9,129.9 112.1,131.7 112.2,135.2 112.4,138.3 112.6,140.2 112.7,141.0 112.9,141.0 113.0,140.2 113.2,138.9 113.4,138.2 113.5,139.1 113.7,140.4 113.8,141.5 114.0,142.0 114.2,142.2 114.3,142.3 114.5,142.3 114.6,142.4 114.8,142.4 115.0,142.4 115.1,142.4 115.3,142.4 115.4,142.4 115.6,142.5 115.8,142.5 115.9,142.5 116.1,142.5 116.3,142.5 116.4,142.5 116.6,142.5 116.7,142.5 116.9,142.5 117.1,142.5 117.2,142.5 117.4,142.5 117.5,142.5 117.7,142.5 117.9,142.5 118.0,142.5 118.2,142.5 118.3,142.5 118.5,142.5 118.7,142.5 118.8,142.5 119.0,142.5 119.1,142.5 119.3,142.5 119.5,142.5 119.6,142.6 119.8,142.6 119.9,142.6 120.1,142.6 120.3,142.6 120.4,142.6 120.6,142.6 120.8,142.6 120.9,142.6 121.1,142.6 121.2,142.6 121.4,142.6 121.6,142.6 121.7,142.6 121.9,142.6 122.0,142.6 122.2,142.6 122.4,142.6 122.5,142.6 122.7,142.6 122.8,142.6 123.0,142.6 123.2,142.6 123.3,142.6 123.5,142.6 123.6,142.6 123.8,142.6 124.0,142.6 124.1,142.6 124.3,142.6 124.4,142.6 124.6,142.6 124.8,142.6 124.9,142.6 125.1,142.6 125.3,142.6 125.4,142.6 125.6,142.6 125.7,142.6 125.9,142.6 126.1,142.6 126.2,142.6 126.4,142.6 126.5,142.6 126.7,142.6 126.9,142.6 127.0,142.6 127.2,142.6 127.3,142.6 127.5,142.6 127.7,142.5 127.8,142.5 128.0,142.5 128.1,142.5 128.3,142.5 128.5,142.5 128.6,142.5 128.8,142.4 128.9,142.4 129.1,142.4 129.3,142.3 129.4,142.3 129.6,142.2 129.8,142.2 129.9,142.1 130.1,142.0 130.2,141.8 130.4,141.6 130.6,141.2 130.7,140.5 130.9,139.0 131.0,135.6 131.2,129.6 131.4,120.7 131.5,111.1 131.7,106.5 131.8,111.0 132.0,120.2 132.2,128.5 132.3,133.4 132.5,134.7 132.6,133.8 132.8,133.3 133.0,134.9 133.1,137.5 133.3,139.7 133.4,141.0 133.6,141.7 133.8,142.0 133.9,142.1 134.1,142.2 134.3,142.3 134.4,142.4 134.6,142.4 134.7,142.5 134.9,142.5 135.1,142.5 135.2,142.5 135.4,142.6 135.5,142.6 135.7,142.6 135.9,142.6 136.0,142.6 136.2,142.6 136.3,142.6 136.5,142.6 136.7,142.7 136.8,142.7 137.0,142.7 137.1,142.7 137.3,142.7 137.5,142.7 137.6,142.7 137.8,142.7 137.9,142.7 138.1,142.7 138.3,142.7 138.4,142.7 138.6,142.7 138.8,142.7 138.9,142.7 139.1,142.7 139.2,142.7 139.4,142.7 139.6,142.7 139.7,142.7 139.9,142.6 140.0,142.6 140.2,142.5 140.4,142.2 140.5,141.6 140.7,140.7 140.8,139.8 141.0,139.3 141.2,139.8 141.3,140.8 141.5,141.6 141.6,142.2 141.8,142.5 142.0,142.6 142.1,142.7 142.3,142.7 142.4,142.7 142.6,142.7 142.8,142.7 142.9,142.7 143.1,142.8 143.3,142.8 143.4,142.8 143.6,142.8 143.7,142.8 143.9,142.8 144.1,142.8 144.2,142.8 144.4,142.8 144.5,142.8 144.7,142.8 144.9,142.8 145.0,142.8 145.2,142.8 145.3,142.8 145.5,142.8 145.7,142.8 145.8,142.8 146.0,142.8 146.1,142.8 146.3,142.8 146.5,142.8 146.6,142.8 146.8,142.8 146.9,142.8 147.1,142.8 147.3,142.8 147.4,142.8 147.6,142.8 147.8,142.8 147.9,142.8 148.1,142.8 148.2,142.8 148.4,142.8 148.6,142.8 148.7,142.8 148.9,142.8 149.0,142.8 149.2,142.8 149.4,142.8 149.5,142.8 149.7,142.8 149.8,142.8 150.0,142.8 150.2,142.8 150.3,142.8 150.5,142.8 150.6,142.8 150.8,142.8 151.0,142.8 151.1,142.8 151.3,142.8 151.4,142.8 151.6,142.8 151.8,142.8 151.9,142.8 152.1,142.8 152.3,142.8 152.4,142.8 152.6,142.8 152.7,142.8 152.9,142.8 153.1,142.8 153.2,142.7 153.4,142.7 153.5,142.7 153.7,142.7 153.9,142.7 154.0,142.7 154.2,142.6 154.3,142.6 154.5,142.6 154.7,142.5 154.8,142.5 155.0,142.4 155.1,142.3 155.3,142.2 155.5,142.1 155.6,141.9 155.8,141.5 155.9,140.8 156.1,139.4 156.3,136.5 156.4,131.5 156.6,124.5 156.8,117.4 156.9,114.0 157.1,117.2 157.2,123.9 157.4,130.0 157.6,133.3 157.7,133.7 157.9,132.3 158.0,131.6 158.2,133.3 158.4,136.3 158.5,138.9 158.7,140.6 158.8,141.5 159.0,141.8 159.2,141.7 159.3,141.4 159.5,140.7 159.6,139.9 159.8,139.5 160.0,140.0 160.1,140.9 160.3,141.7 160.4,142.2 160.6,142.4 160.8,142.5 160.9,142.6 161.1,142.6 161.3,142.6 161.4,142.7 161.6,142.7 161.7,142.7 161.9,142.7 162.1,142.7 162.2,142.7 162.4,142.6 162.5,142.6 162.7,142.6 162.9,142.6 163.0,142.5 163.2,142.5 163.3,142.4 163.5,142.3 163.7,142.2 163.8,142.0 164.0,141.5 164.1,140.6 164.3,138.8 164.5,135.7 164.6,131.4 164.8,127.0 164.9,124.9 165.1,126.7 165.3,130.7 165.4,134.1 165.6,135.4 165.8,134.3 165.9,131.3 166.1,127.6 166.2,125.9 166.4,127.9 166.6,132.1 166.7,136.1 166.9,139.1 167.0,140.8 167.2,141.6 167.4,142.1 167.5,142.3 167.7,142.4 167.8,142.5 168.0,142.6 168.2,142.6 168.3,142.7 168.5,142.7 168.6,142.7 168.8,142.8 169.0,142.8 169.1,142.8 169.3,142.8 169.4,142.8 169.6,142.8 169.8,142.9 169.9,142.9 170.1,142.9 170.3,142.9 170.4,142.9 170.6,142.9 170.7,142.9 170.9,142.9 171.1,142.9 171.2,142.9 171.4,142.9 171.5,142.9 171.7,142.9 171.9,142.9 172.0,142.9 172.2,142.9 172.3,142.9 172.5,142.9 172.7,142.9 172.8,142.9 173.0,142.9 173.1,142.9 173.3,142.9 173.5,142.9 173.6,142.9 173.8,142.9 173.9,142.9 174.1,142.9 174.3,142.9 174.4,142.8 174.6,142.8 174.8,142.7 174.9,142.4 175.1,142.0 175.2,141.2 175.4,140.1 175.6,139.0 175.7,138.5 175.9,139.0 176.0,140.1 176.2,141.2 176.4,141.9 176.5,142.4 176.7,142.5 176.8,142.6 177.0,142.4 177.2,142.1 177.3,141.5 177.5,140.7 177.6,139.8 177.8,139.4 178.0,139.9 178.1,140.7 178.3,141.6 178.4,142.2 178.6,142.5 178.8,142.7 178.9,142.8 179.1,142.8 179.3,142.9 179.4,142.9 179.6,142.9 179.7,142.9 179.9,142.9 180.1,142.8 180.2,142.8 180.4,142.7 180.5,142.5 180.7,142.0 180.9,141.2 181.0,140.2 181.2,139.0 181.3,138.5 181.5,139.0 181.7,140.2 181.8,141.2 182.0,142.0 182.1,142.5 182.3,142.7 182.5,142.8 182.6,142.9 182.8,142.9 182.9,142.9 183.1,143.0 183.3,143.0 183.4,143.0 183.6,143.0 183.8,143.0 183.9,143.0 184.1,143.0 184.2,143.0 184.4,143.0 184.6,143.0 184.7,143.0 184.9,143.0 185.0,142.9 185.2,142.9 185.4,142.8 185.5,142.5 185.7,142.2 185.8,141.6 186.0,141.1 186.2,140.8 186.3,141.1 186.5,141.6 186.6,142.2 186.8,142.5 187.0,142.7 187.1,142.8 187.3,142.9 187.4,142.8 187.6,142.7 187.8,142.5 187.9,142.2 188.1,141.6 188.3,141.1 188.4,140.8 188.6,141.1 188.7,141.7 188.9,142.2 189.1,142.6 189.2,142.8 189.4,142.9 189.5,143.0 189.7,143.0 189.9,143.0 190.0,143.0 190.2,143.0 190.3,143.0 190.5,143.0 190.7,143.1 190.8,143.1 191.0,143.1 191.1,143.1 191.3,143.1 191.5,143.1 191.6,143.1 191.8,143.1 191.9,143.1 192.1,143.1 192.3,143.1 192.4,143.1 192.6,143.1 192.8,143.1 192.9,143.1 193.1,143.1 193.2,143.1 193.4,143.1 193.6,143.1 193.7,143.1 193.9,143.1 194.0,143.1 194.2,143.1 194.4,143.1 194.5,143.1 194.7,143.1 194.8,143.1 195.0,143.1 195.2,143.1 195.3,143.1 195.5,143.1 195.6,143.1 195.8,143.1 196.0,143.1 196.1,143.1 196.3,143.1 196.4,143.1 196.6,143.1 196.8,143.1 196.9,143.1 197.1,143.1 197.3,143.1 197.4,143.1 197.6,143.1 197.7,143.1 197.9,143.1 198.1,143.1 198.2,143.1 198.4,143.1 198.5,143.1 198.7,143.1 198.9,143.1 199.0,143.1 199.2,143.1 199.3,143.1 199.5,143.1 199.7,143.1 199.8,143.1 200.0,143.1 200.1,143.1 200.3,143.1 200.5,143.1 200.6,143.1 200.8,143.1 200.9,143.1 201.1,143.1 201.3,143.1 201.4,143.1 201.6,143.1 201.8,143.1 201.9,143.0 202.1,142.9 202.2,142.8 202.4,142.5 202.6,142.2 202.7,141.8 202.9,141.6 203.0,141.8 203.2,142.2 203.4,142.5 203.5,142.8 203.7,142.9 203.8,143.0 204.0,143.1 204.2,143.1 204.3,143.1 204.5,143.1 204.6,143.1 204.8,143.1 205.0,143.1 205.1,143.1 205.3,143.1 205.4,143.1 205.6,143.1 205.8,143.1 205.9,143.1 206.1,143.1 206.3,143.1 206.4,143.1 206.6,143.1 206.7,143.1 206.9,143.1 207.1,143.1 207.2,143.1 207.4,143.0 207.5,143.0 207.7,143.0 207.9,142.8 208.0,142.6 208.2,142.1 208.3,141.5 208.5,140.9 208.7,140.6 208.8,140.9 209.0,141.5 209.1,142.1 209.3,142.5 209.5,142.8 209.6,142.9 209.8,142.9 209.9,142.9 210.1,142.7 210.3,142.4 210.4,141.9 210.6,141.2 210.8,140.5 210.9,140.1 211.1,140.5 211.2,141.2 211.4,141.9 211.6,142.5 211.7,142.8 211.9,142.9 212.0,143.0 212.2,143.0 212.4,143.1 212.5,143.1 212.7,143.1 212.8,143.1 213.0,143.1 213.2,143.1 213.3,143.1 213.5,143.1 213.6,143.1 213.8,143.1 214.0,143.1 214.1,143.1 214.3,143.1 214.4,143.1 214.6,143.1 214.8,143.1 214.9,143.1 215.1,143.1 215.3,143.1 215.4,143.1 215.6,143.1 215.7,143.1 215.9,143.1 216.1,143.1 216.2,143.1 216.4,143.1 216.5,143.1 216.7,143.1 216.9,143.1 217.0,143.1 217.2,143.1 217.3,143.1 217.5,143.1 217.7,143.1 217.8,143.1 218.0,143.1 218.1,143.1 218.3,143.1 218.5,143.1 218.6,143.1 218.8,143.1 218.9,143.1 219.1,143.1 219.3,143.1 219.4,143.1 219.6,143.1 219.8,143.1 219.9,143.1 220.1,143.1 220.2,143.1 220.4,143.1 220.6,143.1 220.7,143.1 220.9,143.1 221.0,143.1 221.2,143.1 221.4,143.1 221.5,143.1 221.7,143.1 221.8,143.1 222.0,143.1 222.2,143.1 222.3,143.1 222.5,143.1 222.6,143.0 222.8,143.0 223.0,143.0 223.1,142.9 223.3,142.8 223.4,142.7 223.6,142.3 223.8,141.7 223.9,140.8 224.1,139.7 224.3,138.6 224.4,138.1 224.6,138.5 224.7,139.6 224.9,140.7 225.1,141.6 225.2,142.1 225.4,142.2 225.5,142.1 225.7,141.6 225.9,140.7 226.0,139.6 226.2,138.5 226.3,138.0 226.5,138.5 226.7,139.6 226.8,140.7 227.0,141.5 227.1,142.0 227.3,142.0 227.5,141.7 227.6,141.2 227.8,140.7 227.9,140.5 228.1,140.8 228.3,141.4 228.4,141.9 228.6,142.4 228.8,142.7 228.9,142.9 229.1,143.0 229.2,143.0 229.4,143.0 229.6,143.1 229.7,143.1 229.9,143.1 230.0,143.1 230.2,143.1 230.4,143.1 230.5,143.1 230.7,143.1 230.8,143.0 231.0,143.0 231.2,142.9 231.3,142.8 231.5,142.5 231.6,142.0 231.8,141.3 232.0,140.5 232.1,140.2 232.3,140.5 232.4,141.3 232.6,142.0 232.8,142.5 232.9,142.8 233.1,143.0 233.3,143.0 233.4,143.1 233.6,143.1 233.7,143.1 233.9,143.1 234.1,143.1 234.2,143.1 234.4,143.1 234.5,143.1 234.7,143.1 234.9,143.2 235.0,143.2 235.2,143.2 235.3,143.2 235.5,143.2 235.7,143.2 235.8,143.2 236.0,143.2 236.1,143.2 236.3,143.1 236.5,143.1 236.6,143.1 236.8,143.1 236.9,143.1 237.1,143.1 237.3,143.0 237.4,143.0 237.6,142.8 237.8,142.5 237.9,142.0 238.1,141.6 238.2,141.4 238.4,141.6 238.6,142.0 238.7,142.4 238.9,142.7 239.0,142.9 239.2,143.0 239.4,143.0 239.5,142.9 239.7,142.8 239.8,142.5 240.0,142.0 240.2,141.3 240.3,140.5 240.5,140.2 240.6,140.5 240.8,141.3 241.0,142.0 241.1,142.5 241.3,142.8 241.4,143.0 241.6,143.1 241.8,143.1 241.9,143.1 242.1,143.1 242.3,143.1 242.4,143.1 242.6,143.2 242.7,143.2 242.9,143.2 243.1,143.2 243.2,143.2 243.4,143.2 243.5,143.2 243.7,143.2 243.9,143.2 244.0,143.2 244.2,143.2 244.3,143.2 244.5,143.2 244.7,143.1 244.8,143.1 245.0,143.1 245.1,143.1 245.3,143.1 245.5,143.0 245.6,142.7 245.8,142.4 245.9,141.9 246.1,141.4 246.3,141.2 246.4,141.4 246.6,141.9 246.8,142.4 246.9,142.7 247.1,142.9 247.2,143.0 247.4,143.1 247.6,143.1 247.7,143.0 247.9,143.0 248.0,142.9 248.2,142.7 248.4,142.3 248.5,141.8 248.7,141.2 248.8,141.0 249.0,141.2 249.2,141.7 249.3,142.3 249.5,142.6 249.6,142.8 249.8,142.9 250.0,142.8 250.1,142.6 250.3,142.2 250.4,141.6 250.6,140.9 250.8,140.7 250.9,141.0 251.1,141.6 251.3,142.2 251.4,142.6 251.6,142.8 251.7,142.9 251.9,142.9 252.1,142.8 252.2,142.6 252.4,142.2 252.5,141.8 252.7,141.7 252.9,141.9 253.0,142.2 253.2,142.6 253.3,142.9 253.5,143.0 253.7,143.1 253.8,143.1 254.0,143.2 254.1,143.2 254.3,143.2 254.5,143.2 254.6,143.2 254.8,143.2 254.9,143.2 255.1,143.2 255.3,143.2 255.4,143.2 255.6,143.2 255.8,143.2 255.9,143.2 256.1,143.2 256.2,143.2 256.4,143.2 256.6,143.2 256.7,143.2 256.9,143.2 257.0,143.2 257.2,143.2 257.4,143.2 257.5,143.2 257.7,143.2 257.8,143.2 258.0,143.2 258.2,143.2 258.3,143.2 258.5,143.2 258.6,143.2 258.8,143.2 259.0,143.2 259.1,143.2 259.3,143.2 259.4,143.2 259.6,143.2 259.8,143.2 259.9,143.2 260.1,143.2 260.3,143.2 260.4,143.2 260.6,143.2 260.7,143.2 260.9,143.2 261.1,143.2 261.2,143.2 261.4,143.2 261.5,143.2 261.7,143.2 261.9,143.2 262.0,143.2 262.2,143.2 262.3,143.2 262.5,143.2 262.7,143.2 262.8,143.2 263.0,143.2 263.1,143.2 263.3,143.2 263.5,143.2 263.6,143.2 263.8,143.2 263.9,143.2 264.1,143.2 264.3,143.2 264.4,143.2 264.6,143.2 264.8,143.2 264.9,143.2 265.1,143.2 265.2,143.2 265.4,143.2 265.6,143.2 265.7,143.2 265.9,143.2 266.0,143.2 266.2,143.2"/>
<polyline fill="none" stroke="#e8102a" stroke-width="1.05" points="41.2,140.5 44.4,140.7 47.6,140.8 50.8,140.9 54.1,141.1 57.3,141.2 60.5,141.3 63.7,141.4 66.9,141.5 70.1,141.6 73.3,141.7 76.6,141.8 79.8,141.9 83.0,141.9 86.2,142.0 89.4,142.1 92.6,142.1 95.8,142.2 99.1,142.3 102.3,142.3 105.5,142.4 108.7,142.4 111.9,142.5 115.1,142.5 118.3,142.6 121.6,142.6 124.8,142.6 128.0,142.7 131.2,142.7 134.4,142.7 137.6,142.8 140.8,142.8 144.1,142.8 147.3,142.9 150.5,142.9 153.7,142.9 156.9,142.9 160.1,142.9 163.3,143.0 166.6,143.0 169.8,143.0 173.0,143.0 176.2,143.0 179.4,143.0 182.6,143.1 185.8,143.1 189.1,143.1 192.3,143.1 195.5,143.1 198.7,143.1 201.9,143.1 205.1,143.1 208.3,143.1 211.6,143.2 214.8,143.2 218.0,143.2 221.2,143.2 224.4,143.2 227.6,143.2 230.8,143.2 234.1,143.2 237.3,143.2 240.5,143.2 243.7,143.2 246.9,143.2 250.1,143.2 253.3,143.2 256.6,143.2 259.8,143.2 263.0,143.2 266.2,143.2"/>
<path d="M64.7,153.2V157.2M68.2,153.2V157.2M77.4,153.2V157.2M78.5,153.2V157.2M93.3,153.2V157.2M111.9,153.2V157.2M130.9,153.2V157.2M133.0,153.2V157.2M141.1,153.2V157.2M156.9,153.2V157.2M158.2,153.2V157.2M159.8,153.2V157.2M165.6,153.2V157.2M175.7,153.2V157.2M181.3,153.2V157.2M186.2,153.2V157.2M188.4,153.2V157.2M202.9,153.2V157.2M205.4,153.2V157.2M208.7,153.2V157.2M224.4,153.2V157.2M226.0,153.2V157.2M227.6,153.2V157.2M232.1,153.2V157.2M238.2,153.2V157.2M240.5,153.2V157.2M246.3,153.2V157.2M248.8,153.2V157.2M250.4,153.2V157.2M252.7,153.2V157.2" stroke="#ff36ea" stroke-width="1.1" fill="none"/>
<polyline fill="none" stroke="#8c28e6" stroke-width="1.1" points="41.2,169.4 41.5,169.4 41.8,169.3 42.2,169.7 42.5,169.5 42.8,169.4 43.1,169.7 43.5,169.3 43.8,169.4 44.1,169.8 44.4,169.3 44.7,169.6 45.1,169.8 45.4,169.8 45.7,169.4 46.0,169.5 46.3,169.8 46.7,169.5 47.0,169.9 47.3,169.4 47.6,169.9 48.0,169.6 48.3,169.4 48.6,169.6 48.9,169.3 49.2,169.7 49.6,169.4 49.9,169.9 50.2,169.7 50.5,169.5 50.8,169.4 51.2,169.7 51.5,169.4 51.8,169.9 52.1,169.3 52.5,169.6 52.8,169.6 53.1,169.4 53.4,169.8 53.7,169.5 54.1,169.7 54.4,169.6 54.7,169.5 55.0,169.5 55.3,169.3 55.7,169.4 56.0,169.8 56.3,169.5 56.6,169.7 57.0,169.3 57.3,169.6 57.6,169.5 57.9,169.6 58.2,169.5 58.6,169.3 58.9,169.5 59.2,169.4 59.5,169.3 59.8,169.8 60.2,169.4 60.5,169.5 60.8,169.9 61.1,169.8 61.5,169.9 61.8,169.9 62.1,169.3 62.4,169.4 62.7,169.3 63.1,169.7 63.4,169.6 63.7,168.9 64.0,168.0 64.3,167.4 64.7,167.7 65.0,168.8 65.3,170.6 65.6,170.8 66.0,170.6 66.3,169.7 66.6,169.4 66.9,170.0 67.2,170.2 67.6,171.0 67.9,171.7 68.2,172.2 68.5,171.6 68.8,170.1 69.2,168.9 69.5,168.4 69.8,168.3 70.1,169.0 70.5,169.5 70.8,169.3 71.1,169.8 71.4,169.6 71.7,169.8 72.1,169.4 72.4,169.6 72.7,169.7 73.0,169.5 73.3,169.3 73.7,169.8 74.0,169.8 74.3,169.5 74.6,169.3 75.0,169.8 75.3,169.7 75.6,169.3 75.9,169.4 76.2,169.2 76.6,169.1 76.9,167.3 77.2,166.0 77.5,165.4 77.8,168.0 78.2,174.3 78.5,177.3 78.8,174.7 79.1,169.4 79.5,166.1 79.8,166.2 80.1,168.3 80.4,169.0 80.7,169.8 81.1,169.7 81.4,169.8 81.7,169.8 82.0,169.7 82.3,169.6 82.7,169.3 83.0,169.7 83.3,169.5 83.6,169.6 84.0,169.9 84.3,169.3 84.6,169.8 84.9,169.3 85.2,169.7 85.6,169.8 85.9,169.4 86.2,169.6 86.5,169.9 86.8,169.7 87.2,169.6 87.5,169.4 87.8,169.3 88.1,169.5 88.5,169.5 88.8,169.4 89.1,169.5 89.4,169.3 89.7,169.7 90.1,169.7 90.4,169.4 90.7,169.4 91.0,169.6 91.3,169.6 91.7,169.9 92.0,169.3 92.3,168.6 92.6,167.2 93.0,164.2 93.3,163.2 93.6,164.6 93.9,168.2 94.2,170.8 94.6,172.1 94.9,171.3 95.2,170.7 95.5,170.0 95.8,169.6 96.2,169.8 96.5,169.8 96.8,169.1 97.1,168.6 97.5,167.9 97.8,167.4 98.1,167.7 98.4,168.6 98.7,169.1 99.1,169.7 99.4,169.6 99.7,169.3 100.0,169.5 100.3,169.6 100.7,169.5 101.0,169.4 101.3,169.3 101.6,169.3 102.0,169.9 102.3,169.8 102.6,169.3 102.9,169.8 103.2,169.9 103.6,169.6 103.9,169.3 104.2,169.6 104.5,169.6 104.8,169.4 105.2,169.6 105.5,169.3 105.8,169.9 106.1,169.7 106.5,169.7 106.8,169.9 107.1,169.7 107.4,169.4 107.7,169.4 108.1,169.3 108.4,169.3 108.7,169.8 109.0,169.8 109.3,169.5 109.7,169.4 110.0,169.7 110.3,169.9 110.6,170.1 111.0,169.8 111.3,170.5 111.6,170.9 111.9,171.0 112.2,170.5 112.6,170.1 112.9,170.2 113.2,169.6 113.5,169.6 113.8,169.6 114.2,169.5 114.5,169.8 114.8,169.4 115.1,169.3 115.5,169.6 115.8,169.7 116.1,169.8 116.4,169.7 116.7,169.9 117.1,169.9 117.4,169.6 117.7,169.6 118.0,169.4 118.3,169.5 118.7,169.7 119.0,169.3 119.3,169.7 119.6,169.4 120.0,169.6 120.3,169.9 120.6,169.3 120.9,169.3 121.2,169.6 121.6,169.4 121.9,169.8 122.2,169.3 122.5,169.8 122.8,169.8 123.2,169.8 123.5,169.5 123.8,169.4 124.1,169.7 124.5,169.6 124.8,169.5 125.1,169.5 125.4,169.6 125.7,169.7 126.1,169.8 126.4,169.9 126.7,169.4 127.0,169.5 127.3,169.6 127.7,169.6 128.0,169.5 128.3,169.4 128.6,169.3 129.0,169.5 129.3,169.6 129.6,169.9 129.9,169.9 130.2,170.1 130.6,170.9 130.9,172.2 131.2,173.5 131.5,174.3 131.8,172.9 132.2,171.4 132.5,169.4 132.8,168.2 133.1,168.5 133.5,169.3 133.8,169.4 134.1,169.7 134.4,169.5 134.7,169.5 135.1,169.9 135.4,169.3 135.7,169.4 136.0,169.7 136.3,169.6 136.7,169.3 137.0,169.7 137.3,169.5 137.6,169.7 138.0,169.5 138.3,169.6 138.6,169.6 138.9,169.5 139.2,169.3 139.6,169.3 139.9,169.6 140.2,169.1 140.5,168.6 140.8,169.1 141.2,168.7 141.5,168.8 141.8,169.4 142.1,169.3 142.5,169.6 142.8,169.6 143.1,169.4 143.4,169.7 143.7,169.3 144.1,169.6 144.4,169.7 144.7,169.3 145.0,169.5 145.3,169.3 145.7,169.6 146.0,169.9 146.3,169.6 146.6,169.8 147.0,169.8 147.3,169.3 147.6,169.9 147.9,169.8 148.2,169.3 148.6,169.8 148.9,169.5 149.2,169.4 149.5,169.9 149.8,169.6 150.2,169.8 150.5,169.3 150.8,169.8 151.1,169.3 151.5,169.4 151.8,169.5 152.1,169.3 152.4,169.7 152.7,169.4 153.1,169.5 153.4,169.7 153.7,169.5 154.0,169.9 154.3,169.7 154.7,169.8 155.0,169.5 155.3,169.4 155.6,168.7 156.0,167.2 156.3,166.7 156.6,166.0 156.9,166.8 157.2,167.9 157.6,169.3 157.9,169.7 158.2,170.4 158.5,170.6 158.8,170.5 159.2,170.1 159.5,169.4 159.8,169.7 160.1,169.3 160.5,169.6 160.8,169.8 161.1,169.3 161.4,169.9 161.7,169.7 162.1,169.4 162.4,169.4 162.7,169.6 163.0,169.8 163.3,169.7 163.7,169.3 164.0,169.3 164.3,169.4 164.6,170.1 165.0,170.3 165.3,171.4 165.6,171.6 165.9,171.3 166.2,169.9 166.6,168.7 166.9,168.7 167.2,168.7 167.5,169.2 167.8,169.7 168.2,169.9 168.5,169.3 168.8,169.5 169.1,169.4 169.5,169.6 169.8,169.9 170.1,169.8 170.4,169.3 170.7,169.4 171.1,169.8 171.4,169.7 171.7,169.5 172.0,169.6 172.3,169.4 172.7,169.8 173.0,169.5 173.3,169.9 173.6,169.7 174.0,169.3 174.3,169.5 174.6,169.4 174.9,169.8 175.2,169.4 175.6,168.8 175.9,168.7 176.2,168.7 176.5,168.9 176.8,169.2 177.2,169.3 177.5,169.4 177.8,169.2 178.1,169.6 178.5,169.5 178.8,169.3 179.1,169.6 179.4,169.9 179.7,169.3 180.1,169.4 180.4,169.7 180.7,169.4 181.0,169.4 181.3,169.6 181.7,169.4 182.0,169.7 182.3,169.7 182.6,170.2 183.0,170.4 183.3,170.0 183.6,170.4 183.9,170.5 184.2,170.3 184.6,170.1 184.9,169.8 185.2,169.7 185.5,169.5 185.8,169.4 186.2,169.8 186.5,169.9 186.8,169.9 187.1,169.7 187.5,169.5 187.8,169.8 188.1,169.8 188.4,169.6 188.7,169.7 189.1,169.5 189.4,169.6 189.7,169.5 190.0,169.3 190.3,169.5 190.7,169.5 191.0,169.9 191.3,169.6 191.6,169.5 192.0,169.4 192.3,169.4 192.6,169.5 192.9,169.3 193.2,169.3 193.6,169.9 193.9,169.6 194.2,169.6 194.5,169.6 194.8,169.5 195.2,169.4 195.5,169.3 195.8,169.5 196.1,169.5 196.5,169.8 196.8,169.6 197.1,169.9 197.4,169.5 197.7,169.9 198.1,169.7 198.4,169.3 198.7,169.4 199.0,169.7 199.3,169.9 199.7,169.5 200.0,169.8 200.3,169.5 200.6,169.9 201.0,169.3 201.3,169.6 201.6,169.9 201.9,169.4 202.2,169.4 202.6,169.3 202.9,169.4 203.2,169.4 203.5,169.7 203.8,169.4 204.2,169.5 204.5,169.4 204.8,169.7 205.1,169.9 205.5,169.7 205.8,169.4 206.1,169.8 206.4,169.9 206.7,169.7 207.1,169.3 207.4,169.8 207.7,169.9 208.0,169.5 208.3,169.3 208.7,169.3 209.0,169.5 209.3,169.6 209.6,169.3 210.0,169.1 210.3,168.2 210.6,168.0 210.9,168.2 211.2,168.2 211.6,168.4 211.9,168.9 212.2,169.0 212.5,169.1 212.8,169.5 213.2,169.3 213.5,169.7 213.8,169.5 214.1,169.6 214.5,169.7 214.8,169.4 215.1,169.6 215.4,169.3 215.7,169.9 216.1,169.6 216.4,169.9 216.7,169.3 217.0,169.7 217.3,169.8 217.7,169.5 218.0,169.3 218.3,169.4 218.6,169.3 218.9,169.8 219.3,169.3 219.6,169.8 219.9,169.5 220.2,169.6 220.6,169.7 220.9,169.6 221.2,169.7 221.5,169.7 221.8,169.5 222.2,169.8 222.5,169.4 222.8,169.8 223.1,169.9 223.4,170.1 223.8,170.1 224.1,170.7 224.4,170.9 224.7,170.4 225.1,169.9 225.4,169.6 225.7,169.5 226.0,168.6 226.3,168.4 226.7,168.8 227.0,169.2 227.3,169.5 227.6,169.4 227.9,169.9 228.3,169.4 228.6,169.8 228.9,169.3 229.2,169.3 229.6,169.3 229.9,169.3 230.2,169.6 230.5,169.6 230.8,169.4 231.2,169.9 231.5,169.5 231.8,169.4 232.1,169.4 232.4,169.8 232.8,170.0 233.1,169.6 233.4,169.8 233.7,170.5 234.1,170.2 234.4,170.6 234.7,170.1 235.0,170.0 235.3,169.6 235.7,169.8 236.0,169.6 236.3,169.5 236.6,169.9 236.9,169.3 237.3,169.8 237.6,169.3 237.9,169.7 238.2,169.5 238.6,169.9 238.9,169.3 239.2,169.6 239.5,169.5 239.8,169.9 240.2,169.9 240.5,169.7 240.8,169.4 241.1,169.3 241.4,169.2 241.8,169.1 242.1,168.7 242.4,168.6 242.7,169.1 243.1,169.2 243.4,169.2 243.7,169.8 244.0,169.4 244.3,169.6 244.7,169.4 245.0,169.9 245.3,169.9 245.6,169.4 245.9,169.8 246.3,169.8 246.6,169.4 246.9,169.5 247.2,169.6 247.6,169.9 247.9,169.4 248.2,169.7 248.5,169.7 248.8,169.6 249.2,169.7 249.5,169.9 249.8,169.4 250.1,169.9 250.4,169.5 250.8,169.8 251.1,169.9 251.4,169.4 251.7,169.8 252.1,169.9 252.4,169.2 252.7,168.8 253.0,168.7 253.3,169.2 253.7,168.6 254.0,169.5 254.3,169.1 254.6,169.7 254.9,169.3 255.3,169.4 255.6,169.7 255.9,169.3 256.2,169.5 256.6,169.9 256.9,169.8 257.2,169.9 257.5,169.9 257.8,169.3 258.2,169.4 258.5,169.8 258.8,169.7 259.1,169.3 259.4,169.6 259.8,169.4 260.1,169.6 260.4,169.3 260.7,169.3 261.1,169.9 261.4,169.5 261.7,169.9 262.0,169.3 262.3,169.6 262.7,169.3 263.0,169.5 263.3,169.4 263.6,169.7 263.9,169.4 264.3,169.8 264.6,169.6 264.9,169.3 265.2,169.5 265.6,169.6 265.9,169.9 266.2,169.5"/>
</g>
<rect x="41.2" y="4.5" width="225.0" height="181.1" fill="none" stroke="#333" stroke-width="1.1"/>
<path d="M41.2,185.6v3.6M57.3,185.6v2.0M73.3,185.6v3.6M89.4,185.6v2.0M105.5,185.6v3.6M121.6,185.6v2.0M137.6,185.6v3.6M153.7,185.6v2.0M169.8,185.6v3.6M185.8,185.6v2.0M201.9,185.6v3.6M218.0,185.6v2.0M234.1,185.6v3.6M250.1,185.6v2.0M266.2,185.6v3.6" stroke="#222" stroke-width="0.9" fill="none"/>
<text x="41.2" y="197.5" text-anchor="middle" style="font-size:7.3px">20</text>
<text x="73.3" y="197.5" text-anchor="middle" style="font-size:7.3px">30</text>
<text x="105.5" y="197.5" text-anchor="middle" style="font-size:7.3px">40</text>
<text x="137.6" y="197.5" text-anchor="middle" style="font-size:7.3px">50</text>
<text x="169.8" y="197.5" text-anchor="middle" style="font-size:7.3px">60</text>
<text x="201.9" y="197.5" text-anchor="middle" style="font-size:7.3px">70</text>
<text x="234.1" y="197.5" text-anchor="middle" style="font-size:7.3px">80</text>
<text x="266.2" y="197.5" text-anchor="middle" style="font-size:7.3px">90</text>
<text x="147.6" y="210.4" text-anchor="middle" style="font-size:9.3px">2Theta(degree)</text>
<text transform="translate(33.4,97.6) rotate(-90)" text-anchor="middle" style="font-size:9.4px">Intensity(a.u.)</text>
<text x="22.9" y="17.5" style="font-size:10.2px;font-weight:bold">(a)</text>
<text x="65.6" y="25.4" style="font-size:12px"><tspan font-style="italic">R</tspan><tspan dy="2.2" style="font-size:7.6px">p</tspan><tspan dy="-2.2"> = 9.46%</tspan></text>
<text x="65.6" y="40" style="font-size:12px"><tspan font-style="italic">R</tspan><tspan dy="2.2" style="font-size:7.2px">wp</tspan><tspan dy="-2.2"> = 12.44%</tspan></text>
<use href="#xm" x="206.7" y="25.4"/>
<path d="M196.5,37.4H215.8" stroke="#ff8a1e" stroke-width="1.4"/>
<path d="M196.5,48.3H215.8" stroke="#f0141e" stroke-width="1.4"/>
<path d="M196.5,60.3H215.8" stroke="#8c28e6" stroke-width="1.4"/>
<path d="M198,70V73.8" stroke="#ff36ea" stroke-width="1.1"/>
<text x="218.9" y="28" style="font-size:9.3px">obs.</text>
<text x="217.6" y="40.2" style="font-size:9.3px">calc.</text>
<text x="218.4" y="50.9" style="font-size:9.3px">bkg.</text>
<text x="218.4" y="63.1" style="font-size:9.3px">diff.</text>
<text x="210" y="75" style="font-size:9.3px">CaZnOS</text>
<g id="struct" filter="url(#soft)">
<polygon points="338.7,52.0 385.2,52.0 385.2,85.9 338.7,85.9" fill="#9cc832" fill-opacity="1.00"/>
<polygon points="338.7,52.0 363.7,53.7 338.7,85.9" fill="#8eb22e" fill-opacity="1.00"/>
<polygon points="385.2,52.0 363.7,53.7 385.2,85.9" fill="#a6d62a" fill-opacity="1.00"/>
<polygon points="313.8,122.4 360.4,122.4 360.4,155.0 313.8,155.0" fill="#98c430" fill-opacity="1.00"/>
<polygon points="313.8,122.4 338.5,155.0 313.8,155.0" fill="#8eb22e" fill-opacity="1.00"/>
<polygon points="313.8,122.4 360.4,122.4 338.5,155.0" fill="#a8d838" fill-opacity="1.00"/>
<circle cx="311.8" cy="52.3" r="4.7" fill="url(#gS)"/>
<circle cx="337.7" cy="52.3" r="4.7" fill="url(#gS)"/>
<circle cx="385.0" cy="52.8" r="4.7" fill="url(#gS)"/>
<polygon points="315.0,15.5 292.9,49.6 317.8,52.4" fill="#cc7cd8" fill-opacity="0.60"/>
<polygon points="315.0,15.5 317.8,52.4 336.2,49.6" fill="#c470d2" fill-opacity="0.64"/>
<polygon points="340.0,15.5 319.3,49.6 337.7,52.4" fill="#cc7cd8" fill-opacity="0.60"/>
<polygon points="340.0,15.5 337.7,52.4 362.6,49.6" fill="#c470d2" fill-opacity="0.64"/>
<polygon points="361.0,15.5 339.2,49.6 364.1,52.4" fill="#cc7cd8" fill-opacity="0.60"/>
<polygon points="361.0,15.5 364.1,52.4 383.5,49.6" fill="#c470d2" fill-opacity="0.64"/>
<polygon points="386.3,15.5 365.6,49.6 385.0,52.4" fill="#cc7cd8" fill-opacity="0.60"/>
<polygon points="386.3,15.5 385.0,52.4 407.5,49.6" fill="#c470d2" fill-opacity="0.64"/>
<circle cx="315.0" cy="38.4" r="7.3" fill="url(#gZn)" fill-opacity="0.86"/>
<circle cx="340.0" cy="38.4" r="7.3" fill="url(#gZn)" fill-opacity="0.86"/>
<circle cx="361.0" cy="38.4" r="7.3" fill="url(#gZn)" fill-opacity="0.86"/>
<circle cx="386.3" cy="38.4" r="7.3" fill="url(#gZn)" fill-opacity="0.86"/>
<circle cx="291.4" cy="49.9" r="4.7" fill="url(#gS)"/>
<circle cx="317.8" cy="49.9" r="4.7" fill="url(#gS)"/>
<circle cx="364.1" cy="50.4" r="4.7" fill="url(#gS)"/>
<circle cx="409.0" cy="50.9" r="4.7" fill="url(#gS)"/>
<circle cx="315.0" cy="15.5" r="4.3" fill="url(#gO)"/>
<circle cx="340.0" cy="15.5" r="4.3" fill="url(#gO)"/>
<circle cx="361.0" cy="15.5" r="4.3" fill="url(#gO)"/>
<circle cx="386.3" cy="16.4" r="4.3" fill="url(#gO)"/>
<circle cx="380.2" cy="123.3" r="4.6" fill="url(#gS)"/>
<polygon points="314.2,85.5 290.5,118.6 315.4,121.0" fill="#a868b4" fill-opacity="0.78"/>
<polygon points="314.2,85.5 315.4,121.0 339.1,118.6" fill="#d898d8" fill-opacity="0.72"/>
<polygon points="338.5,85.5 316.9,118.6 340.6,121.0" fill="#a868b4" fill-opacity="0.78"/>
<polygon points="338.5,85.5 340.6,121.0 359.5,118.6" fill="#d898d8" fill-opacity="0.72"/>
<polygon points="360.2,85.5 342.1,118.6 361.0,121.0" fill="#a868b4" fill-opacity="0.78"/>
<polygon points="360.2,85.5 361.0,121.0 385.2,118.6" fill="#d898d8" fill-opacity="0.72"/>
<polygon points="385.0,85.5 362.5,118.6 386.7,121.0" fill="#a868b4" fill-opacity="0.78"/>
<polygon points="385.0,85.5 386.7,121.0 406.3,118.6" fill="#d898d8" fill-opacity="0.72"/>
<circle cx="314.2" cy="108.6" r="7.3" fill="url(#gZn)" fill-opacity="0.86"/>
<path d="M314.8,101.3a7.3,7.3 0 0 0 0,14.6z" fill="#8a1088" fill-opacity="0.55"/>
<circle cx="338.5" cy="108.6" r="7.3" fill="url(#gZn)" fill-opacity="0.86"/>
<path d="M339.1,101.3a7.3,7.3 0 0 0 0,14.6z" fill="#8a1088" fill-opacity="0.55"/>
<circle cx="360.2" cy="108.6" r="7.3" fill="url(#gZn)" fill-opacity="0.86"/>
<path d="M360.8,101.3a7.3,7.3 0 0 0 0,14.6z" fill="#8a1088" fill-opacity="0.55"/>
<circle cx="384.6" cy="108.6" r="7.3" fill="url(#gZn)" fill-opacity="0.86"/>
<path d="M385.2,101.3a7.3,7.3 0 0 0 0,14.6z" fill="#8a1088" fill-opacity="0.55"/>
<circle cx="289.0" cy="120.4" r="4.6" fill="url(#gS)"/>
<circle cx="315.4" cy="120.9" r="4.6" fill="url(#gS)"/>
<circle cx="340.6" cy="121.6" r="4.6" fill="url(#gS)"/>
<circle cx="361.0" cy="120.9" r="4.6" fill="url(#gS)"/>
<circle cx="386.7" cy="121.6" r="4.6" fill="url(#gS)"/>
<circle cx="407.8" cy="121.6" r="4.6" fill="url(#gS)"/>
<circle cx="314.2" cy="85.3" r="4.2" fill="url(#gO)"/>
<circle cx="339.0" cy="85.8" r="4.2" fill="url(#gO)"/>
<circle cx="360.4" cy="87.6" r="4.2" fill="url(#gO)"/>
<circle cx="385.6" cy="86.2" r="4.2" fill="url(#gO)"/>
<circle cx="361.8" cy="77.4" r="9.1" fill="url(#gCa)"/>
<circle cx="337.1" cy="146.4" r="8.7" fill="url(#gCa)"/>
<circle cx="309.9" cy="192.8" r="4.7" fill="url(#gS)"/>
<circle cx="356.2" cy="193.3" r="4.7" fill="url(#gS)"/>
<polygon points="312.7,156.2 291.7,189.4 316.1,192.2" fill="#cc7cd8" fill-opacity="0.60"/>
<polygon points="312.7,156.2 316.1,192.2 334.8,189.4" fill="#c470d2" fill-opacity="0.64"/>
<polygon points="338.9,156.2 317.6,189.4 336.3,192.2" fill="#cc7cd8" fill-opacity="0.60"/>
<polygon points="338.9,156.2 336.3,192.2 360.2,189.4" fill="#c470d2" fill-opacity="0.64"/>
<polygon points="358.8,156.2 337.8,189.4 361.7,192.2" fill="#cc7cd8" fill-opacity="0.60"/>
<polygon points="358.8,156.2 361.7,192.2 381.1,189.4" fill="#c470d2" fill-opacity="0.64"/>
<polygon points="384.0,156.2 363.2,189.4 382.6,192.2" fill="#cc7cd8" fill-opacity="0.60"/>
<polygon points="384.0,156.2 382.6,192.2 406.8,189.4" fill="#c470d2" fill-opacity="0.64"/>
<circle cx="312.7" cy="178.7" r="7.3" fill="url(#gZn)" fill-opacity="0.86"/>
<circle cx="338.4" cy="178.7" r="7.3" fill="url(#gZn)" fill-opacity="0.86"/>
<circle cx="359.0" cy="178.7" r="7.3" fill="url(#gZn)" fill-opacity="0.86"/>
<circle cx="384.6" cy="178.7" r="7.3" fill="url(#gZn)" fill-opacity="0.86"/>
<circle cx="290.2" cy="190.4" r="4.7" fill="url(#gS)"/>
<circle cx="316.1" cy="190.4" r="4.7" fill="url(#gS)"/>
<circle cx="336.3" cy="192.8" r="4.7" fill="url(#gS)"/>
<circle cx="361.7" cy="190.9" r="4.7" fill="url(#gS)"/>
<circle cx="382.6" cy="192.8" r="4.7" fill="url(#gS)"/>
<circle cx="408.3" cy="191.6" r="4.7" fill="url(#gS)"/>
<circle cx="312.6" cy="155.9" r="4.1" fill="url(#gO)"/>
<circle cx="338.7" cy="156.4" r="4.1" fill="url(#gO)"/>
<circle cx="359.2" cy="156.3" r="4.1" fill="url(#gO)"/>
<circle cx="384.0" cy="157.0" r="4.1" fill="url(#gO)"/>
</g>
<path d="M438.5,20.8L475,21.9M452.3,21.6V43.5" stroke="#111" stroke-width="0.9" fill="none"/>
<path d="M436.2,20.7l4.2,-1.6v3.4zM477.4,22l-4.2,-1.9v3.6zM452.3,46.2l-1.8,-4.2h3.6z" fill="#111"/>
<text x="429.6" y="23.3" style="font-size:11px">a</text>
<text x="479.4" y="24.8" style="font-size:11px">b</text>
<text x="449.8" y="54.3" style="font-size:11px">c</text>
<circle cx="501.5" cy="58.0" r="5.6" fill="url(#gZnL)"/>
<circle cx="501.5" cy="71.8" r="5.6" fill="url(#gCaL)"/>
<circle cx="501.5" cy="85.1" r="5.6" fill="url(#gS)"/>
<circle cx="501.5" cy="98.5" r="5.6" fill="url(#gO)"/>
<text x="512.3" y="61.5" style="font-size:10.7px">Zn<tspan dy="-3.1" style="font-size:6.2px">2+</tspan></text>
<text x="511.2" y="76.3" style="font-size:10.7px">Ca<tspan dy="-3.1" style="font-size:6.2px">2+</tspan></text>
<text x="514.3" y="89.7" style="font-size:10.7px">S<tspan dy="-3.1" style="font-size:6.2px">2-</tspan></text>
<text x="513.8" y="103.8" style="font-size:10.7px">O<tspan dy="-3.1" style="font-size:6.2px">2-</tspan></text>
<g filter="url(#soft)">
<polygon points="455.4,76.6 436.6,96.0 450.4,102.8" fill="#a868b4" fill-opacity="0.75"/>
<polygon points="455.4,76.6 450.4,102.8 470.9,98.2" fill="#d898d8" fill-opacity="0.75"/>
<circle cx="455.8" cy="93.2" r="5.4" fill="url(#gZn)"/>
<path d="M456.2,87.8a5.4,5.4 0 0 0 0,10.8z" fill="#8a1088" fill-opacity="0.4"/>
<circle cx="436.6" cy="96.0" r="3.2" fill="url(#gS2)"/>
<circle cx="450.4" cy="102.8" r="3.2" fill="url(#gS2)"/>
<circle cx="470.9" cy="98.2" r="3.0" fill="url(#gO)"/>
<circle cx="455.4" cy="76.6" r="3.4" fill="url(#gS2)"/>
</g>
<text x="454.3" y="119.9" text-anchor="middle" style="font-size:10.8px">ZnS<tspan dy="2.2" style="font-size:7px">3</tspan><tspan dy="-2.2">O</tspan></text>
<g filter="url(#soft)">
<polygon points="453.7,137.0 434.5,151.6 444.4,169.3 459.3,159.0 464.6,154.4" fill="#a2ce54" fill-opacity="1.00"/>
<polygon points="434.5,151.6 444.4,169.3 449.8,156.0" fill="#7a9e30" fill-opacity="1.00"/>
<polygon points="449.8,156.0 444.4,169.3 459.3,159.0" fill="#8cb838" fill-opacity="1.00"/>
<polygon points="453.7,137.0 449.8,156.0 459.3,159.0 464.6,154.4" fill="#98c646" fill-opacity="1.00"/>
<circle cx="439.9" cy="146.7" r="2.2" fill="url(#gO)"/>
<polygon points="489.0,149.2 488.8,147.4 488.4,145.8 487.7,144.2 486.9,142.7 485.8,141.3 484.6,140.0 483.2,138.8 481.8,137.7 480.1,136.8 478.4,135.9 476.7,135.2 474.8,134.7 472.9,134.3 471.0,134.1 469.1,134.0 467.1,134.1 465.2,134.4 463.3,135.0 461.5,135.7 459.7,136.6 458.0,137.8 456.5,139.3 455.1,140.9 453.8,142.8 452.2,142.0 451.5,150.3 458.2,145.2 456.6,144.4 457.6,142.7 458.7,141.3 459.9,140.1 461.3,139.1 462.7,138.2 464.2,137.5 465.8,137.0 467.5,136.7 469.2,136.5 470.9,136.5 472.6,136.6 474.3,136.9 476.0,137.3 477.7,137.9 479.2,138.5 480.7,139.3 482.1,140.3 483.4,141.3 484.5,142.4 485.5,143.6 486.4,144.9 487.0,146.3 487.5,147.7 487.8,149.2" fill="url(#gArcG)"/>
<polygon points="487.6,167.5 487.0,169.0 486.3,170.5 485.4,171.8 484.4,172.9 483.1,174.0 481.8,174.9 480.3,175.7 478.7,176.3 477.1,176.9 475.3,177.3 473.6,177.5 471.7,177.6 469.9,177.6 468.1,177.4 466.3,177.1 464.5,176.7 462.8,176.1 461.2,175.3 459.7,174.5 458.3,173.5 457.0,172.3 455.9,171.0 454.9,169.6 454.0,168.1 455.6,167.4 449.5,162.5 449.6,170.2 451.2,169.5 452.2,171.3 453.5,173.0 455.0,174.5 456.5,175.8 458.2,176.9 460.0,177.8 461.9,178.5 463.8,179.1 465.8,179.5 467.8,179.8 469.8,179.9 471.8,179.9 473.8,179.7 475.8,179.3 477.6,178.8 479.4,178.1 481.1,177.3 482.7,176.4 484.2,175.3 485.5,174.1 486.6,172.7 487.6,171.2 488.3,169.5 488.8,167.7" fill="url(#gArcP)"/>
<circle cx="449.8" cy="155.4" r="4.9" fill="url(#gCa2)"/>
<circle cx="453.7" cy="136.4" r="2.8" fill="url(#gS2)"/>
<circle cx="433.8" cy="151.9" r="2.9" fill="url(#gS2)"/>
<circle cx="465.1" cy="154.5" r="2.5" fill="url(#gO)"/>
<circle cx="444.4" cy="170.3" r="2.6" fill="url(#gO)"/>
<circle cx="458.9" cy="158.9" r="2.9" fill="url(#gS2)"/>
<circle cx="487.7" cy="152.6" r="4.5" fill="url(#gTb)"/>
<circle cx="487.7" cy="164.5" r="4.5" fill="url(#gSm)"/>
</g>
<text x="499.2" y="155.9" style="font-size:10.7px">Tb<tspan dy="-3.1" style="font-size:6.2px">3+</tspan></text>
<text x="499.2" y="169.5" style="font-size:10.7px">Sm<tspan dy="-3.1" style="font-size:6.2px">3+</tspan></text>
<text x="456.8" y="190.1" text-anchor="middle" style="font-size:10.9px">CaS<tspan dy="2.2" style="font-size:7px">3</tspan><tspan dy="-2.2">O</tspan><tspan dy="2.2" style="font-size:7px">3</tspan></text>
<text x="281.6" y="16.4" style="font-size:10.4px;font-weight:bold">(b)</text>
<path d="M41.5,226.5V394.4H250.0" stroke="#333" stroke-width="1.1" fill="none"/>
<path d="M41.5,226.5H250.0" stroke="#333" stroke-width="1.1" fill="none"/>
<path d="M250.1,226.1V394.8" stroke="#f0141e" stroke-width="1.2" fill="none"/>
<path d="M41.5,384.9h-3.0M41.5,375.6h-1.6M41.5,366.2h-3.0M41.5,356.9h-1.6M41.5,347.5h-3.0M41.5,338.2h-1.6M41.5,328.8h-3.0M41.5,319.5h-1.6M41.5,310.2h-3.0M41.5,300.8h-1.6M41.5,291.5h-3.0M41.5,282.1h-1.6M41.5,272.8h-3.0M41.5,263.4h-1.6M41.5,254.1h-3.0M41.5,244.7h-1.6M41.5,235.4h-3.0M59.0,394.4v3.0M59.0,226.5v3.0M76.4,394.4v1.6M76.4,226.5v1.6M93.8,394.4v3.0M93.8,226.5v3.0M111.2,394.4v1.6M111.2,226.5v1.6M128.6,394.4v3.0M128.6,226.5v3.0M146.0,394.4v1.6M146.0,226.5v1.6M163.4,394.4v3.0M163.4,226.5v3.0M180.8,394.4v1.6M180.8,226.5v1.6M198.2,394.4v3.0M198.2,226.5v3.0M215.6,394.4v1.6M215.6,226.5v1.6M233.0,394.4v3.0M233.0,226.5v3.0" stroke="#222" stroke-width="0.9" fill="none"/>
<path d="M250.0,393.6h-3.3M250.0,378.4h-1.7M250.0,363.2h-3.3M250.0,348.0h-1.7M250.0,332.8h-3.3M250.0,317.6h-1.7M250.0,302.4h-3.3M250.0,287.2h-1.7M250.0,272.0h-3.3M250.0,256.8h-1.7M250.0,241.6h-3.3" stroke="#f0141e" stroke-width="0.9" fill="none"/>
<text x="36.3" y="387.2" text-anchor="end" style="font-size:7.5px">3.760</text>
<text x="36.3" y="368.5" text-anchor="end" style="font-size:7.5px">3.765</text>
<text x="36.3" y="349.8" text-anchor="end" style="font-size:7.5px">3.770</text>
<text x="36.3" y="331.1" text-anchor="end" style="font-size:7.5px">3.775</text>
<text x="36.3" y="312.5" text-anchor="end" style="font-size:7.5px">3.780</text>
<text x="36.3" y="293.8" text-anchor="end" style="font-size:7.5px">3.785</text>
<text x="36.3" y="275.1" text-anchor="end" style="font-size:7.5px">3.790</text>
<text x="36.3" y="256.4" text-anchor="end" style="font-size:7.5px">3.795</text>
<text x="36.3" y="237.7" text-anchor="end" style="font-size:7.5px">3.800</text>
<text x="59.3" y="404.7" text-anchor="middle" style="font-size:7.5px">0.000</text>
<text x="94.1" y="404.7" text-anchor="middle" style="font-size:7.5px">0.002</text>
<text x="128.9" y="404.7" text-anchor="middle" style="font-size:7.5px">0.004</text>
<text x="163.7" y="404.7" text-anchor="middle" style="font-size:7.5px">0.006</text>
<text x="198.5" y="404.7" text-anchor="middle" style="font-size:7.5px">0.008</text>
<text x="233.3" y="404.7" text-anchor="middle" style="font-size:7.5px">0.010</text>
<text x="254.3" y="396.1" class="simsun" textLength="20.6" lengthAdjust="spacingAndGlyphs" style="font-size:7.6px;fill:#f01822">11. 365</text>
<text x="254.3" y="365.7" class="simsun" textLength="20.6" lengthAdjust="spacingAndGlyphs" style="font-size:7.6px;fill:#f01822">11. 370</text>
<text x="254.3" y="335.3" class="simsun" textLength="20.6" lengthAdjust="spacingAndGlyphs" style="font-size:7.6px;fill:#f01822">11. 375</text>
<text x="254.3" y="304.9" class="simsun" textLength="20.6" lengthAdjust="spacingAndGlyphs" style="font-size:7.6px;fill:#f01822">11. 380</text>
<text x="254.3" y="274.5" class="simsun" textLength="20.6" lengthAdjust="spacingAndGlyphs" style="font-size:7.6px;fill:#f01822">11. 385</text>
<text x="254.3" y="244.1" class="simsun" textLength="20.6" lengthAdjust="spacingAndGlyphs" style="font-size:7.6px;fill:#f01822">11. 390</text>
<polyline fill="none" stroke="#111" stroke-width="1.25" points="67.7,241.8 76.4,265.1 94.0,294.3 146.3,342.4 233.0,381.9"/>
<polyline fill="none" stroke="#ff0808" stroke-width="1.25" points="67.6,247.2 76.1,290.0 93.7,308.1 145.9,357.3 233.0,375.4"/>
<rect x="66.0" y="240.1" width="3.4" height="3.4" fill="#111"/>
<rect x="74.7" y="263.4" width="3.4" height="3.4" fill="#111"/>
<rect x="92.3" y="292.6" width="3.4" height="3.4" fill="#111"/>
<rect x="144.6" y="340.7" width="3.4" height="3.4" fill="#111"/>
<rect x="231.3" y="380.2" width="3.4" height="3.4" fill="#111"/>
<rect x="65.8" y="245.4" width="3.6" height="3.6" fill="#ff0808"/>
<rect x="74.3" y="288.2" width="3.6" height="3.6" fill="#ff0808"/>
<rect x="91.9" y="306.3" width="3.6" height="3.6" fill="#ff0808"/>
<rect x="144.1" y="355.5" width="3.6" height="3.6" fill="#ff0808"/>
<rect x="231.2" y="373.6" width="3.6" height="3.6" fill="#ff0808"/>
<text x="146.5" y="417.3" text-anchor="middle" style="font-size:9px">Ca<tspan dy="2" style="font-size:5.6px">0.97-<tspan font-style="italic">y</tspan></tspan><tspan dy="-2">ZnOS:0.03Tb</tspan><tspan dy="-3" style="font-size:5.6px">3+</tspan><tspan dy="3">,</tspan><tspan font-style="italic">y</tspan>Sm<tspan dy="-3" style="font-size:5.6px">3+</tspan></text>
<text transform="translate(16.9,308.8) rotate(-90)" text-anchor="middle" style="font-size:8.5px">a/b(Å)</text>
<text transform="translate(288.4,308) rotate(-90)" text-anchor="middle" style="font-size:8.4px">c(Å)</text>
<text x="3" y="237.5" style="font-size:10.6px;font-weight:bold">(c)</text>
<rect x="334.0" y="225.5" width="212.0" height="170.9" fill="none" stroke="#333" stroke-width="1.1"/>
<path d="M334.0,396.4h-3.0M334.0,386.4h-1.6M334.0,376.3h-3.0M334.0,366.2h-1.6M334.0,356.1h-3.0M334.0,346.1h-1.6M334.0,336.0h-3.0M334.0,325.9h-1.6M334.0,315.9h-3.0M334.0,305.8h-1.6M334.0,295.7h-3.0M334.0,285.7h-1.6M334.0,275.6h-3.0M334.0,265.5h-1.6M334.0,255.4h-3.0M334.0,245.4h-1.6M334.0,235.3h-3.0M351.6,396.4v3.0M369.3,396.4v1.6M386.9,396.4v3.0M404.6,396.4v1.6M422.3,396.4v3.0M440.0,396.4v1.6M457.6,396.4v3.0M475.3,396.4v1.6M493.0,396.4v3.0M510.6,396.4v1.6M528.3,396.4v3.0" stroke="#222" stroke-width="0.9" fill="none"/>
<text x="328.2" y="398.7" text-anchor="end" style="font-size:7.4px">160.5</text>
<text x="328.2" y="378.6" text-anchor="end" style="font-size:7.4px">161.0</text>
<text x="328.2" y="358.4" text-anchor="end" style="font-size:7.4px">161.5</text>
<text x="328.2" y="338.3" text-anchor="end" style="font-size:7.4px">162.0</text>
<text x="328.2" y="318.2" text-anchor="end" style="font-size:7.4px">162.5</text>
<text x="328.2" y="298.0" text-anchor="end" style="font-size:7.4px">163.0</text>
<text x="328.2" y="277.9" text-anchor="end" style="font-size:7.4px">163.5</text>
<text x="328.2" y="257.7" text-anchor="end" style="font-size:7.4px">164.0</text>
<text x="328.2" y="237.6" text-anchor="end" style="font-size:7.4px">164.5</text>
<text x="351.6" y="407.3" text-anchor="middle" style="font-size:7.4px">0.000</text>
<text x="386.9" y="407.3" text-anchor="middle" style="font-size:7.4px">0.002</text>
<text x="422.3" y="407.3" text-anchor="middle" style="font-size:7.4px">0.004</text>
<text x="457.6" y="407.3" text-anchor="middle" style="font-size:7.4px">0.006</text>
<text x="493.0" y="407.3" text-anchor="middle" style="font-size:7.4px">0.008</text>
<text x="528.3" y="407.3" text-anchor="middle" style="font-size:7.4px">0.010</text>
<polyline fill="none" stroke="#111" stroke-width="1.1" points="360.4,242.9 369.2,268.6 386.8,297.1 439.9,346.6 528.3,384.7"/>
<rect x="358.7" y="241.2" width="3.4" height="3.4" fill="#111"/>
<rect x="367.5" y="266.9" width="3.4" height="3.4" fill="#111"/>
<rect x="385.1" y="295.4" width="3.4" height="3.4" fill="#111"/>
<rect x="438.2" y="344.9" width="3.4" height="3.4" fill="#111"/>
<rect x="526.6" y="383.0" width="3.4" height="3.4" fill="#111"/>
<text x="440.6" y="417.8" text-anchor="middle" style="font-size:9px">Ca<tspan dy="2" style="font-size:5.6px">0.97-<tspan font-style="italic">y</tspan></tspan><tspan dy="-2">ZnOS:0.03Tb</tspan><tspan dy="-3" style="font-size:5.6px">3+</tspan><tspan dy="3">,</tspan><tspan font-style="italic">y</tspan>Sm<tspan dy="-3" style="font-size:5.6px">3+</tspan></text>
<text transform="translate(307.9,310.4) rotate(-90)" text-anchor="middle" style="font-size:8.4px">V(Å<tspan dy="-2.8" style="font-size:5.4px">3</tspan><tspan dy="2.8">)</tspan></text>
<text x="293.5" y="237.9" style="font-size:10.4px;font-weight:bold">(d)</text>
</svg></body></html>
